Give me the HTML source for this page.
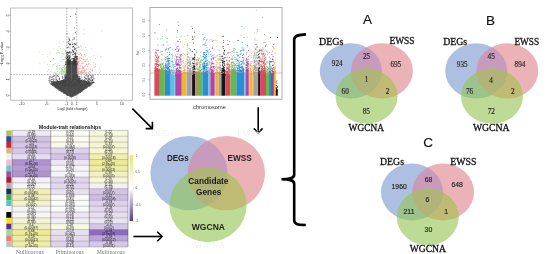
<!DOCTYPE html>
<html><head><meta charset="utf-8"><title>Figure</title>
<style>html,body{margin:0;padding:0;background:#fff;overflow:hidden;} svg{display:block;filter:blur(0.3px);}</style></head>
<body><svg width="550" height="254" viewBox="0 0 550 254">
<rect width="550" height="254" fill="#fff"/>
<rect x="10.5" y="8.0" width="122.0" height="92.2" fill="#fff" stroke="#b0b0b0" stroke-width="0.8"/>
<line x1="8.9" y1="95.3" x2="10.5" y2="95.3" stroke="#777" stroke-width="0.5"/>
<text x="7.4" y="95.3" font-size="4.1" fill="#444" text-anchor="middle" dominant-baseline="central" transform="rotate(-90 7.4 95.3)" font-family="'Liberation Sans', Arial, sans-serif">0</text>
<line x1="8.9" y1="79.3" x2="10.5" y2="79.3" stroke="#777" stroke-width="0.5"/>
<text x="7.4" y="79.3" font-size="4.1" fill="#444" text-anchor="middle" dominant-baseline="central" transform="rotate(-90 7.4 79.3)" font-family="'Liberation Sans', Arial, sans-serif">1</text>
<line x1="8.9" y1="63.3" x2="10.5" y2="63.3" stroke="#777" stroke-width="0.5"/>
<text x="7.4" y="63.3" font-size="4.1" fill="#444" text-anchor="middle" dominant-baseline="central" transform="rotate(-90 7.4 63.3)" font-family="'Liberation Sans', Arial, sans-serif">2</text>
<line x1="8.9" y1="47.3" x2="10.5" y2="47.3" stroke="#777" stroke-width="0.5"/>
<text x="7.4" y="47.3" font-size="4.1" fill="#444" text-anchor="middle" dominant-baseline="central" transform="rotate(-90 7.4 47.3)" font-family="'Liberation Sans', Arial, sans-serif">3</text>
<line x1="8.9" y1="31.3" x2="10.5" y2="31.3" stroke="#777" stroke-width="0.5"/>
<text x="7.4" y="31.3" font-size="4.1" fill="#444" text-anchor="middle" dominant-baseline="central" transform="rotate(-90 7.4 31.3)" font-family="'Liberation Sans', Arial, sans-serif">4</text>
<line x1="8.9" y1="15.3" x2="10.5" y2="15.3" stroke="#777" stroke-width="0.5"/>
<text x="7.4" y="15.3" font-size="4.1" fill="#444" text-anchor="middle" dominant-baseline="central" transform="rotate(-90 7.4 15.3)" font-family="'Liberation Sans', Arial, sans-serif">5</text>
<line x1="21.8" y1="100.2" x2="21.8" y2="101.8" stroke="#777" stroke-width="0.5"/>
<text x="21.8" y="105.2" font-size="3.9" fill="#444" text-anchor="middle" font-family="'Liberation Sans', Arial, sans-serif">-10</text>
<line x1="46.8" y1="100.2" x2="46.8" y2="101.8" stroke="#777" stroke-width="0.5"/>
<text x="46.8" y="105.2" font-size="3.9" fill="#444" text-anchor="middle" font-family="'Liberation Sans', Arial, sans-serif">-5</text>
<line x1="66.8" y1="100.2" x2="66.8" y2="101.8" stroke="#777" stroke-width="0.5"/>
<text x="66.8" y="105.2" font-size="3.9" fill="#444" text-anchor="middle" font-family="'Liberation Sans', Arial, sans-serif">-1</text>
<line x1="71.8" y1="100.2" x2="71.8" y2="101.8" stroke="#777" stroke-width="0.5"/>
<text x="71.8" y="105.2" font-size="3.9" fill="#444" text-anchor="middle" font-family="'Liberation Sans', Arial, sans-serif">0</text>
<line x1="76.8" y1="100.2" x2="76.8" y2="101.8" stroke="#777" stroke-width="0.5"/>
<text x="76.8" y="105.2" font-size="3.9" fill="#444" text-anchor="middle" font-family="'Liberation Sans', Arial, sans-serif">1</text>
<line x1="96.8" y1="100.2" x2="96.8" y2="101.8" stroke="#777" stroke-width="0.5"/>
<text x="96.8" y="105.2" font-size="3.9" fill="#444" text-anchor="middle" font-family="'Liberation Sans', Arial, sans-serif">5</text>
<line x1="121.8" y1="100.2" x2="121.8" y2="101.8" stroke="#777" stroke-width="0.5"/>
<text x="121.8" y="105.2" font-size="3.9" fill="#444" text-anchor="middle" font-family="'Liberation Sans', Arial, sans-serif">10</text>
<text x="72.5" y="109.6" font-size="3.7" fill="#222" text-anchor="middle" font-family="'Liberation Sans', Arial, sans-serif">Log<tspan font-size="2.6" dy="0.8">2</tspan><tspan dy="-0.8"> (fold change)</tspan></text>
<text x="3.4" y="54" font-size="3.7" fill="#222" text-anchor="middle" transform="rotate(-90 3.4 54)" font-family="'Liberation Sans', Arial, sans-serif">−Log<tspan font-size="2.6" dy="0.8">10</tspan><tspan dy="-0.8"> P-value</tspan></text>
<polygon points="50.6,84.0 52.9,85.7 55.2,87.5 57.5,89.1 59.8,90.7 62.2,92.3 64.5,93.7 66.8,95.0 69.1,96.2 71.4,97.0 73.7,96.2 76.0,95.0 78.3,93.7 80.6,92.3 83.0,90.7 85.3,89.1 87.6,87.5 89.9,85.7 92.2,84.0 90.5,82.2 87.0,81.2 83.0,80.4 79.2,79.2 78.2,76.0 77.6,70.0 77.0,64.0 74.6,58.5 72.3,61.0 71.0,61.0 68.8,58.5 66.4,64.0 65.8,70.0 65.2,76.0 64.2,79.2 60.4,80.4 56.4,81.2 52.8,82.2" fill="#4a4a4a"/>
<path fill="#606060" d="M78.6 77.5h0.85v0.85h-0.85zM52.2 76.3h0.85v0.85h-0.85zM63.7 79.3h0.85v0.85h-0.85zM85.1 82.9h0.85v0.85h-0.85zM64.5 82.6h0.85v0.85h-0.85zM70.9 84.2h0.85v0.85h-0.85zM69.2 85.3h0.85v0.85h-0.85zM88.3 84.6h0.85v0.85h-0.85zM90.2 79.4h0.85v0.85h-0.85zM55.7 79.8h0.85v0.85h-0.85zM72.5 84.1h0.85v0.85h-0.85zM79.5 78.9h0.85v0.85h-0.85zM69.9 84.5h0.85v0.85h-0.85zM78.9 85.3h0.85v0.85h-0.85zM64.6 76.1h0.85v0.85h-0.85zM87.0 85.3h0.85v0.85h-0.85zM60.6 83.8h0.85v0.85h-0.85zM74.9 83.6h0.85v0.85h-0.85zM74.3 80.9h0.85v0.85h-0.85zM68.7 79.4h0.85v0.85h-0.85zM53.8 80.7h0.85v0.85h-0.85zM77.3 85.2h0.85v0.85h-0.85zM49.2 80.5h0.85v0.85h-0.85zM63.9 80.8h0.85v0.85h-0.85zM85.0 82.4h0.85v0.85h-0.85zM52.3 82.8h0.85v0.85h-0.85zM87.0 75.7h0.85v0.85h-0.85zM90.3 84.2h0.85v0.85h-0.85zM85.5 75.3h0.85v0.85h-0.85zM53.7 78.8h0.85v0.85h-0.85zM54.6 81.1h0.85v0.85h-0.85zM68.7 82.4h0.85v0.85h-0.85zM73.3 85.3h0.85v0.85h-0.85zM81.7 79.3h0.85v0.85h-0.85zM90.1 82.6h0.85v0.85h-0.85zM61.4 84.1h0.85v0.85h-0.85zM83.4 84.4h0.85v0.85h-0.85zM87.1 77.7h0.85v0.85h-0.85zM65.7 78.9h0.85v0.85h-0.85zM68.7 76.2h0.85v0.85h-0.85zM92.4 81.8h0.85v0.85h-0.85zM83.9 76.8h0.85v0.85h-0.85zM91.1 75.8h0.85v0.85h-0.85zM89.9 84.9h0.85v0.85h-0.85zM77.4 83.4h0.85v0.85h-0.85zM70.6 74.5h0.85v0.85h-0.85zM69.6 79.5h0.85v0.85h-0.85zM72.5 82.2h0.85v0.85h-0.85zM85.8 81.9h0.85v0.85h-0.85zM83.6 80.2h0.85v0.85h-0.85zM87.1 79.7h0.85v0.85h-0.85zM72.4 82.0h0.85v0.85h-0.85zM50.1 79.8h0.85v0.85h-0.85zM70.5 79.7h0.85v0.85h-0.85zM84.5 78.7h0.85v0.85h-0.85zM82.3 82.1h0.85v0.85h-0.85zM65.8 83.8h0.85v0.85h-0.85zM51.3 79.3h0.85v0.85h-0.85zM89.2 83.9h0.85v0.85h-0.85zM58.7 85.2h0.85v0.85h-0.85zM52.9 81.7h0.85v0.85h-0.85zM70.3 77.2h0.85v0.85h-0.85zM86.7 84.8h0.85v0.85h-0.85zM71.1 85.2h0.85v0.85h-0.85zM62.0 78.0h0.85v0.85h-0.85zM74.3 81.0h0.85v0.85h-0.85zM71.4 74.8h0.85v0.85h-0.85zM53.5 81.4h0.85v0.85h-0.85zM48.9 78.6h0.85v0.85h-0.85zM55.4 74.7h0.85v0.85h-0.85zM82.3 83.1h0.85v0.85h-0.85zM68.7 75.6h0.85v0.85h-0.85zM79.1 76.0h0.85v0.85h-0.85zM87.7 80.4h0.85v0.85h-0.85zM72.9 80.8h0.85v0.85h-0.85zM82.4 79.5h0.85v0.85h-0.85zM58.6 84.4h0.85v0.85h-0.85zM89.2 78.6h0.85v0.85h-0.85zM52.2 83.2h0.85v0.85h-0.85zM50.4 76.0h0.85v0.85h-0.85zM54.1 75.5h0.85v0.85h-0.85zM83.0 85.3h0.85v0.85h-0.85zM93.7 78.1h0.85v0.85h-0.85zM91.9 77.1h0.85v0.85h-0.85zM60.9 84.4h0.85v0.85h-0.85zM78.6 85.0h0.85v0.85h-0.85zM85.3 78.1h0.85v0.85h-0.85zM77.3 78.8h0.85v0.85h-0.85zM48.5 78.0h0.85v0.85h-0.85zM70.6 80.1h0.85v0.85h-0.85zM55.1 83.0h0.85v0.85h-0.85zM66.4 82.2h0.85v0.85h-0.85zM85.4 81.7h0.85v0.85h-0.85zM80.1 82.4h0.85v0.85h-0.85zM90.4 83.1h0.85v0.85h-0.85zM90.3 79.5h0.85v0.85h-0.85zM77.5 84.2h0.85v0.85h-0.85zM59.6 84.5h0.85v0.85h-0.85zM72.6 83.6h0.85v0.85h-0.85zM53.8 81.9h0.85v0.85h-0.85zM81.6 82.3h0.85v0.85h-0.85zM75.7 77.5h0.85v0.85h-0.85zM84.8 77.2h0.85v0.85h-0.85zM90.5 83.2h0.85v0.85h-0.85zM62.2 77.3h0.85v0.85h-0.85zM87.2 79.6h0.85v0.85h-0.85zM92.4 83.0h0.85v0.85h-0.85zM59.3 81.8h0.85v0.85h-0.85zM87.2 79.7h0.85v0.85h-0.85zM67.4 83.3h0.85v0.85h-0.85zM50.5 83.3h0.85v0.85h-0.85zM75.2 80.3h0.85v0.85h-0.85zM75.6 82.4h0.85v0.85h-0.85zM70.9 76.6h0.85v0.85h-0.85zM58.6 83.7h0.85v0.85h-0.85zM91.3 76.9h0.85v0.85h-0.85z"/>
<path fill="#404040" d="M73.3 85.4h0.85v0.85h-0.85zM51.9 84.4h0.85v0.85h-0.85zM80.2 78.2h0.85v0.85h-0.85zM56.8 75.4h0.85v0.85h-0.85zM84.0 84.8h0.85v0.85h-0.85zM89.2 82.9h0.85v0.85h-0.85zM55.6 85.6h0.85v0.85h-0.85zM51.7 81.2h0.85v0.85h-0.85zM63.0 81.6h0.85v0.85h-0.85zM63.7 82.8h0.85v0.85h-0.85zM72.4 80.0h0.85v0.85h-0.85zM87.7 76.3h0.85v0.85h-0.85zM82.0 85.2h0.85v0.85h-0.85zM64.7 80.1h0.85v0.85h-0.85zM76.1 74.7h0.85v0.85h-0.85zM79.1 78.6h0.85v0.85h-0.85zM70.6 78.1h0.85v0.85h-0.85zM66.4 75.8h0.85v0.85h-0.85zM78.4 76.2h0.85v0.85h-0.85zM88.9 78.5h0.85v0.85h-0.85zM71.7 82.9h0.85v0.85h-0.85zM53.7 85.3h0.85v0.85h-0.85zM52.9 78.7h0.85v0.85h-0.85zM79.3 84.3h0.85v0.85h-0.85zM85.3 84.2h0.85v0.85h-0.85zM73.5 85.1h0.85v0.85h-0.85zM65.2 84.4h0.85v0.85h-0.85zM58.6 78.4h0.85v0.85h-0.85zM86.3 74.5h0.85v0.85h-0.85zM92.7 75.4h0.85v0.85h-0.85zM92.0 82.1h0.85v0.85h-0.85zM81.8 81.0h0.85v0.85h-0.85zM91.6 75.7h0.85v0.85h-0.85zM58.2 76.2h0.85v0.85h-0.85zM64.8 76.3h0.85v0.85h-0.85zM81.0 76.7h0.85v0.85h-0.85zM60.1 82.2h0.85v0.85h-0.85zM70.2 78.9h0.85v0.85h-0.85zM57.9 84.1h0.85v0.85h-0.85zM49.6 77.3h0.85v0.85h-0.85zM74.9 78.8h0.85v0.85h-0.85zM51.7 79.1h0.85v0.85h-0.85zM61.0 82.7h0.85v0.85h-0.85zM63.6 81.6h0.85v0.85h-0.85zM50.9 81.1h0.85v0.85h-0.85zM58.7 81.2h0.85v0.85h-0.85zM72.3 85.3h0.85v0.85h-0.85zM91.4 79.7h0.85v0.85h-0.85zM92.6 81.9h0.85v0.85h-0.85zM61.9 84.2h0.85v0.85h-0.85zM66.9 81.7h0.85v0.85h-0.85zM63.8 82.0h0.85v0.85h-0.85zM66.9 80.1h0.85v0.85h-0.85zM88.7 83.5h0.85v0.85h-0.85zM67.2 84.9h0.85v0.85h-0.85zM63.0 80.3h0.85v0.85h-0.85zM68.1 83.7h0.85v0.85h-0.85zM67.1 78.9h0.85v0.85h-0.85zM65.7 85.1h0.85v0.85h-0.85zM89.9 77.4h0.85v0.85h-0.85zM49.4 75.9h0.85v0.85h-0.85zM65.8 84.1h0.85v0.85h-0.85zM78.0 81.3h0.85v0.85h-0.85zM59.0 84.1h0.85v0.85h-0.85zM60.3 83.0h0.85v0.85h-0.85zM79.7 83.0h0.85v0.85h-0.85zM79.4 81.7h0.85v0.85h-0.85zM59.0 77.8h0.85v0.85h-0.85zM87.4 82.3h0.85v0.85h-0.85zM88.5 81.4h0.85v0.85h-0.85zM87.9 79.7h0.85v0.85h-0.85zM79.0 79.6h0.85v0.85h-0.85zM71.4 80.9h0.85v0.85h-0.85zM68.1 82.1h0.85v0.85h-0.85zM92.6 74.5h0.85v0.85h-0.85zM63.9 74.9h0.85v0.85h-0.85zM79.6 85.5h0.85v0.85h-0.85zM51.5 82.7h0.85v0.85h-0.85zM84.6 85.5h0.85v0.85h-0.85zM51.6 76.7h0.85v0.85h-0.85zM68.1 79.4h0.85v0.85h-0.85zM89.6 74.5h0.85v0.85h-0.85zM49.5 77.4h0.85v0.85h-0.85zM89.9 75.0h0.85v0.85h-0.85zM85.8 82.3h0.85v0.85h-0.85zM78.5 82.4h0.85v0.85h-0.85zM75.5 81.7h0.85v0.85h-0.85zM86.9 83.3h0.85v0.85h-0.85zM80.0 85.2h0.85v0.85h-0.85zM87.3 84.1h0.85v0.85h-0.85zM61.3 80.7h0.85v0.85h-0.85zM75.2 78.6h0.85v0.85h-0.85zM63.3 79.6h0.85v0.85h-0.85zM68.9 80.1h0.85v0.85h-0.85zM77.8 81.4h0.85v0.85h-0.85zM85.9 78.8h0.85v0.85h-0.85zM63.7 77.0h0.85v0.85h-0.85zM71.5 84.6h0.85v0.85h-0.85zM52.2 84.3h0.85v0.85h-0.85zM77.2 75.2h0.85v0.85h-0.85zM51.1 83.8h0.85v0.85h-0.85zM63.3 80.6h0.85v0.85h-0.85zM81.6 85.5h0.85v0.85h-0.85zM67.5 76.6h0.85v0.85h-0.85zM48.9 82.5h0.85v0.85h-0.85zM56.2 84.5h0.85v0.85h-0.85zM76.1 79.5h0.85v0.85h-0.85zM91.9 79.0h0.85v0.85h-0.85zM75.6 83.7h0.85v0.85h-0.85zM87.6 79.9h0.85v0.85h-0.85zM53.6 82.6h0.85v0.85h-0.85zM91.5 80.6h0.85v0.85h-0.85zM69.6 83.2h0.85v0.85h-0.85zM69.4 80.8h0.85v0.85h-0.85zM73.5 77.7h0.85v0.85h-0.85zM51.8 81.5h0.85v0.85h-0.85zM69.3 77.4h0.85v0.85h-0.85zM52.2 82.8h0.85v0.85h-0.85zM89.3 79.7h0.85v0.85h-0.85zM83.8 79.4h0.85v0.85h-0.85zM72.5 74.9h0.85v0.85h-0.85zM63.0 82.4h0.85v0.85h-0.85zM71.0 82.3h0.85v0.85h-0.85zM58.3 82.0h0.85v0.85h-0.85zM88.7 79.1h0.85v0.85h-0.85zM59.2 78.9h0.85v0.85h-0.85zM66.3 80.3h0.85v0.85h-0.85zM85.7 78.1h0.85v0.85h-0.85zM83.2 80.3h0.85v0.85h-0.85zM54.5 85.5h0.85v0.85h-0.85zM90.2 80.2h0.85v0.85h-0.85zM79.2 84.2h0.85v0.85h-0.85zM88.1 81.1h0.85v0.85h-0.85zM64.0 80.9h0.85v0.85h-0.85zM64.0 85.6h0.85v0.85h-0.85zM73.5 85.2h0.85v0.85h-0.85zM57.3 74.8h0.85v0.85h-0.85zM65.6 83.2h0.85v0.85h-0.85zM85.3 84.2h0.85v0.85h-0.85zM91.4 80.1h0.85v0.85h-0.85zM73.0 82.0h0.85v0.85h-0.85zM78.5 78.1h0.85v0.85h-0.85zM75.1 85.1h0.85v0.85h-0.85zM66.4 79.8h0.85v0.85h-0.85zM91.1 77.6h0.85v0.85h-0.85zM50.7 83.6h0.85v0.85h-0.85zM54.9 82.3h0.85v0.85h-0.85zM56.4 83.1h0.85v0.85h-0.85zM79.9 78.4h0.85v0.85h-0.85zM65.2 84.3h0.85v0.85h-0.85zM51.4 76.9h0.85v0.85h-0.85zM51.6 78.5h0.85v0.85h-0.85zM66.0 82.6h0.85v0.85h-0.85zM88.3 75.4h0.85v0.85h-0.85zM64.8 83.0h0.85v0.85h-0.85zM75.6 77.2h0.85v0.85h-0.85zM87.1 82.4h0.85v0.85h-0.85zM77.0 79.9h0.85v0.85h-0.85zM51.0 82.0h0.85v0.85h-0.85zM89.1 81.2h0.85v0.85h-0.85zM78.7 79.1h0.85v0.85h-0.85zM55.3 82.2h0.85v0.85h-0.85zM62.9 84.2h0.85v0.85h-0.85zM72.5 84.2h0.85v0.85h-0.85zM85.5 81.0h0.85v0.85h-0.85zM75.2 76.3h0.85v0.85h-0.85zM88.0 77.8h0.85v0.85h-0.85zM62.4 84.6h0.85v0.85h-0.85zM74.5 84.3h0.85v0.85h-0.85zM65.5 81.9h0.85v0.85h-0.85zM71.4 83.1h0.85v0.85h-0.85zM69.1 84.2h0.85v0.85h-0.85zM69.0 79.2h0.85v0.85h-0.85zM84.5 85.2h0.85v0.85h-0.85zM74.8 84.2h0.85v0.85h-0.85zM88.1 85.2h0.85v0.85h-0.85zM53.6 75.0h0.85v0.85h-0.85zM88.9 83.4h0.85v0.85h-0.85zM88.8 84.8h0.85v0.85h-0.85zM59.1 82.9h0.85v0.85h-0.85zM55.4 77.8h0.85v0.85h-0.85zM79.4 80.3h0.85v0.85h-0.85zM74.2 83.9h0.85v0.85h-0.85zM55.6 82.7h0.85v0.85h-0.85zM76.7 81.1h0.85v0.85h-0.85zM75.7 84.3h0.85v0.85h-0.85zM77.4 84.7h0.85v0.85h-0.85zM82.6 84.6h0.85v0.85h-0.85zM72.8 78.9h0.85v0.85h-0.85zM64.0 80.9h0.85v0.85h-0.85zM78.6 80.7h0.85v0.85h-0.85zM69.2 82.8h0.85v0.85h-0.85zM62.4 80.9h0.85v0.85h-0.85zM63.0 83.6h0.85v0.85h-0.85zM69.9 85.2h0.85v0.85h-0.85zM87.8 75.4h0.85v0.85h-0.85zM77.4 75.9h0.85v0.85h-0.85zM91.9 82.7h0.85v0.85h-0.85zM68.9 81.9h0.85v0.85h-0.85zM69.3 85.4h0.85v0.85h-0.85zM69.1 80.5h0.85v0.85h-0.85zM68.9 83.7h0.85v0.85h-0.85zM84.5 80.1h0.85v0.85h-0.85zM63.7 81.2h0.85v0.85h-0.85zM73.5 81.7h0.85v0.85h-0.85zM63.8 84.3h0.85v0.85h-0.85zM88.5 82.9h0.85v0.85h-0.85zM61.6 80.0h0.85v0.85h-0.85zM51.6 81.4h0.85v0.85h-0.85zM71.1 81.5h0.85v0.85h-0.85zM66.7 84.8h0.85v0.85h-0.85zM65.9 85.0h0.85v0.85h-0.85zM56.4 79.7h0.85v0.85h-0.85zM79.0 77.6h0.85v0.85h-0.85zM68.9 84.5h0.85v0.85h-0.85zM73.2 75.6h0.85v0.85h-0.85zM77.5 85.3h0.85v0.85h-0.85zM79.7 84.4h0.85v0.85h-0.85zM67.0 84.0h0.85v0.85h-0.85zM76.7 77.0h0.85v0.85h-0.85zM59.6 82.0h0.85v0.85h-0.85zM65.2 80.7h0.85v0.85h-0.85zM90.5 81.5h0.85v0.85h-0.85zM53.2 80.3h0.85v0.85h-0.85zM92.5 79.2h0.85v0.85h-0.85zM78.4 79.0h0.85v0.85h-0.85zM71.3 83.7h0.85v0.85h-0.85zM77.8 80.2h0.85v0.85h-0.85zM53.4 76.1h0.85v0.85h-0.85zM52.8 81.0h0.85v0.85h-0.85zM76.9 80.1h0.85v0.85h-0.85zM53.7 82.4h0.85v0.85h-0.85zM53.6 82.2h0.85v0.85h-0.85zM78.3 79.0h0.85v0.85h-0.85zM65.0 80.6h0.85v0.85h-0.85zM67.4 84.8h0.85v0.85h-0.85zM81.4 84.5h0.85v0.85h-0.85zM62.0 76.1h0.85v0.85h-0.85zM72.3 78.9h0.85v0.85h-0.85zM72.5 78.7h0.85v0.85h-0.85zM61.6 81.7h0.85v0.85h-0.85zM69.4 81.0h0.85v0.85h-0.85zM91.2 82.1h0.85v0.85h-0.85zM72.2 81.3h0.85v0.85h-0.85zM65.4 81.2h0.85v0.85h-0.85zM63.8 80.9h0.85v0.85h-0.85zM52.6 83.9h0.85v0.85h-0.85zM62.8 82.4h0.85v0.85h-0.85zM73.7 78.4h0.85v0.85h-0.85zM49.7 81.4h0.85v0.85h-0.85zM48.5 80.3h0.85v0.85h-0.85zM65.9 82.8h0.85v0.85h-0.85zM61.0 85.3h0.85v0.85h-0.85zM73.6 83.7h0.85v0.85h-0.85zM73.4 85.2h0.85v0.85h-0.85zM88.0 79.4h0.85v0.85h-0.85zM60.0 83.4h0.85v0.85h-0.85zM86.0 81.3h0.85v0.85h-0.85zM55.8 77.5h0.85v0.85h-0.85zM72.2 81.2h0.85v0.85h-0.85zM70.3 80.3h0.85v0.85h-0.85zM55.7 81.3h0.85v0.85h-0.85zM93.3 81.0h0.85v0.85h-0.85zM87.1 82.2h0.85v0.85h-0.85zM77.5 84.8h0.85v0.85h-0.85zM93.2 77.5h0.85v0.85h-0.85zM55.8 79.2h0.85v0.85h-0.85zM57.6 84.3h0.85v0.85h-0.85zM92.2 80.1h0.85v0.85h-0.85zM85.9 84.1h0.85v0.85h-0.85zM61.6 82.6h0.85v0.85h-0.85zM93.1 82.1h0.85v0.85h-0.85zM81.3 83.6h0.85v0.85h-0.85zM88.2 81.2h0.85v0.85h-0.85zM72.3 75.2h0.85v0.85h-0.85zM79.3 77.8h0.85v0.85h-0.85zM78.3 83.5h0.85v0.85h-0.85zM85.2 85.4h0.85v0.85h-0.85zM64.9 81.8h0.85v0.85h-0.85zM58.6 83.6h0.85v0.85h-0.85zM61.4 81.7h0.85v0.85h-0.85zM53.5 85.5h0.85v0.85h-0.85zM78.9 82.3h0.85v0.85h-0.85zM57.1 79.8h0.85v0.85h-0.85zM55.7 75.9h0.85v0.85h-0.85zM66.3 74.8h0.85v0.85h-0.85zM84.7 79.9h0.85v0.85h-0.85zM68.5 85.2h0.85v0.85h-0.85zM64.8 81.4h0.85v0.85h-0.85zM86.4 83.8h0.85v0.85h-0.85zM77.0 84.9h0.85v0.85h-0.85zM67.3 83.8h0.85v0.85h-0.85zM70.7 75.2h0.85v0.85h-0.85zM53.0 81.9h0.85v0.85h-0.85zM71.0 85.1h0.85v0.85h-0.85zM93.7 81.9h0.85v0.85h-0.85zM59.7 83.8h0.85v0.85h-0.85zM85.8 81.8h0.85v0.85h-0.85zM75.6 83.9h0.85v0.85h-0.85zM72.2 79.9h0.85v0.85h-0.85zM81.1 80.3h0.85v0.85h-0.85zM84.3 76.7h0.85v0.85h-0.85zM63.6 81.8h0.85v0.85h-0.85zM52.3 81.5h0.85v0.85h-0.85z"/>
<path fill="#5a5a5a" d="M81.1 91.0h0.85v0.85h-0.85zM58.5 89.9h0.85v0.85h-0.85zM58.9 89.9h0.85v0.85h-0.85zM69.6 96.3h0.85v0.85h-0.85zM76.4 94.0h0.85v0.85h-0.85zM61.0 91.4h0.85v0.85h-0.85zM63.4 93.0h0.85v0.85h-0.85zM79.2 92.4h0.85v0.85h-0.85zM91.4 83.8h0.85v0.85h-0.85zM75.1 94.8h0.85v0.85h-0.85zM57.4 88.8h0.85v0.85h-0.85zM50.6 83.4h0.85v0.85h-0.85zM52.0 84.9h0.85v0.85h-0.85zM63.9 92.8h0.85v0.85h-0.85zM67.0 95.1h0.85v0.85h-0.85zM52.9 85.2h0.85v0.85h-0.85zM86.5 87.2h0.85v0.85h-0.85zM77.9 92.8h0.85v0.85h-0.85zM52.1 85.0h0.85v0.85h-0.85zM81.0 91.0h0.85v0.85h-0.85zM69.6 95.7h0.85v0.85h-0.85zM84.5 88.5h0.85v0.85h-0.85zM73.6 95.7h0.85v0.85h-0.85zM59.2 90.2h0.85v0.85h-0.85zM70.8 96.6h0.85v0.85h-0.85zM86.0 87.7h0.85v0.85h-0.85zM69.9 96.3h0.85v0.85h-0.85zM79.8 91.8h0.85v0.85h-0.85zM89.3 85.3h0.85v0.85h-0.85zM60.7 90.9h0.85v0.85h-0.85zM67.0 94.8h0.85v0.85h-0.85zM64.7 93.5h0.85v0.85h-0.85zM90.5 84.7h0.85v0.85h-0.85zM61.1 91.1h0.85v0.85h-0.85zM66.1 94.1h0.85v0.85h-0.85zM59.7 90.3h0.85v0.85h-0.85zM67.7 94.8h0.85v0.85h-0.85zM71.9 96.1h0.85v0.85h-0.85zM89.6 85.3h0.85v0.85h-0.85zM76.9 93.7h0.85v0.85h-0.85zM55.2 87.3h0.85v0.85h-0.85zM88.8 86.0h0.85v0.85h-0.85zM88.7 85.9h0.85v0.85h-0.85zM64.7 93.3h0.85v0.85h-0.85zM59.7 90.3h0.85v0.85h-0.85zM55.3 87.2h0.85v0.85h-0.85zM90.4 84.6h0.85v0.85h-0.85zM79.4 92.0h0.85v0.85h-0.85zM71.3 96.3h0.85v0.85h-0.85zM88.5 86.0h0.85v0.85h-0.85zM62.9 92.3h0.85v0.85h-0.85zM55.0 87.0h0.85v0.85h-0.85zM76.3 94.0h0.85v0.85h-0.85zM89.1 85.7h0.85v0.85h-0.85zM73.1 95.6h0.85v0.85h-0.85zM77.5 93.5h0.85v0.85h-0.85zM80.7 91.2h0.85v0.85h-0.85zM67.1 94.6h0.85v0.85h-0.85zM56.2 87.8h0.85v0.85h-0.85zM61.2 91.2h0.85v0.85h-0.85zM70.2 96.1h0.85v0.85h-0.85zM80.6 91.3h0.85v0.85h-0.85zM79.9 92.2h0.85v0.85h-0.85zM71.1 96.6h0.85v0.85h-0.85zM53.8 86.0h0.85v0.85h-0.85zM54.1 86.4h0.85v0.85h-0.85zM66.1 94.3h0.85v0.85h-0.85zM60.0 90.3h0.85v0.85h-0.85zM81.7 91.0h0.85v0.85h-0.85zM58.4 89.6h0.85v0.85h-0.85z"/>
<path fill="#3a3a3a" d="M70.8 58.6h0.85v0.85h-0.85zM72.5 62.6h0.85v0.85h-0.85zM72.8 54.2h0.85v0.85h-0.85zM70.6 59.0h0.85v0.85h-0.85zM69.6 64.3h0.85v0.85h-0.85zM66.8 59.5h0.85v0.85h-0.85zM73.6 64.0h0.85v0.85h-0.85zM65.4 62.2h0.85v0.85h-0.85zM75.3 56.9h0.85v0.85h-0.85zM75.3 44.1h0.85v0.85h-0.85zM68.2 59.1h0.85v0.85h-0.85zM74.7 58.9h0.85v0.85h-0.85zM74.7 56.8h0.85v0.85h-0.85zM69.5 60.1h0.85v0.85h-0.85zM75.4 55.7h0.85v0.85h-0.85zM70.4 63.9h0.85v0.85h-0.85zM68.5 62.1h0.85v0.85h-0.85zM69.1 63.4h0.85v0.85h-0.85zM69.4 57.0h0.85v0.85h-0.85zM73.6 37.3h0.85v0.85h-0.85zM69.8 63.4h0.85v0.85h-0.85zM66.5 54.6h0.85v0.85h-0.85zM75.7 62.9h0.85v0.85h-0.85zM67.2 60.2h0.85v0.85h-0.85zM70.2 56.5h0.85v0.85h-0.85zM69.6 44.7h0.85v0.85h-0.85zM70.0 64.1h0.85v0.85h-0.85zM68.7 63.5h0.85v0.85h-0.85zM72.3 46.6h0.85v0.85h-0.85zM67.9 56.4h0.85v0.85h-0.85zM66.2 53.2h0.85v0.85h-0.85zM75.3 62.2h0.85v0.85h-0.85zM76.0 57.5h0.85v0.85h-0.85zM66.5 63.3h0.85v0.85h-0.85zM73.2 62.7h0.85v0.85h-0.85zM66.9 56.1h0.85v0.85h-0.85zM74.9 56.4h0.85v0.85h-0.85zM75.7 62.8h0.85v0.85h-0.85zM68.6 64.4h0.85v0.85h-0.85zM68.4 55.7h0.85v0.85h-0.85zM70.1 62.3h0.85v0.85h-0.85zM65.4 61.0h0.85v0.85h-0.85zM68.4 52.1h0.85v0.85h-0.85zM72.2 58.0h0.85v0.85h-0.85zM76.1 60.9h0.85v0.85h-0.85zM76.0 63.3h0.85v0.85h-0.85zM68.1 60.9h0.85v0.85h-0.85zM69.2 64.0h0.85v0.85h-0.85zM66.4 57.8h0.85v0.85h-0.85zM74.8 55.2h0.85v0.85h-0.85zM75.6 60.7h0.85v0.85h-0.85zM69.0 59.9h0.85v0.85h-0.85zM75.1 32.3h0.85v0.85h-0.85zM72.5 58.5h0.85v0.85h-0.85zM73.8 43.2h0.85v0.85h-0.85zM67.4 62.2h0.85v0.85h-0.85zM77.0 63.0h0.85v0.85h-0.85zM75.3 64.2h0.85v0.85h-0.85zM67.1 59.1h0.85v0.85h-0.85zM75.8 63.8h0.85v0.85h-0.85zM74.8 62.2h0.85v0.85h-0.85zM74.3 61.3h0.85v0.85h-0.85zM76.2 60.7h0.85v0.85h-0.85zM74.5 60.7h0.85v0.85h-0.85zM74.9 64.0h0.85v0.85h-0.85zM74.2 62.7h0.85v0.85h-0.85zM73.7 63.4h0.85v0.85h-0.85zM73.2 64.3h0.85v0.85h-0.85zM70.3 44.1h0.85v0.85h-0.85zM76.8 59.4h0.85v0.85h-0.85zM68.4 58.7h0.85v0.85h-0.85zM75.2 63.4h0.85v0.85h-0.85zM73.8 59.1h0.85v0.85h-0.85zM72.1 64.4h0.85v0.85h-0.85zM75.7 60.3h0.85v0.85h-0.85zM69.3 64.3h0.85v0.85h-0.85zM69.8 64.2h0.85v0.85h-0.85zM66.5 62.9h0.85v0.85h-0.85zM67.9 58.6h0.85v0.85h-0.85zM68.0 64.4h0.85v0.85h-0.85zM68.8 38.4h0.85v0.85h-0.85zM68.5 62.4h0.85v0.85h-0.85zM66.4 62.3h0.85v0.85h-0.85zM74.3 63.4h0.85v0.85h-0.85zM75.8 57.3h0.85v0.85h-0.85zM68.5 58.2h0.85v0.85h-0.85zM74.5 64.2h0.85v0.85h-0.85zM74.1 38.5h0.85v0.85h-0.85zM72.8 58.9h0.85v0.85h-0.85zM74.5 48.6h0.85v0.85h-0.85zM74.5 59.5h0.85v0.85h-0.85zM74.2 60.6h0.85v0.85h-0.85zM69.0 57.7h0.85v0.85h-0.85zM68.7 64.2h0.85v0.85h-0.85zM68.6 63.8h0.85v0.85h-0.85zM73.2 58.6h0.85v0.85h-0.85zM70.0 62.8h0.85v0.85h-0.85zM74.0 60.4h0.85v0.85h-0.85zM68.0 61.8h0.85v0.85h-0.85zM76.7 56.2h0.85v0.85h-0.85zM72.8 63.4h0.85v0.85h-0.85zM69.4 64.1h0.85v0.85h-0.85zM74.5 63.3h0.85v0.85h-0.85zM72.7 58.8h0.85v0.85h-0.85zM74.7 62.3h0.85v0.85h-0.85zM69.9 59.8h0.85v0.85h-0.85zM75.0 59.7h0.85v0.85h-0.85zM69.7 63.5h0.85v0.85h-0.85zM69.6 60.4h0.85v0.85h-0.85zM69.4 60.5h0.85v0.85h-0.85zM74.6 60.8h0.85v0.85h-0.85zM75.1 52.3h0.85v0.85h-0.85zM67.3 52.1h0.85v0.85h-0.85zM67.1 62.0h0.85v0.85h-0.85zM70.1 63.7h0.85v0.85h-0.85zM73.9 27.5h0.85v0.85h-0.85zM76.9 57.6h0.85v0.85h-0.85zM69.6 60.7h0.85v0.85h-0.85zM66.3 61.6h0.85v0.85h-0.85zM76.6 63.0h0.85v0.85h-0.85zM73.1 61.1h0.85v0.85h-0.85zM75.4 62.3h0.85v0.85h-0.85zM67.6 59.6h0.85v0.85h-0.85zM70.4 63.8h0.85v0.85h-0.85zM72.4 58.2h0.85v0.85h-0.85zM68.7 62.2h0.85v0.85h-0.85zM65.7 61.5h0.85v0.85h-0.85zM75.9 58.3h0.85v0.85h-0.85zM67.8 62.2h0.85v0.85h-0.85zM67.5 61.0h0.85v0.85h-0.85zM75.0 54.4h0.85v0.85h-0.85zM72.5 58.7h0.85v0.85h-0.85zM67.5 62.9h0.85v0.85h-0.85zM76.2 58.7h0.85v0.85h-0.85zM73.9 61.6h0.85v0.85h-0.85zM68.2 61.9h0.85v0.85h-0.85zM65.0 64.3h0.85v0.85h-0.85zM70.3 58.4h0.85v0.85h-0.85zM74.3 61.4h0.85v0.85h-0.85zM70.1 61.3h0.85v0.85h-0.85zM65.3 62.4h0.85v0.85h-0.85zM69.2 55.6h0.85v0.85h-0.85zM74.2 59.9h0.85v0.85h-0.85zM77.0 58.0h0.85v0.85h-0.85zM76.4 61.8h0.85v0.85h-0.85zM65.8 58.1h0.85v0.85h-0.85zM74.3 57.0h0.85v0.85h-0.85zM70.1 62.3h0.85v0.85h-0.85zM65.6 61.0h0.85v0.85h-0.85zM65.0 56.7h0.85v0.85h-0.85zM73.0 64.3h0.85v0.85h-0.85zM67.5 57.0h0.85v0.85h-0.85zM69.4 60.8h0.85v0.85h-0.85zM76.3 63.5h0.85v0.85h-0.85zM70.4 59.6h0.85v0.85h-0.85zM72.4 46.3h0.85v0.85h-0.85zM75.8 43.5h0.85v0.85h-0.85zM68.8 63.1h0.85v0.85h-0.85zM69.0 52.4h0.85v0.85h-0.85zM67.7 60.5h0.85v0.85h-0.85zM68.1 52.4h0.85v0.85h-0.85zM66.2 55.4h0.85v0.85h-0.85zM73.7 62.4h0.85v0.85h-0.85zM69.1 60.5h0.85v0.85h-0.85zM75.9 56.1h0.85v0.85h-0.85zM72.1 62.5h0.85v0.85h-0.85zM67.4 54.5h0.85v0.85h-0.85zM74.5 55.9h0.85v0.85h-0.85zM74.4 43.3h0.85v0.85h-0.85zM74.0 53.3h0.85v0.85h-0.85zM68.7 63.8h0.85v0.85h-0.85zM73.5 58.3h0.85v0.85h-0.85zM66.7 57.3h0.85v0.85h-0.85zM68.2 63.1h0.85v0.85h-0.85zM73.2 58.1h0.85v0.85h-0.85zM69.0 60.2h0.85v0.85h-0.85zM66.2 56.7h0.85v0.85h-0.85zM68.4 58.2h0.85v0.85h-0.85zM74.4 63.7h0.85v0.85h-0.85zM72.6 49.5h0.85v0.85h-0.85zM65.8 59.7h0.85v0.85h-0.85zM74.9 48.0h0.85v0.85h-0.85zM73.2 61.6h0.85v0.85h-0.85zM69.2 61.6h0.85v0.85h-0.85zM75.1 53.7h0.85v0.85h-0.85zM65.7 61.1h0.85v0.85h-0.85zM77.1 63.4h0.85v0.85h-0.85zM68.8 63.2h0.85v0.85h-0.85zM67.2 59.9h0.85v0.85h-0.85zM74.1 53.5h0.85v0.85h-0.85zM67.8 59.2h0.85v0.85h-0.85zM67.9 61.9h0.85v0.85h-0.85zM74.9 63.0h0.85v0.85h-0.85zM76.5 58.5h0.85v0.85h-0.85zM64.9 63.7h0.85v0.85h-0.85zM75.0 64.3h0.85v0.85h-0.85zM68.7 57.5h0.85v0.85h-0.85zM67.2 64.1h0.85v0.85h-0.85zM72.6 54.1h0.85v0.85h-0.85zM68.5 62.7h0.85v0.85h-0.85zM76.4 61.3h0.85v0.85h-0.85zM68.6 62.3h0.85v0.85h-0.85zM76.1 64.1h0.85v0.85h-0.85zM75.6 64.0h0.85v0.85h-0.85zM72.9 51.1h0.85v0.85h-0.85zM66.9 57.8h0.85v0.85h-0.85zM75.3 57.6h0.85v0.85h-0.85zM67.7 63.8h0.85v0.85h-0.85zM68.6 62.0h0.85v0.85h-0.85zM69.5 62.2h0.85v0.85h-0.85zM69.1 62.2h0.85v0.85h-0.85zM73.1 60.1h0.85v0.85h-0.85zM74.1 64.2h0.85v0.85h-0.85zM67.0 59.9h0.85v0.85h-0.85zM72.7 63.9h0.85v0.85h-0.85zM68.5 54.9h0.85v0.85h-0.85zM70.1 64.3h0.85v0.85h-0.85zM77.0 55.9h0.85v0.85h-0.85zM75.1 61.2h0.85v0.85h-0.85zM66.9 63.0h0.85v0.85h-0.85zM69.8 59.9h0.85v0.85h-0.85zM70.0 62.8h0.85v0.85h-0.85zM75.6 63.8h0.85v0.85h-0.85zM66.6 55.0h0.85v0.85h-0.85zM74.9 64.2h0.85v0.85h-0.85zM66.9 62.4h0.85v0.85h-0.85zM67.8 64.0h0.85v0.85h-0.85zM68.8 56.9h0.85v0.85h-0.85zM73.5 58.3h0.85v0.85h-0.85zM67.0 63.7h0.85v0.85h-0.85zM67.8 62.8h0.85v0.85h-0.85zM75.0 56.9h0.85v0.85h-0.85zM69.5 64.1h0.85v0.85h-0.85zM69.7 61.0h0.85v0.85h-0.85zM73.4 62.4h0.85v0.85h-0.85zM68.7 63.1h0.85v0.85h-0.85zM76.0 63.8h0.85v0.85h-0.85zM69.4 52.0h0.85v0.85h-0.85zM74.5 64.4h0.85v0.85h-0.85zM77.4 62.3h0.85v0.85h-0.85zM77.7 61.1h0.85v0.85h-0.85zM73.0 63.5h0.85v0.85h-0.85zM68.3 63.0h0.85v0.85h-0.85zM76.0 63.4h0.85v0.85h-0.85zM69.3 56.7h0.85v0.85h-0.85zM67.0 51.8h0.85v0.85h-0.85zM69.2 58.0h0.85v0.85h-0.85zM74.2 62.8h0.85v0.85h-0.85zM68.5 59.8h0.85v0.85h-0.85zM68.2 64.2h0.85v0.85h-0.85zM73.5 61.7h0.85v0.85h-0.85zM69.4 43.7h0.85v0.85h-0.85zM70.3 62.8h0.85v0.85h-0.85zM75.9 64.1h0.85v0.85h-0.85zM66.0 52.2h0.85v0.85h-0.85zM75.7 59.6h0.85v0.85h-0.85zM73.5 62.3h0.85v0.85h-0.85zM69.1 62.8h0.85v0.85h-0.85zM69.4 63.6h0.85v0.85h-0.85zM75.0 64.4h0.85v0.85h-0.85zM67.7 58.7h0.85v0.85h-0.85zM74.9 64.4h0.85v0.85h-0.85zM68.6 61.3h0.85v0.85h-0.85zM75.4 64.1h0.85v0.85h-0.85zM68.6 52.2h0.85v0.85h-0.85zM76.6 64.3h0.85v0.85h-0.85zM72.8 50.4h0.85v0.85h-0.85zM68.2 64.4h0.85v0.85h-0.85zM73.0 62.6h0.85v0.85h-0.85zM68.0 58.5h0.85v0.85h-0.85zM75.9 61.2h0.85v0.85h-0.85zM74.7 59.4h0.85v0.85h-0.85zM67.0 61.7h0.85v0.85h-0.85zM68.0 63.6h0.85v0.85h-0.85zM74.8 55.2h0.85v0.85h-0.85zM66.9 60.5h0.85v0.85h-0.85zM67.4 61.6h0.85v0.85h-0.85zM74.3 58.0h0.85v0.85h-0.85zM73.8 64.0h0.85v0.85h-0.85zM66.9 59.1h0.85v0.85h-0.85zM69.4 56.8h0.85v0.85h-0.85zM70.1 61.5h0.85v0.85h-0.85zM74.1 60.2h0.85v0.85h-0.85zM66.4 60.3h0.85v0.85h-0.85zM73.0 62.4h0.85v0.85h-0.85zM67.0 61.7h0.85v0.85h-0.85zM69.7 51.6h0.85v0.85h-0.85zM73.2 58.1h0.85v0.85h-0.85zM71.9 54.5h0.85v0.85h-0.85zM66.6 63.5h0.85v0.85h-0.85zM66.8 53.6h0.85v0.85h-0.85zM64.8 49.7h0.85v0.85h-0.85zM68.0 52.0h0.85v0.85h-0.85zM76.6 56.3h0.85v0.85h-0.85zM69.7 54.6h0.85v0.85h-0.85zM68.1 62.8h0.85v0.85h-0.85zM77.9 47.2h0.85v0.85h-0.85zM72.7 61.5h0.85v0.85h-0.85zM67.0 61.8h0.85v0.85h-0.85zM76.2 61.3h0.85v0.85h-0.85zM73.2 52.0h0.85v0.85h-0.85zM73.5 56.5h0.85v0.85h-0.85zM72.8 62.3h0.85v0.85h-0.85zM68.0 61.8h0.85v0.85h-0.85zM75.3 53.0h0.85v0.85h-0.85zM66.7 57.1h0.85v0.85h-0.85zM68.2 63.9h0.85v0.85h-0.85zM69.1 60.1h0.85v0.85h-0.85z"/>
<path fill="#4a4a4a" d="M68.4 43.1h0.85v0.85h-0.85zM69.8 43.4h0.85v0.85h-0.85zM74.2 47.3h0.85v0.85h-0.85zM72.5 43.4h0.85v0.85h-0.85zM68.7 39.1h0.85v0.85h-0.85zM73.1 46.5h0.85v0.85h-0.85zM69.9 43.7h0.85v0.85h-0.85zM73.4 51.1h0.85v0.85h-0.85zM67.9 52.8h0.85v0.85h-0.85zM69.7 47.6h0.85v0.85h-0.85zM70.2 52.7h0.85v0.85h-0.85zM75.0 13.6h0.85v0.85h-0.85zM71.6 41.7h0.85v0.85h-0.85zM72.1 39.5h0.85v0.85h-0.85zM73.1 46.1h0.85v0.85h-0.85zM69.0 43.9h0.85v0.85h-0.85zM71.9 51.3h0.85v0.85h-0.85zM73.4 51.4h0.85v0.85h-0.85zM68.9 51.3h0.85v0.85h-0.85zM75.7 50.4h0.85v0.85h-0.85zM70.9 52.3h0.85v0.85h-0.85zM70.1 43.9h0.85v0.85h-0.85zM66.9 47.1h0.85v0.85h-0.85zM73.3 38.7h0.85v0.85h-0.85zM74.2 48.9h0.85v0.85h-0.85zM66.6 33.5h0.85v0.85h-0.85zM73.8 44.5h0.85v0.85h-0.85zM74.6 48.8h0.85v0.85h-0.85zM69.5 40.0h0.85v0.85h-0.85zM68.5 37.5h0.85v0.85h-0.85zM67.4 41.6h0.85v0.85h-0.85zM72.0 49.8h0.85v0.85h-0.85zM68.9 39.8h0.85v0.85h-0.85zM68.2 46.7h0.85v0.85h-0.85zM70.2 16.0h0.85v0.85h-0.85zM68.3 41.4h0.85v0.85h-0.85zM74.8 52.4h0.85v0.85h-0.85zM72.0 44.3h0.85v0.85h-0.85z"/>
<path fill="#a9d08f" d="M60.8 61.2h0.85v0.85h-0.85zM63.4 53.6h0.85v0.85h-0.85zM65.9 73.3h0.85v0.85h-0.85zM65.6 61.0h0.85v0.85h-0.85zM51.9 65.5h0.85v0.85h-0.85zM66.0 70.4h0.85v0.85h-0.85zM60.7 68.1h0.85v0.85h-0.85zM62.8 59.1h0.85v0.85h-0.85zM64.1 71.0h0.85v0.85h-0.85zM53.2 64.2h0.85v0.85h-0.85zM65.7 66.6h0.85v0.85h-0.85zM60.9 72.5h0.85v0.85h-0.85zM62.4 64.9h0.85v0.85h-0.85zM39.5 52.2h0.85v0.85h-0.85zM62.1 70.1h0.85v0.85h-0.85zM59.4 64.8h0.85v0.85h-0.85zM60.9 72.8h0.85v0.85h-0.85zM64.7 66.6h0.85v0.85h-0.85zM52.2 65.4h0.85v0.85h-0.85zM63.8 65.1h0.85v0.85h-0.85zM65.4 71.8h0.85v0.85h-0.85zM64.5 67.4h0.85v0.85h-0.85zM59.5 60.4h0.85v0.85h-0.85zM56.2 65.9h0.85v0.85h-0.85zM55.1 72.7h0.85v0.85h-0.85zM54.6 72.7h0.85v0.85h-0.85zM58.6 46.3h0.85v0.85h-0.85zM62.5 67.0h0.85v0.85h-0.85zM57.8 51.8h0.85v0.85h-0.85zM62.1 73.2h0.85v0.85h-0.85zM63.7 70.4h0.85v0.85h-0.85zM61.0 68.6h0.85v0.85h-0.85zM61.5 55.8h0.85v0.85h-0.85zM63.8 53.8h0.85v0.85h-0.85zM57.6 63.3h0.85v0.85h-0.85zM61.2 71.3h0.85v0.85h-0.85zM65.1 67.7h0.85v0.85h-0.85zM62.5 73.1h0.85v0.85h-0.85zM64.3 68.8h0.85v0.85h-0.85zM64.6 69.7h0.85v0.85h-0.85zM55.5 72.5h0.85v0.85h-0.85zM63.1 73.1h0.85v0.85h-0.85zM63.1 72.9h0.85v0.85h-0.85zM65.5 58.6h0.85v0.85h-0.85zM59.2 41.7h0.85v0.85h-0.85zM66.1 59.7h0.85v0.85h-0.85zM61.9 67.5h0.85v0.85h-0.85zM59.6 72.7h0.85v0.85h-0.85zM57.1 71.2h0.85v0.85h-0.85zM60.6 69.7h0.85v0.85h-0.85zM63.2 70.6h0.85v0.85h-0.85zM52.6 64.2h0.85v0.85h-0.85zM41.8 54.0h0.85v0.85h-0.85zM64.4 69.0h0.85v0.85h-0.85zM57.4 67.2h0.85v0.85h-0.85zM54.2 72.4h0.85v0.85h-0.85zM63.0 58.9h0.85v0.85h-0.85zM64.0 65.9h0.85v0.85h-0.85zM63.9 65.9h0.85v0.85h-0.85zM63.2 71.0h0.85v0.85h-0.85zM53.0 58.1h0.85v0.85h-0.85zM57.2 65.5h0.85v0.85h-0.85zM59.7 67.2h0.85v0.85h-0.85zM63.1 71.6h0.85v0.85h-0.85zM49.9 61.1h0.85v0.85h-0.85zM48.6 69.0h0.85v0.85h-0.85zM39.4 63.5h0.85v0.85h-0.85zM59.1 68.4h0.85v0.85h-0.85zM63.6 71.3h0.85v0.85h-0.85zM59.8 70.9h0.85v0.85h-0.85zM56.6 73.1h0.85v0.85h-0.85zM60.7 71.5h0.85v0.85h-0.85zM53.0 48.7h0.85v0.85h-0.85zM57.3 50.2h0.85v0.85h-0.85zM56.0 52.8h0.85v0.85h-0.85zM58.9 53.2h0.85v0.85h-0.85zM61.4 70.4h0.85v0.85h-0.85zM61.7 71.9h0.85v0.85h-0.85zM46.8 70.7h0.85v0.85h-0.85zM66.0 56.6h0.85v0.85h-0.85zM63.0 70.6h0.85v0.85h-0.85zM59.6 65.0h0.85v0.85h-0.85zM47.7 69.3h0.85v0.85h-0.85zM65.4 68.3h0.85v0.85h-0.85zM59.6 65.3h0.85v0.85h-0.85zM59.0 68.6h0.85v0.85h-0.85zM57.4 68.5h0.85v0.85h-0.85zM59.5 72.5h0.85v0.85h-0.85zM63.8 59.2h0.85v0.85h-0.85zM49.3 64.5h0.85v0.85h-0.85zM60.4 69.6h0.85v0.85h-0.85zM46.9 63.8h0.85v0.85h-0.85zM54.1 72.4h0.85v0.85h-0.85zM62.1 52.9h0.85v0.85h-0.85zM52.3 65.4h0.85v0.85h-0.85zM47.2 56.4h0.85v0.85h-0.85zM62.2 70.9h0.85v0.85h-0.85zM44.3 62.5h0.85v0.85h-0.85zM58.6 52.2h0.85v0.85h-0.85zM63.2 66.6h0.85v0.85h-0.85zM62.2 69.1h0.85v0.85h-0.85zM65.8 68.5h0.85v0.85h-0.85zM50.5 70.8h0.85v0.85h-0.85zM65.7 53.2h0.85v0.85h-0.85zM59.0 72.3h0.85v0.85h-0.85zM53.1 72.3h0.85v0.85h-0.85zM58.7 65.4h0.85v0.85h-0.85zM65.5 69.1h0.85v0.85h-0.85zM64.0 67.8h0.85v0.85h-0.85zM54.7 62.9h0.85v0.85h-0.85zM65.3 51.2h0.85v0.85h-0.85zM49.6 52.6h0.85v0.85h-0.85zM63.2 40.9h0.85v0.85h-0.85zM60.1 48.3h0.85v0.85h-0.85zM61.8 69.6h0.85v0.85h-0.85zM56.3 68.6h0.85v0.85h-0.85zM64.1 72.3h0.85v0.85h-0.85zM62.9 73.1h0.85v0.85h-0.85zM55.0 73.4h0.85v0.85h-0.85z"/>
<path fill="#eda5a5" d="M81.5 73.2h0.85v0.85h-0.85zM81.5 58.3h0.85v0.85h-0.85zM82.3 72.8h0.85v0.85h-0.85zM81.4 71.9h0.85v0.85h-0.85zM80.5 70.7h0.85v0.85h-0.85zM95.1 66.5h0.85v0.85h-0.85zM76.7 62.6h0.85v0.85h-0.85zM98.6 69.2h0.85v0.85h-0.85zM88.4 64.2h0.85v0.85h-0.85zM80.8 54.9h0.85v0.85h-0.85zM77.1 69.6h0.85v0.85h-0.85zM85.7 61.3h0.85v0.85h-0.85zM77.8 64.0h0.85v0.85h-0.85zM99.1 72.6h0.85v0.85h-0.85zM85.0 72.2h0.85v0.85h-0.85zM81.3 70.9h0.85v0.85h-0.85zM82.6 62.4h0.85v0.85h-0.85zM81.0 72.5h0.85v0.85h-0.85zM90.1 68.9h0.85v0.85h-0.85zM91.6 70.1h0.85v0.85h-0.85zM76.8 73.5h0.85v0.85h-0.85zM77.8 73.2h0.85v0.85h-0.85zM82.6 72.1h0.85v0.85h-0.85zM77.5 72.7h0.85v0.85h-0.85zM81.3 46.7h0.85v0.85h-0.85zM81.0 70.6h0.85v0.85h-0.85zM77.9 45.4h0.85v0.85h-0.85zM77.4 71.5h0.85v0.85h-0.85zM86.0 72.3h0.85v0.85h-0.85zM80.2 45.0h0.85v0.85h-0.85zM81.2 63.3h0.85v0.85h-0.85zM78.7 73.3h0.85v0.85h-0.85zM81.8 62.8h0.85v0.85h-0.85zM78.4 68.0h0.85v0.85h-0.85zM77.3 73.7h0.85v0.85h-0.85zM82.1 72.4h0.85v0.85h-0.85zM82.1 73.4h0.85v0.85h-0.85zM78.0 65.5h0.85v0.85h-0.85zM81.8 49.5h0.85v0.85h-0.85zM93.2 62.2h0.85v0.85h-0.85zM81.5 73.0h0.85v0.85h-0.85zM90.0 72.0h0.85v0.85h-0.85zM81.4 63.7h0.85v0.85h-0.85zM88.9 62.9h0.85v0.85h-0.85zM78.0 54.2h0.85v0.85h-0.85zM79.4 70.7h0.85v0.85h-0.85zM79.6 57.9h0.85v0.85h-0.85zM81.1 70.2h0.85v0.85h-0.85zM82.9 67.2h0.85v0.85h-0.85zM78.1 67.4h0.85v0.85h-0.85zM78.2 70.6h0.85v0.85h-0.85zM77.9 58.2h0.85v0.85h-0.85zM79.6 49.2h0.85v0.85h-0.85zM79.1 62.8h0.85v0.85h-0.85zM79.7 57.5h0.85v0.85h-0.85zM80.2 53.1h0.85v0.85h-0.85zM82.2 71.9h0.85v0.85h-0.85zM84.4 69.5h0.85v0.85h-0.85zM76.7 69.9h0.85v0.85h-0.85zM92.0 68.8h0.85v0.85h-0.85zM76.9 62.5h0.85v0.85h-0.85zM78.1 71.3h0.85v0.85h-0.85zM80.8 70.8h0.85v0.85h-0.85zM76.8 69.8h0.85v0.85h-0.85zM90.3 68.0h0.85v0.85h-0.85zM84.4 54.6h0.85v0.85h-0.85zM91.5 70.1h0.85v0.85h-0.85zM79.9 72.5h0.85v0.85h-0.85zM82.8 63.0h0.85v0.85h-0.85zM78.2 67.4h0.85v0.85h-0.85zM76.7 73.2h0.85v0.85h-0.85zM76.9 65.5h0.85v0.85h-0.85zM77.8 46.8h0.85v0.85h-0.85zM84.2 65.8h0.85v0.85h-0.85zM97.2 55.7h0.85v0.85h-0.85zM95.1 63.8h0.85v0.85h-0.85zM88.0 67.7h0.85v0.85h-0.85zM86.4 63.8h0.85v0.85h-0.85zM77.8 50.7h0.85v0.85h-0.85zM78.0 60.6h0.85v0.85h-0.85zM80.6 71.9h0.85v0.85h-0.85zM77.5 67.2h0.85v0.85h-0.85zM78.0 69.5h0.85v0.85h-0.85zM86.2 72.7h0.85v0.85h-0.85zM78.6 60.9h0.85v0.85h-0.85zM81.2 54.0h0.85v0.85h-0.85zM86.5 59.1h0.85v0.85h-0.85zM87.8 61.2h0.85v0.85h-0.85zM84.7 72.8h0.85v0.85h-0.85zM78.2 71.8h0.85v0.85h-0.85zM84.0 71.1h0.85v0.85h-0.85zM83.7 29.2h0.85v0.85h-0.85zM81.7 65.6h0.85v0.85h-0.85zM88.3 73.3h0.85v0.85h-0.85zM83.7 72.6h0.85v0.85h-0.85zM92.1 70.6h0.85v0.85h-0.85zM82.2 67.3h0.85v0.85h-0.85zM85.1 65.4h0.85v0.85h-0.85zM79.9 46.2h0.85v0.85h-0.85zM81.2 55.2h0.85v0.85h-0.85zM77.7 71.6h0.85v0.85h-0.85zM78.8 66.5h0.85v0.85h-0.85zM85.3 46.8h0.85v0.85h-0.85zM81.0 70.6h0.85v0.85h-0.85zM81.7 68.2h0.85v0.85h-0.85zM80.7 72.2h0.85v0.85h-0.85zM81.4 61.0h0.85v0.85h-0.85zM87.1 64.7h0.85v0.85h-0.85zM83.0 67.9h0.85v0.85h-0.85zM82.8 56.0h0.85v0.85h-0.85zM81.0 70.2h0.85v0.85h-0.85zM88.0 63.5h0.85v0.85h-0.85zM82.3 66.3h0.85v0.85h-0.85zM81.0 58.1h0.85v0.85h-0.85zM86.7 72.3h0.85v0.85h-0.85zM100.2 70.8h0.85v0.85h-0.85zM84.6 59.1h0.85v0.85h-0.85zM78.8 57.3h0.85v0.85h-0.85zM86.4 68.8h0.85v0.85h-0.85zM82.2 72.4h0.85v0.85h-0.85zM77.0 72.7h0.85v0.85h-0.85zM78.9 68.6h0.85v0.85h-0.85zM85.9 63.7h0.85v0.85h-0.85zM84.3 69.2h0.85v0.85h-0.85zM77.9 62.2h0.85v0.85h-0.85zM87.5 61.3h0.85v0.85h-0.85zM100.4 56.5h0.85v0.85h-0.85zM83.0 59.1h0.85v0.85h-0.85zM77.6 73.7h0.85v0.85h-0.85zM79.0 60.5h0.85v0.85h-0.85zM78.2 69.2h0.85v0.85h-0.85zM81.7 73.0h0.85v0.85h-0.85zM83.1 71.6h0.85v0.85h-0.85zM89.9 59.6h0.85v0.85h-0.85zM77.8 73.3h0.85v0.85h-0.85zM88.0 73.0h0.85v0.85h-0.85zM84.7 70.3h0.85v0.85h-0.85zM77.2 71.4h0.85v0.85h-0.85zM84.4 70.2h0.85v0.85h-0.85zM78.0 65.1h0.85v0.85h-0.85zM94.9 58.0h0.85v0.85h-0.85zM78.8 46.9h0.85v0.85h-0.85zM76.8 73.0h0.85v0.85h-0.85zM79.9 72.8h0.85v0.85h-0.85zM80.7 70.8h0.85v0.85h-0.85zM88.4 72.1h0.85v0.85h-0.85zM83.4 33.5h0.85v0.85h-0.85zM89.3 71.1h0.85v0.85h-0.85zM77.1 70.8h0.85v0.85h-0.85zM86.5 64.2h0.85v0.85h-0.85zM76.7 69.6h0.85v0.85h-0.85zM94.0 67.2h0.85v0.85h-0.85zM87.0 66.2h0.85v0.85h-0.85zM78.5 59.2h0.85v0.85h-0.85zM80.2 65.7h0.85v0.85h-0.85zM84.0 53.9h0.85v0.85h-0.85zM80.6 71.1h0.85v0.85h-0.85zM82.2 70.2h0.85v0.85h-0.85zM85.3 55.8h0.85v0.85h-0.85zM79.9 72.2h0.85v0.85h-0.85zM78.2 72.5h0.85v0.85h-0.85zM79.3 71.7h0.85v0.85h-0.85zM77.0 72.8h0.85v0.85h-0.85zM78.1 69.0h0.85v0.85h-0.85zM84.7 60.8h0.85v0.85h-0.85zM77.7 59.4h0.85v0.85h-0.85zM82.2 71.4h0.85v0.85h-0.85zM83.2 70.0h0.85v0.85h-0.85zM78.8 54.3h0.85v0.85h-0.85zM84.0 73.0h0.85v0.85h-0.85zM80.0 70.9h0.85v0.85h-0.85zM80.6 54.3h0.85v0.85h-0.85zM78.4 52.0h0.85v0.85h-0.85zM79.8 64.7h0.85v0.85h-0.85zM85.6 69.0h0.85v0.85h-0.85zM90.9 48.7h0.85v0.85h-0.85zM80.0 59.9h0.85v0.85h-0.85zM84.3 72.6h0.85v0.85h-0.85zM78.3 71.1h0.85v0.85h-0.85zM76.9 66.3h0.85v0.85h-0.85zM93.5 55.0h0.85v0.85h-0.85zM79.9 73.4h0.85v0.85h-0.85zM85.2 70.6h0.85v0.85h-0.85zM79.8 67.8h0.85v0.85h-0.85zM86.9 58.8h0.85v0.85h-0.85zM80.3 56.7h0.85v0.85h-0.85zM82.1 73.3h0.85v0.85h-0.85zM85.3 60.2h0.85v0.85h-0.85zM77.3 70.0h0.85v0.85h-0.85zM92.8 64.4h0.85v0.85h-0.85zM83.8 60.9h0.85v0.85h-0.85zM89.0 73.6h0.85v0.85h-0.85zM81.9 67.9h0.85v0.85h-0.85zM91.2 73.4h0.85v0.85h-0.85zM76.9 66.2h0.85v0.85h-0.85zM77.8 72.5h0.85v0.85h-0.85zM89.7 63.9h0.85v0.85h-0.85zM77.0 71.3h0.85v0.85h-0.85zM78.2 62.5h0.85v0.85h-0.85zM77.0 71.1h0.85v0.85h-0.85zM79.4 73.1h0.85v0.85h-0.85zM77.5 61.2h0.85v0.85h-0.85zM82.5 68.8h0.85v0.85h-0.85zM83.7 67.5h0.85v0.85h-0.85zM94.4 66.5h0.85v0.85h-0.85zM78.5 71.2h0.85v0.85h-0.85zM77.7 64.3h0.85v0.85h-0.85zM77.3 65.5h0.85v0.85h-0.85zM101.5 30.7h0.85v0.85h-0.85z"/>
<line x1="71.7" y1="54" x2="71.7" y2="80" stroke="#fff" stroke-width="0.4" opacity="0.35"/>
<line x1="66.8" y1="8.0" x2="66.8" y2="100.2" stroke="#555" stroke-width="0.45" stroke-dasharray="1.6,1.2"/>
<line x1="76.8" y1="8.0" x2="76.8" y2="100.2" stroke="#555" stroke-width="0.45" stroke-dasharray="1.6,1.2"/>
<line x1="10.5" y1="74.6" x2="132.5" y2="74.6" stroke="#555" stroke-width="0.45" stroke-dasharray="1.6,1.2"/>
<rect x="150.0" y="7.5" width="132.0" height="91.7" fill="#fff" stroke="#999" stroke-width="0.8"/>
<line x1="148.4" y1="94.8" x2="150.0" y2="94.8" stroke="#777" stroke-width="0.5"/>
<text x="144.6" y="94.8" font-size="2.8" fill="#777" text-anchor="middle" dominant-baseline="central" transform="rotate(-90 144.4 94.8)" font-family="'Liberation Sans', Arial, sans-serif">0.0</text>
<line x1="148.4" y1="80.0" x2="150.0" y2="80.0" stroke="#777" stroke-width="0.5"/>
<text x="144.6" y="80.0" font-size="2.8" fill="#777" text-anchor="middle" dominant-baseline="central" transform="rotate(-90 144.4 80.0)" font-family="'Liberation Sans', Arial, sans-serif">0.1</text>
<line x1="148.4" y1="65.2" x2="150.0" y2="65.2" stroke="#777" stroke-width="0.5"/>
<text x="144.6" y="65.2" font-size="2.8" fill="#777" text-anchor="middle" dominant-baseline="central" transform="rotate(-90 144.4 65.2)" font-family="'Liberation Sans', Arial, sans-serif">0.2</text>
<line x1="148.4" y1="50.4" x2="150.0" y2="50.4" stroke="#777" stroke-width="0.5"/>
<text x="144.6" y="50.4" font-size="2.8" fill="#777" text-anchor="middle" dominant-baseline="central" transform="rotate(-90 144.4 50.4)" font-family="'Liberation Sans', Arial, sans-serif">0.3</text>
<line x1="148.4" y1="35.6" x2="150.0" y2="35.6" stroke="#777" stroke-width="0.5"/>
<text x="144.6" y="35.6" font-size="2.8" fill="#777" text-anchor="middle" dominant-baseline="central" transform="rotate(-90 144.4 35.6)" font-family="'Liberation Sans', Arial, sans-serif">0.4</text>
<line x1="148.4" y1="20.8" x2="150.0" y2="20.8" stroke="#777" stroke-width="0.5"/>
<text x="144.6" y="20.8" font-size="2.8" fill="#777" text-anchor="middle" dominant-baseline="central" transform="rotate(-90 144.4 20.8)" font-family="'Liberation Sans', Arial, sans-serif">0.5</text>
<text x="138.2" y="52.6" font-size="3.0" fill="#555" text-anchor="middle" dominant-baseline="central" transform="rotate(-90 138.4 53)" font-family="'Liberation Sans', Arial, sans-serif">Fst</text>
<text x="209.5" y="108.8" font-size="5.7" fill="#333" text-anchor="middle" font-family="'Liberation Sans', Arial, sans-serif">chromosome</text>
<rect x="154.4" y="69.8" width="5.4" height="25.9" fill="#d8485e"/>
<rect x="159.8" y="70.3" width="5.0" height="25.4" fill="#6ab848"/>
<rect x="164.8" y="71.2" width="5.9" height="24.5" fill="#2a8ed0"/>
<rect x="170.7" y="74.7" width="4.1" height="21.0" fill="#5cc0e6"/>
<rect x="175.2" y="73.5" width="6.5" height="22.2" fill="#b044a8"/>
<rect x="182.0" y="73.5" width="4.4" height="22.2" fill="#f4b42a"/>
<rect x="186.6" y="73.0" width="5.2" height="22.7" fill="#a2a2a2"/>
<rect x="192.1" y="74.8" width="3.2" height="20.9" fill="#151515"/>
<rect x="195.3" y="71.9" width="2.7" height="23.8" fill="#d27a6c"/>
<rect x="198.0" y="72.8" width="4.4" height="22.9" fill="#6ab848"/>
<rect x="202.4" y="72.9" width="5.8" height="22.8" fill="#2a8ed0"/>
<rect x="208.2" y="70.8" width="1.7" height="24.9" fill="#5cc0e6"/>
<rect x="210.3" y="72.7" width="4.4" height="23.0" fill="#b044a8"/>
<rect x="215.2" y="72.7" width="3.4" height="23.0" fill="#f4b42a"/>
<rect x="218.6" y="72.1" width="2.6" height="23.6" fill="#a2a2a2"/>
<rect x="221.4" y="73.8" width="4.1" height="21.9" fill="#151515"/>
<rect x="226.0" y="73.9" width="4.4" height="21.8" fill="#d8485e"/>
<rect x="230.4" y="71.2" width="5.9" height="24.5" fill="#6ab848"/>
<rect x="236.3" y="72.7" width="8.1" height="23.0" fill="#2a8ed0"/>
<rect x="244.4" y="74.0" width="1.4" height="21.7" fill="#5cc0e6"/>
<rect x="245.8" y="69.6" width="3.0" height="26.1" fill="#b044a8"/>
<rect x="249.3" y="73.3" width="3.4" height="22.4" fill="#f4b42a"/>
<rect x="253.2" y="73.2" width="4.9" height="22.5" fill="#a2a2a2"/>
<rect x="258.1" y="72.0" width="2.0" height="23.7" fill="#151515"/>
<rect x="260.1" y="71.3" width="5.9" height="24.4" fill="#d8485e"/>
<rect x="266.0" y="75.2" width="3.0" height="20.5" fill="#6ab848"/>
<rect x="269.0" y="70.9" width="2.0" height="24.8" fill="#2a8ed0"/>
<rect x="271.0" y="73.7" width="2.9" height="22.0" fill="#8a48b0"/>
<rect x="273.9" y="70.6" width="1.9" height="25.1" fill="#f4b42a"/>
<rect x="275.8" y="90.0" width="2.0" height="5.7" fill="#151515"/>
<path fill="#d8485e" d="M159.0 69.9h0.8v0.8h-0.8zM155.4 67.4h0.8v0.8h-0.8zM156.1 69.4h0.8v0.8h-0.8zM155.1 55.4h0.8v0.8h-0.8zM155.3 70.7h0.8v0.8h-0.8zM155.8 67.6h0.8v0.8h-0.8zM154.6 67.2h0.8v0.8h-0.8zM156.6 62.0h0.8v0.8h-0.8zM155.5 70.4h0.8v0.8h-0.8zM157.0 64.4h0.8v0.8h-0.8zM157.9 61.7h0.8v0.8h-0.8zM157.7 61.8h0.8v0.8h-0.8zM158.3 65.0h0.8v0.8h-0.8zM155.8 67.8h0.8v0.8h-0.8zM157.4 66.2h0.8v0.8h-0.8zM155.8 50.2h0.8v0.8h-0.8zM155.4 66.5h0.8v0.8h-0.8zM155.1 68.7h0.8v0.8h-0.8zM157.6 68.4h0.8v0.8h-0.8zM156.5 69.0h0.8v0.8h-0.8zM158.7 60.7h0.8v0.8h-0.8zM155.5 65.7h0.8v0.8h-0.8zM155.6 67.9h0.8v0.8h-0.8zM157.3 70.2h0.8v0.8h-0.8zM156.9 68.5h0.8v0.8h-0.8zM155.5 55.2h0.8v0.8h-0.8zM156.2 65.8h0.8v0.8h-0.8zM154.5 66.9h0.8v0.8h-0.8zM155.3 69.1h0.8v0.8h-0.8zM156.0 68.9h0.8v0.8h-0.8zM157.5 70.3h0.8v0.8h-0.8zM158.3 56.1h0.8v0.8h-0.8zM158.9 69.8h0.8v0.8h-0.8zM154.6 63.6h0.8v0.8h-0.8zM154.7 68.7h0.8v0.8h-0.8zM155.3 63.6h0.8v0.8h-0.8zM158.1 70.2h0.8v0.8h-0.8zM156.0 69.1h0.8v0.8h-0.8zM158.8 64.9h0.8v0.8h-0.8zM156.5 70.3h0.8v0.8h-0.8zM156.0 68.8h0.8v0.8h-0.8zM157.7 66.4h0.8v0.8h-0.8zM156.9 57.8h0.8v0.8h-0.8zM156.7 63.6h0.8v0.8h-0.8zM157.3 69.8h0.8v0.8h-0.8zM154.7 70.1h0.8v0.8h-0.8zM155.7 64.3h0.8v0.8h-0.8zM155.8 66.9h0.8v0.8h-0.8zM157.6 44.6h0.8v0.8h-0.8zM157.8 66.1h0.8v0.8h-0.8zM154.5 67.9h0.8v0.8h-0.8zM156.2 65.2h0.8v0.8h-0.8zM156.4 62.6h0.8v0.8h-0.8zM158.1 56.9h0.8v0.8h-0.8zM155.4 51.9h0.8v0.8h-0.8zM158.4 64.9h0.8v0.8h-0.8zM157.9 69.5h0.8v0.8h-0.8zM157.2 54.5h0.8v0.8h-0.8zM158.8 63.8h0.8v0.8h-0.8zM154.4 67.5h0.8v0.8h-0.8zM158.9 65.2h0.8v0.8h-0.8zM157.5 64.2h0.8v0.8h-0.8zM156.3 63.3h0.8v0.8h-0.8zM158.3 64.1h0.8v0.8h-0.8zM157.5 59.4h0.8v0.8h-0.8zM157.0 69.2h0.8v0.8h-0.8zM158.1 70.2h0.8v0.8h-0.8zM154.6 70.7h0.8v0.8h-0.8zM158.3 65.4h0.8v0.8h-0.8zM157.5 38.5h0.8v0.8h-0.8zM157.7 70.5h0.8v0.8h-0.8zM154.6 70.5h0.8v0.8h-0.8zM154.8 66.9h0.8v0.8h-0.8zM155.5 68.8h0.8v0.8h-0.8zM157.0 66.2h0.8v0.8h-0.8zM157.8 68.7h0.8v0.8h-0.8zM159.1 68.5h0.8v0.8h-0.8zM154.3 64.7h0.8v0.8h-0.8zM155.7 69.7h0.8v0.8h-0.8zM154.6 59.7h0.8v0.8h-0.8zM157.3 59.2h0.8v0.8h-0.8zM155.9 55.9h0.8v0.8h-0.8zM154.6 33.5h0.8v0.8h-0.8zM154.8 66.5h0.8v0.8h-0.8zM155.8 63.6h0.8v0.8h-0.8zM155.8 53.1h0.8v0.8h-0.8zM156.5 63.9h0.8v0.8h-0.8zM154.7 63.0h0.8v0.8h-0.8zM156.6 57.5h0.8v0.8h-0.8zM158.0 65.4h0.8v0.8h-0.8zM158.2 49.8h0.8v0.8h-0.8zM158.5 70.1h0.8v0.8h-0.8zM158.0 57.6h0.8v0.8h-0.8zM155.1 58.5h0.8v0.8h-0.8zM156.5 57.0h0.8v0.8h-0.8zM155.4 69.3h0.8v0.8h-0.8zM156.1 68.5h0.8v0.8h-0.8zM155.4 60.9h0.8v0.8h-0.8zM155.4 70.3h0.8v0.8h-0.8zM156.1 68.9h0.8v0.8h-0.8zM155.7 52.1h0.8v0.8h-0.8zM156.2 69.7h0.8v0.8h-0.8zM156.7 61.8h0.8v0.8h-0.8zM157.7 60.8h0.8v0.8h-0.8zM156.0 61.1h0.8v0.8h-0.8zM154.5 69.0h0.8v0.8h-0.8zM156.9 55.4h0.8v0.8h-0.8zM156.2 68.3h0.8v0.8h-0.8zM157.8 68.8h0.8v0.8h-0.8zM155.9 59.7h0.8v0.8h-0.8zM156.8 60.3h0.8v0.8h-0.8zM159.1 70.5h0.8v0.8h-0.8zM157.9 64.1h0.8v0.8h-0.8zM154.5 31.9h0.8v0.8h-0.8zM156.2 57.1h0.8v0.8h-0.8zM154.8 70.0h0.8v0.8h-0.8zM157.6 61.6h0.8v0.8h-0.8zM155.0 51.7h0.8v0.8h-0.8zM157.5 50.4h0.8v0.8h-0.8zM157.7 67.9h0.8v0.8h-0.8zM158.9 69.1h0.8v0.8h-0.8zM154.7 55.3h0.8v0.8h-0.8zM158.2 56.7h0.8v0.8h-0.8zM156.4 64.2h0.8v0.8h-0.8zM157.6 69.4h0.8v0.8h-0.8zM157.5 70.3h0.8v0.8h-0.8zM154.4 68.3h0.8v0.8h-0.8zM157.0 68.1h0.8v0.8h-0.8zM155.5 48.9h0.8v0.8h-0.8zM157.3 49.7h0.8v0.8h-0.8zM155.0 53.7h0.8v0.8h-0.8zM158.9 24.1h0.8v0.8h-0.8zM155.3 59.6h0.8v0.8h-0.8zM157.2 58.2h0.8v0.8h-0.8zM158.1 59.7h0.8v0.8h-0.8zM155.8 59.2h0.8v0.8h-0.8zM226.8 71.8h0.8v0.8h-0.8zM227.3 52.6h0.8v0.8h-0.8zM228.0 69.6h0.8v0.8h-0.8zM229.7 70.5h0.8v0.8h-0.8zM228.9 74.3h0.8v0.8h-0.8zM228.1 63.5h0.8v0.8h-0.8zM229.2 64.5h0.8v0.8h-0.8zM226.7 73.1h0.8v0.8h-0.8zM228.6 74.8h0.8v0.8h-0.8zM226.8 71.6h0.8v0.8h-0.8zM227.0 72.1h0.8v0.8h-0.8zM228.7 68.5h0.8v0.8h-0.8zM228.3 63.4h0.8v0.8h-0.8zM226.4 74.8h0.8v0.8h-0.8zM226.0 72.0h0.8v0.8h-0.8zM228.0 69.2h0.8v0.8h-0.8zM228.7 68.1h0.8v0.8h-0.8zM228.3 52.2h0.8v0.8h-0.8zM228.2 73.1h0.8v0.8h-0.8zM229.0 72.4h0.8v0.8h-0.8zM229.5 69.0h0.8v0.8h-0.8zM229.6 69.9h0.8v0.8h-0.8zM227.6 70.6h0.8v0.8h-0.8zM228.8 61.3h0.8v0.8h-0.8zM227.1 74.7h0.8v0.8h-0.8zM227.8 66.2h0.8v0.8h-0.8zM229.0 69.1h0.8v0.8h-0.8zM228.6 64.3h0.8v0.8h-0.8zM225.9 67.0h0.8v0.8h-0.8zM227.3 74.3h0.8v0.8h-0.8zM227.1 52.6h0.8v0.8h-0.8zM226.8 64.2h0.8v0.8h-0.8zM228.0 66.7h0.8v0.8h-0.8zM226.8 72.9h0.8v0.8h-0.8zM225.9 73.7h0.8v0.8h-0.8zM229.2 57.3h0.8v0.8h-0.8zM226.4 72.6h0.8v0.8h-0.8zM227.7 68.7h0.8v0.8h-0.8zM228.8 74.7h0.8v0.8h-0.8zM226.0 71.5h0.8v0.8h-0.8zM226.4 67.2h0.8v0.8h-0.8zM227.1 67.0h0.8v0.8h-0.8zM228.0 70.0h0.8v0.8h-0.8zM229.0 61.5h0.8v0.8h-0.8zM226.9 68.2h0.8v0.8h-0.8zM229.6 52.3h0.8v0.8h-0.8zM226.1 73.4h0.8v0.8h-0.8zM227.3 64.3h0.8v0.8h-0.8zM228.6 74.7h0.8v0.8h-0.8zM228.3 71.4h0.8v0.8h-0.8zM227.0 68.1h0.8v0.8h-0.8zM226.0 63.8h0.8v0.8h-0.8zM228.4 72.2h0.8v0.8h-0.8zM229.0 67.0h0.8v0.8h-0.8zM229.3 65.8h0.8v0.8h-0.8zM227.0 74.4h0.8v0.8h-0.8zM226.3 73.9h0.8v0.8h-0.8zM226.9 67.9h0.8v0.8h-0.8zM227.2 40.0h0.8v0.8h-0.8zM228.9 74.1h0.8v0.8h-0.8zM226.1 68.4h0.8v0.8h-0.8zM228.9 69.4h0.8v0.8h-0.8zM228.8 65.6h0.8v0.8h-0.8zM228.7 74.3h0.8v0.8h-0.8zM226.8 56.8h0.8v0.8h-0.8zM226.3 59.6h0.8v0.8h-0.8zM226.2 72.7h0.8v0.8h-0.8zM227.5 68.6h0.8v0.8h-0.8zM227.2 74.1h0.8v0.8h-0.8zM226.3 54.4h0.8v0.8h-0.8zM226.2 70.8h0.8v0.8h-0.8zM227.1 72.7h0.8v0.8h-0.8zM228.8 49.2h0.8v0.8h-0.8zM227.4 61.9h0.8v0.8h-0.8zM229.0 65.6h0.8v0.8h-0.8zM227.4 71.6h0.8v0.8h-0.8zM226.5 57.4h0.8v0.8h-0.8zM228.4 72.5h0.8v0.8h-0.8zM226.2 71.6h0.8v0.8h-0.8zM229.5 69.1h0.8v0.8h-0.8zM229.3 71.7h0.8v0.8h-0.8zM226.9 74.0h0.8v0.8h-0.8zM227.2 74.8h0.8v0.8h-0.8zM228.1 67.7h0.8v0.8h-0.8zM229.0 70.7h0.8v0.8h-0.8zM227.8 69.0h0.8v0.8h-0.8zM228.7 73.9h0.8v0.8h-0.8zM227.6 64.6h0.8v0.8h-0.8zM228.8 71.2h0.8v0.8h-0.8zM228.1 73.5h0.8v0.8h-0.8zM226.2 69.5h0.8v0.8h-0.8zM229.6 65.9h0.8v0.8h-0.8zM226.9 71.3h0.8v0.8h-0.8zM226.8 62.7h0.8v0.8h-0.8zM227.3 68.9h0.8v0.8h-0.8zM227.2 73.0h0.8v0.8h-0.8zM228.6 73.5h0.8v0.8h-0.8zM227.1 70.7h0.8v0.8h-0.8zM229.0 41.3h0.8v0.8h-0.8zM226.8 64.5h0.8v0.8h-0.8zM227.9 74.1h0.8v0.8h-0.8zM228.8 57.3h0.8v0.8h-0.8zM229.2 64.5h0.8v0.8h-0.8zM226.6 65.4h0.8v0.8h-0.8zM228.6 53.3h0.8v0.8h-0.8zM227.6 59.9h0.8v0.8h-0.8zM226.4 60.2h0.8v0.8h-0.8zM227.6 44.1h0.8v0.8h-0.8zM229.0 60.3h0.8v0.8h-0.8zM264.3 65.7h0.8v0.8h-0.8zM264.1 67.4h0.8v0.8h-0.8zM264.1 70.8h0.8v0.8h-0.8zM264.6 69.7h0.8v0.8h-0.8zM263.1 56.4h0.8v0.8h-0.8zM260.7 71.4h0.8v0.8h-0.8zM261.1 71.9h0.8v0.8h-0.8zM263.6 60.6h0.8v0.8h-0.8zM261.4 59.4h0.8v0.8h-0.8zM262.7 70.0h0.8v0.8h-0.8zM261.1 68.7h0.8v0.8h-0.8zM264.5 67.6h0.8v0.8h-0.8zM264.0 72.1h0.8v0.8h-0.8zM263.6 52.7h0.8v0.8h-0.8zM264.9 67.9h0.8v0.8h-0.8zM260.5 71.0h0.8v0.8h-0.8zM262.3 69.1h0.8v0.8h-0.8zM261.0 65.8h0.8v0.8h-0.8zM264.0 69.7h0.8v0.8h-0.8zM263.5 62.3h0.8v0.8h-0.8zM264.1 67.5h0.8v0.8h-0.8zM261.2 68.1h0.8v0.8h-0.8zM261.7 57.9h0.8v0.8h-0.8zM265.1 58.4h0.8v0.8h-0.8zM262.8 71.3h0.8v0.8h-0.8zM260.8 71.4h0.8v0.8h-0.8zM260.7 64.3h0.8v0.8h-0.8zM263.6 71.6h0.8v0.8h-0.8zM261.2 53.0h0.8v0.8h-0.8zM262.6 63.4h0.8v0.8h-0.8zM263.1 63.2h0.8v0.8h-0.8zM261.2 68.9h0.8v0.8h-0.8zM260.5 58.9h0.8v0.8h-0.8zM264.2 65.5h0.8v0.8h-0.8zM264.0 70.5h0.8v0.8h-0.8zM264.6 49.8h0.8v0.8h-0.8zM262.5 71.9h0.8v0.8h-0.8zM264.2 69.6h0.8v0.8h-0.8zM261.5 69.5h0.8v0.8h-0.8zM263.1 72.0h0.8v0.8h-0.8zM262.0 71.7h0.8v0.8h-0.8zM264.6 64.2h0.8v0.8h-0.8zM260.4 64.1h0.8v0.8h-0.8zM261.2 49.9h0.8v0.8h-0.8zM264.3 68.6h0.8v0.8h-0.8zM264.4 65.4h0.8v0.8h-0.8zM264.2 65.6h0.8v0.8h-0.8zM263.7 66.3h0.8v0.8h-0.8zM263.9 63.6h0.8v0.8h-0.8zM261.6 65.8h0.8v0.8h-0.8zM262.3 70.4h0.8v0.8h-0.8zM261.8 68.8h0.8v0.8h-0.8zM264.5 55.7h0.8v0.8h-0.8zM260.7 67.0h0.8v0.8h-0.8zM261.5 60.7h0.8v0.8h-0.8zM261.2 70.5h0.8v0.8h-0.8zM263.5 68.0h0.8v0.8h-0.8zM262.5 47.6h0.8v0.8h-0.8zM265.0 45.3h0.8v0.8h-0.8zM263.8 70.9h0.8v0.8h-0.8zM262.9 70.9h0.8v0.8h-0.8zM262.9 67.9h0.8v0.8h-0.8zM261.0 64.4h0.8v0.8h-0.8zM262.7 54.1h0.8v0.8h-0.8zM260.7 70.2h0.8v0.8h-0.8zM261.0 53.5h0.8v0.8h-0.8zM261.3 66.2h0.8v0.8h-0.8zM262.1 66.3h0.8v0.8h-0.8zM260.5 65.2h0.8v0.8h-0.8zM263.8 55.1h0.8v0.8h-0.8zM265.2 70.3h0.8v0.8h-0.8zM260.9 67.9h0.8v0.8h-0.8zM260.6 71.8h0.8v0.8h-0.8zM260.1 50.3h0.8v0.8h-0.8zM265.2 56.9h0.8v0.8h-0.8zM261.0 68.4h0.8v0.8h-0.8zM263.2 69.5h0.8v0.8h-0.8zM262.9 70.7h0.8v0.8h-0.8zM262.6 59.6h0.8v0.8h-0.8zM262.8 61.7h0.8v0.8h-0.8zM263.0 65.1h0.8v0.8h-0.8zM263.3 71.6h0.8v0.8h-0.8zM263.1 42.5h0.8v0.8h-0.8zM264.2 59.9h0.8v0.8h-0.8zM264.0 61.6h0.8v0.8h-0.8zM260.6 60.6h0.8v0.8h-0.8zM265.1 63.0h0.8v0.8h-0.8zM263.4 72.0h0.8v0.8h-0.8zM264.5 67.1h0.8v0.8h-0.8zM261.7 57.9h0.8v0.8h-0.8zM263.7 72.4h0.8v0.8h-0.8zM261.9 57.6h0.8v0.8h-0.8zM261.1 50.2h0.8v0.8h-0.8zM260.6 49.1h0.8v0.8h-0.8zM264.3 70.2h0.8v0.8h-0.8zM260.7 70.2h0.8v0.8h-0.8zM263.5 68.3h0.8v0.8h-0.8zM264.1 66.9h0.8v0.8h-0.8zM264.2 64.3h0.8v0.8h-0.8zM265.0 71.8h0.8v0.8h-0.8zM263.6 53.6h0.8v0.8h-0.8zM261.2 51.5h0.8v0.8h-0.8zM261.5 71.7h0.8v0.8h-0.8zM264.1 58.2h0.8v0.8h-0.8zM260.4 65.9h0.8v0.8h-0.8zM261.6 67.4h0.8v0.8h-0.8zM260.2 72.2h0.8v0.8h-0.8zM265.2 53.8h0.8v0.8h-0.8zM264.3 34.2h0.8v0.8h-0.8zM262.3 71.0h0.8v0.8h-0.8zM263.5 70.0h0.8v0.8h-0.8zM262.5 50.9h0.8v0.8h-0.8zM262.3 71.5h0.8v0.8h-0.8zM260.9 69.5h0.8v0.8h-0.8zM265.2 70.5h0.8v0.8h-0.8zM263.4 72.2h0.8v0.8h-0.8zM260.5 61.4h0.8v0.8h-0.8zM262.8 62.0h0.8v0.8h-0.8zM260.2 71.3h0.8v0.8h-0.8zM262.9 52.9h0.8v0.8h-0.8zM262.5 49.3h0.8v0.8h-0.8zM262.2 66.7h0.8v0.8h-0.8zM265.0 69.2h0.8v0.8h-0.8zM262.3 69.5h0.8v0.8h-0.8zM263.8 62.5h0.8v0.8h-0.8zM264.4 70.5h0.8v0.8h-0.8zM261.8 53.4h0.8v0.8h-0.8zM262.4 67.2h0.8v0.8h-0.8zM263.5 58.5h0.8v0.8h-0.8zM261.1 70.0h0.8v0.8h-0.8zM260.6 71.5h0.8v0.8h-0.8zM260.8 62.0h0.8v0.8h-0.8zM260.8 70.0h0.8v0.8h-0.8zM265.0 64.5h0.8v0.8h-0.8zM261.7 71.6h0.8v0.8h-0.8zM262.5 61.0h0.8v0.8h-0.8zM263.9 66.0h0.8v0.8h-0.8zM264.2 72.3h0.8v0.8h-0.8zM260.7 69.8h0.8v0.8h-0.8zM263.5 65.6h0.8v0.8h-0.8zM265.0 67.9h0.8v0.8h-0.8zM264.2 58.3h0.8v0.8h-0.8zM260.6 61.6h0.8v0.8h-0.8zM260.3 61.2h0.8v0.8h-0.8zM264.0 65.9h0.8v0.8h-0.8zM262.9 62.6h0.8v0.8h-0.8zM263.9 58.8h0.8v0.8h-0.8zM265.1 67.4h0.8v0.8h-0.8zM264.4 65.8h0.8v0.8h-0.8zM261.1 71.9h0.8v0.8h-0.8zM264.5 42.0h0.8v0.8h-0.8zM262.6 63.8h0.8v0.8h-0.8zM261.7 50.3h0.8v0.8h-0.8zM262.4 68.6h0.8v0.8h-0.8zM260.5 60.5h0.8v0.8h-0.8zM264.4 56.7h0.8v0.8h-0.8zM260.3 57.7h0.8v0.8h-0.8zM265.0 45.9h0.8v0.8h-0.8zM261.5 61.6h0.8v0.8h-0.8zM262.0 55.6h0.8v0.8h-0.8zM265.0 59.4h0.8v0.8h-0.8zM260.6 61.0h0.8v0.8h-0.8zM261.9 17.0h0.8v0.8h-0.8z"/>
<path fill="#6ab848" d="M160.7 71.1h0.8v0.8h-0.8zM162.9 66.2h0.8v0.8h-0.8zM163.6 67.6h0.8v0.8h-0.8zM161.9 54.4h0.8v0.8h-0.8zM161.9 59.7h0.8v0.8h-0.8zM163.0 63.8h0.8v0.8h-0.8zM163.5 70.0h0.8v0.8h-0.8zM161.7 69.4h0.8v0.8h-0.8zM163.3 71.0h0.8v0.8h-0.8zM160.8 67.0h0.8v0.8h-0.8zM163.4 69.0h0.8v0.8h-0.8zM159.9 63.9h0.8v0.8h-0.8zM161.3 50.9h0.8v0.8h-0.8zM161.6 70.7h0.8v0.8h-0.8zM159.8 52.5h0.8v0.8h-0.8zM163.6 68.5h0.8v0.8h-0.8zM162.6 68.0h0.8v0.8h-0.8zM161.3 68.5h0.8v0.8h-0.8zM161.9 64.0h0.8v0.8h-0.8zM162.2 69.1h0.8v0.8h-0.8zM161.6 70.0h0.8v0.8h-0.8zM163.1 67.8h0.8v0.8h-0.8zM163.3 61.8h0.8v0.8h-0.8zM161.7 68.4h0.8v0.8h-0.8zM162.9 63.4h0.8v0.8h-0.8zM161.7 38.2h0.8v0.8h-0.8zM164.0 70.1h0.8v0.8h-0.8zM160.8 68.1h0.8v0.8h-0.8zM162.9 65.4h0.8v0.8h-0.8zM163.1 70.3h0.8v0.8h-0.8zM162.0 36.3h0.8v0.8h-0.8zM160.9 68.5h0.8v0.8h-0.8zM163.1 71.0h0.8v0.8h-0.8zM160.0 69.6h0.8v0.8h-0.8zM161.4 71.0h0.8v0.8h-0.8zM160.5 69.2h0.8v0.8h-0.8zM160.3 64.2h0.8v0.8h-0.8zM162.3 64.3h0.8v0.8h-0.8zM161.2 71.1h0.8v0.8h-0.8zM163.2 67.3h0.8v0.8h-0.8zM163.1 70.4h0.8v0.8h-0.8zM159.8 65.5h0.8v0.8h-0.8zM162.6 70.4h0.8v0.8h-0.8zM160.8 63.2h0.8v0.8h-0.8zM160.2 64.5h0.8v0.8h-0.8zM160.2 69.6h0.8v0.8h-0.8zM160.5 64.1h0.8v0.8h-0.8zM160.5 68.8h0.8v0.8h-0.8zM161.3 67.9h0.8v0.8h-0.8zM162.0 67.3h0.8v0.8h-0.8zM162.0 69.2h0.8v0.8h-0.8zM160.3 69.5h0.8v0.8h-0.8zM160.1 70.6h0.8v0.8h-0.8zM160.7 70.8h0.8v0.8h-0.8zM160.4 70.8h0.8v0.8h-0.8zM159.8 66.5h0.8v0.8h-0.8zM163.6 65.7h0.8v0.8h-0.8zM160.8 69.0h0.8v0.8h-0.8zM160.5 50.8h0.8v0.8h-0.8zM161.5 69.1h0.8v0.8h-0.8zM161.4 69.1h0.8v0.8h-0.8zM162.5 68.9h0.8v0.8h-0.8zM160.1 69.5h0.8v0.8h-0.8zM161.0 66.6h0.8v0.8h-0.8zM162.4 68.8h0.8v0.8h-0.8zM163.0 44.0h0.8v0.8h-0.8zM160.0 66.1h0.8v0.8h-0.8zM163.8 66.9h0.8v0.8h-0.8zM160.7 70.5h0.8v0.8h-0.8zM163.5 44.9h0.8v0.8h-0.8zM160.9 68.5h0.8v0.8h-0.8zM161.2 65.5h0.8v0.8h-0.8zM160.0 71.3h0.8v0.8h-0.8zM164.1 70.4h0.8v0.8h-0.8zM160.7 60.6h0.8v0.8h-0.8zM163.6 59.3h0.8v0.8h-0.8zM160.5 67.1h0.8v0.8h-0.8zM160.5 71.4h0.8v0.8h-0.8zM159.8 65.1h0.8v0.8h-0.8zM162.2 69.2h0.8v0.8h-0.8zM159.8 63.6h0.8v0.8h-0.8zM160.2 70.4h0.8v0.8h-0.8zM160.8 68.0h0.8v0.8h-0.8zM160.2 70.2h0.8v0.8h-0.8zM159.8 65.2h0.8v0.8h-0.8zM160.0 69.5h0.8v0.8h-0.8zM163.7 68.9h0.8v0.8h-0.8zM160.7 63.9h0.8v0.8h-0.8zM162.1 70.0h0.8v0.8h-0.8zM163.8 71.0h0.8v0.8h-0.8zM162.1 70.2h0.8v0.8h-0.8zM163.0 66.7h0.8v0.8h-0.8zM162.0 63.3h0.8v0.8h-0.8zM161.5 65.2h0.8v0.8h-0.8zM161.7 69.5h0.8v0.8h-0.8zM161.7 71.1h0.8v0.8h-0.8zM160.3 38.6h0.8v0.8h-0.8zM161.7 45.0h0.8v0.8h-0.8zM162.0 51.2h0.8v0.8h-0.8zM160.9 54.0h0.8v0.8h-0.8zM160.8 58.9h0.8v0.8h-0.8zM199.0 65.5h0.8v0.8h-0.8zM198.1 73.5h0.8v0.8h-0.8zM199.7 71.5h0.8v0.8h-0.8zM199.0 72.2h0.8v0.8h-0.8zM201.0 69.8h0.8v0.8h-0.8zM198.0 71.0h0.8v0.8h-0.8zM199.6 70.3h0.8v0.8h-0.8zM199.5 72.7h0.8v0.8h-0.8zM198.3 72.3h0.8v0.8h-0.8zM199.8 70.2h0.8v0.8h-0.8zM200.3 71.0h0.8v0.8h-0.8zM199.2 71.4h0.8v0.8h-0.8zM201.0 68.4h0.8v0.8h-0.8zM200.0 64.8h0.8v0.8h-0.8zM199.7 65.0h0.8v0.8h-0.8zM199.6 66.3h0.8v0.8h-0.8zM200.6 50.9h0.8v0.8h-0.8zM199.1 58.3h0.8v0.8h-0.8zM200.2 73.5h0.8v0.8h-0.8zM199.6 66.8h0.8v0.8h-0.8zM198.8 64.3h0.8v0.8h-0.8zM201.0 59.6h0.8v0.8h-0.8zM200.0 55.4h0.8v0.8h-0.8zM198.2 59.6h0.8v0.8h-0.8zM201.7 63.5h0.8v0.8h-0.8zM198.0 69.4h0.8v0.8h-0.8zM199.8 72.4h0.8v0.8h-0.8zM198.3 73.3h0.8v0.8h-0.8zM198.2 72.8h0.8v0.8h-0.8zM198.9 71.6h0.8v0.8h-0.8zM198.5 62.9h0.8v0.8h-0.8zM200.9 69.2h0.8v0.8h-0.8zM198.7 66.8h0.8v0.8h-0.8zM198.2 71.7h0.8v0.8h-0.8zM200.9 57.5h0.8v0.8h-0.8zM201.6 72.2h0.8v0.8h-0.8zM199.9 62.1h0.8v0.8h-0.8zM200.6 66.9h0.8v0.8h-0.8zM198.7 72.5h0.8v0.8h-0.8zM199.4 66.9h0.8v0.8h-0.8zM200.2 64.2h0.8v0.8h-0.8zM198.9 62.6h0.8v0.8h-0.8zM199.9 68.8h0.8v0.8h-0.8zM199.3 70.4h0.8v0.8h-0.8zM199.7 73.8h0.8v0.8h-0.8zM198.5 72.6h0.8v0.8h-0.8zM199.6 70.3h0.8v0.8h-0.8zM201.4 71.4h0.8v0.8h-0.8zM201.6 69.5h0.8v0.8h-0.8zM199.4 68.4h0.8v0.8h-0.8zM199.8 65.9h0.8v0.8h-0.8zM200.2 70.1h0.8v0.8h-0.8zM200.1 70.1h0.8v0.8h-0.8zM198.9 70.4h0.8v0.8h-0.8zM200.0 59.5h0.8v0.8h-0.8zM200.8 72.2h0.8v0.8h-0.8zM199.1 71.6h0.8v0.8h-0.8zM200.6 60.6h0.8v0.8h-0.8zM200.4 52.3h0.8v0.8h-0.8zM198.6 70.5h0.8v0.8h-0.8zM199.4 69.0h0.8v0.8h-0.8zM198.0 60.3h0.8v0.8h-0.8zM199.8 61.3h0.8v0.8h-0.8zM200.6 70.4h0.8v0.8h-0.8zM199.5 73.0h0.8v0.8h-0.8zM199.4 73.9h0.8v0.8h-0.8zM201.5 72.9h0.8v0.8h-0.8zM200.0 73.4h0.8v0.8h-0.8zM201.0 72.0h0.8v0.8h-0.8zM198.0 71.8h0.8v0.8h-0.8zM198.7 68.8h0.8v0.8h-0.8zM201.5 72.9h0.8v0.8h-0.8zM198.4 59.6h0.8v0.8h-0.8zM198.7 66.4h0.8v0.8h-0.8zM198.2 68.7h0.8v0.8h-0.8zM198.1 71.6h0.8v0.8h-0.8zM198.0 71.2h0.8v0.8h-0.8zM199.3 70.0h0.8v0.8h-0.8zM198.4 73.2h0.8v0.8h-0.8zM199.3 73.2h0.8v0.8h-0.8zM201.4 72.0h0.8v0.8h-0.8zM198.0 68.4h0.8v0.8h-0.8zM198.9 67.2h0.8v0.8h-0.8zM200.8 72.9h0.8v0.8h-0.8zM200.4 64.3h0.8v0.8h-0.8zM198.3 57.9h0.8v0.8h-0.8zM198.4 62.1h0.8v0.8h-0.8zM201.1 61.7h0.8v0.8h-0.8zM232.9 55.0h0.8v0.8h-0.8zM232.9 70.3h0.8v0.8h-0.8zM231.7 61.4h0.8v0.8h-0.8zM232.3 59.4h0.8v0.8h-0.8zM233.5 68.7h0.8v0.8h-0.8zM235.3 71.4h0.8v0.8h-0.8zM232.2 56.6h0.8v0.8h-0.8zM235.4 63.9h0.8v0.8h-0.8zM234.7 65.3h0.8v0.8h-0.8zM232.1 70.7h0.8v0.8h-0.8zM231.6 69.1h0.8v0.8h-0.8zM234.9 70.8h0.8v0.8h-0.8zM231.8 64.7h0.8v0.8h-0.8zM231.7 70.0h0.8v0.8h-0.8zM231.0 71.4h0.8v0.8h-0.8zM232.1 59.0h0.8v0.8h-0.8zM231.4 72.2h0.8v0.8h-0.8zM235.3 69.8h0.8v0.8h-0.8zM232.3 64.7h0.8v0.8h-0.8zM233.6 42.5h0.8v0.8h-0.8zM233.1 68.1h0.8v0.8h-0.8zM231.8 68.8h0.8v0.8h-0.8zM233.3 70.0h0.8v0.8h-0.8zM235.4 71.7h0.8v0.8h-0.8zM232.7 66.9h0.8v0.8h-0.8zM235.5 61.2h0.8v0.8h-0.8zM232.1 70.6h0.8v0.8h-0.8zM233.1 68.8h0.8v0.8h-0.8zM235.1 72.0h0.8v0.8h-0.8zM235.1 68.2h0.8v0.8h-0.8zM231.9 72.2h0.8v0.8h-0.8zM231.4 69.4h0.8v0.8h-0.8zM235.0 59.5h0.8v0.8h-0.8zM233.2 62.8h0.8v0.8h-0.8zM231.2 69.8h0.8v0.8h-0.8zM230.8 66.6h0.8v0.8h-0.8zM233.0 70.2h0.8v0.8h-0.8zM230.9 70.5h0.8v0.8h-0.8zM233.2 52.3h0.8v0.8h-0.8zM233.2 62.5h0.8v0.8h-0.8zM232.3 51.0h0.8v0.8h-0.8zM233.1 70.1h0.8v0.8h-0.8zM231.3 61.9h0.8v0.8h-0.8zM231.8 69.0h0.8v0.8h-0.8zM235.5 70.4h0.8v0.8h-0.8zM234.8 70.1h0.8v0.8h-0.8zM230.7 54.9h0.8v0.8h-0.8zM235.1 64.5h0.8v0.8h-0.8zM233.6 69.9h0.8v0.8h-0.8zM233.6 68.3h0.8v0.8h-0.8zM233.4 50.1h0.8v0.8h-0.8zM231.1 68.5h0.8v0.8h-0.8zM234.2 63.2h0.8v0.8h-0.8zM231.9 66.6h0.8v0.8h-0.8zM233.9 64.9h0.8v0.8h-0.8zM231.6 66.8h0.8v0.8h-0.8zM230.3 71.1h0.8v0.8h-0.8zM233.4 50.8h0.8v0.8h-0.8zM230.9 62.4h0.8v0.8h-0.8zM230.9 69.0h0.8v0.8h-0.8zM231.7 68.8h0.8v0.8h-0.8zM234.1 63.8h0.8v0.8h-0.8zM233.9 67.0h0.8v0.8h-0.8zM233.8 70.4h0.8v0.8h-0.8zM231.1 58.4h0.8v0.8h-0.8zM231.1 64.6h0.8v0.8h-0.8zM232.0 72.2h0.8v0.8h-0.8zM232.2 71.1h0.8v0.8h-0.8zM234.1 48.0h0.8v0.8h-0.8zM233.0 69.8h0.8v0.8h-0.8zM234.5 65.3h0.8v0.8h-0.8zM232.5 58.1h0.8v0.8h-0.8zM235.0 68.3h0.8v0.8h-0.8zM235.5 64.8h0.8v0.8h-0.8zM234.0 68.6h0.8v0.8h-0.8zM231.7 68.9h0.8v0.8h-0.8zM232.3 65.6h0.8v0.8h-0.8zM235.4 57.3h0.8v0.8h-0.8zM230.4 71.1h0.8v0.8h-0.8zM230.5 66.8h0.8v0.8h-0.8zM235.1 64.8h0.8v0.8h-0.8zM233.4 71.3h0.8v0.8h-0.8zM233.4 70.6h0.8v0.8h-0.8zM235.2 69.9h0.8v0.8h-0.8zM234.3 70.9h0.8v0.8h-0.8zM233.4 61.4h0.8v0.8h-0.8zM232.9 63.5h0.8v0.8h-0.8zM234.2 70.3h0.8v0.8h-0.8zM234.6 67.0h0.8v0.8h-0.8zM234.7 71.6h0.8v0.8h-0.8zM235.3 69.3h0.8v0.8h-0.8zM232.3 70.2h0.8v0.8h-0.8zM234.8 69.4h0.8v0.8h-0.8zM230.5 63.8h0.8v0.8h-0.8zM235.4 69.6h0.8v0.8h-0.8zM230.9 58.7h0.8v0.8h-0.8zM230.7 71.1h0.8v0.8h-0.8zM231.8 62.3h0.8v0.8h-0.8zM233.5 64.7h0.8v0.8h-0.8zM233.3 71.2h0.8v0.8h-0.8zM233.6 68.9h0.8v0.8h-0.8zM231.0 63.0h0.8v0.8h-0.8zM234.8 69.1h0.8v0.8h-0.8zM233.3 71.7h0.8v0.8h-0.8zM232.8 69.0h0.8v0.8h-0.8zM235.0 48.7h0.8v0.8h-0.8zM231.7 67.1h0.8v0.8h-0.8zM230.6 63.8h0.8v0.8h-0.8zM234.2 66.3h0.8v0.8h-0.8zM234.6 66.6h0.8v0.8h-0.8zM234.9 66.9h0.8v0.8h-0.8zM232.4 70.3h0.8v0.8h-0.8zM231.2 69.4h0.8v0.8h-0.8zM233.2 61.4h0.8v0.8h-0.8zM234.4 69.0h0.8v0.8h-0.8zM235.5 72.2h0.8v0.8h-0.8zM232.7 65.3h0.8v0.8h-0.8zM233.2 69.8h0.8v0.8h-0.8zM231.3 70.5h0.8v0.8h-0.8zM230.7 58.2h0.8v0.8h-0.8zM232.1 69.8h0.8v0.8h-0.8zM230.5 59.3h0.8v0.8h-0.8zM234.7 72.2h0.8v0.8h-0.8zM230.4 66.2h0.8v0.8h-0.8zM232.5 68.8h0.8v0.8h-0.8zM233.3 68.5h0.8v0.8h-0.8zM230.8 68.7h0.8v0.8h-0.8zM233.1 48.6h0.8v0.8h-0.8zM234.5 58.7h0.8v0.8h-0.8zM233.8 51.8h0.8v0.8h-0.8zM234.0 56.7h0.8v0.8h-0.8zM231.1 51.4h0.8v0.8h-0.8zM232.6 61.7h0.8v0.8h-0.8zM266.5 72.9h0.8v0.8h-0.8zM267.5 67.2h0.8v0.8h-0.8zM266.4 74.5h0.8v0.8h-0.8zM267.5 67.4h0.8v0.8h-0.8zM267.4 71.3h0.8v0.8h-0.8zM267.9 71.5h0.8v0.8h-0.8zM266.4 69.4h0.8v0.8h-0.8zM266.1 50.7h0.8v0.8h-0.8zM267.1 74.5h0.8v0.8h-0.8zM268.2 68.3h0.8v0.8h-0.8zM267.8 73.5h0.8v0.8h-0.8zM266.1 69.6h0.8v0.8h-0.8zM266.0 73.8h0.8v0.8h-0.8zM268.3 69.6h0.8v0.8h-0.8zM266.3 75.6h0.8v0.8h-0.8zM266.4 74.0h0.8v0.8h-0.8zM267.4 73.7h0.8v0.8h-0.8zM265.9 71.0h0.8v0.8h-0.8zM267.9 73.7h0.8v0.8h-0.8zM267.1 75.2h0.8v0.8h-0.8zM265.9 75.8h0.8v0.8h-0.8zM267.2 69.1h0.8v0.8h-0.8zM266.1 44.4h0.8v0.8h-0.8zM267.6 71.6h0.8v0.8h-0.8zM267.6 70.9h0.8v0.8h-0.8zM267.3 62.4h0.8v0.8h-0.8zM266.2 71.7h0.8v0.8h-0.8zM266.0 75.0h0.8v0.8h-0.8zM267.2 69.4h0.8v0.8h-0.8zM266.8 75.2h0.8v0.8h-0.8zM266.8 74.5h0.8v0.8h-0.8zM266.5 76.0h0.8v0.8h-0.8zM267.3 72.3h0.8v0.8h-0.8zM267.3 73.0h0.8v0.8h-0.8zM267.7 68.2h0.8v0.8h-0.8zM268.3 72.5h0.8v0.8h-0.8zM266.2 72.9h0.8v0.8h-0.8zM267.7 66.8h0.8v0.8h-0.8zM266.2 68.2h0.8v0.8h-0.8zM266.7 69.7h0.8v0.8h-0.8zM267.7 52.5h0.8v0.8h-0.8zM268.1 71.7h0.8v0.8h-0.8zM268.2 73.6h0.8v0.8h-0.8zM266.4 61.2h0.8v0.8h-0.8zM266.5 65.8h0.8v0.8h-0.8zM267.1 69.0h0.8v0.8h-0.8zM266.9 76.2h0.8v0.8h-0.8zM268.1 74.5h0.8v0.8h-0.8zM266.5 66.5h0.8v0.8h-0.8zM267.5 74.5h0.8v0.8h-0.8zM267.4 69.4h0.8v0.8h-0.8zM267.1 74.5h0.8v0.8h-0.8zM267.8 74.9h0.8v0.8h-0.8zM267.7 69.7h0.8v0.8h-0.8zM266.2 63.8h0.8v0.8h-0.8zM266.8 73.5h0.8v0.8h-0.8zM266.9 66.8h0.8v0.8h-0.8zM267.5 63.0h0.8v0.8h-0.8zM267.0 73.4h0.8v0.8h-0.8zM267.6 69.5h0.8v0.8h-0.8zM267.0 70.5h0.8v0.8h-0.8zM266.2 66.3h0.8v0.8h-0.8zM267.6 75.2h0.8v0.8h-0.8zM265.9 74.0h0.8v0.8h-0.8zM266.8 54.5h0.8v0.8h-0.8zM267.4 51.5h0.8v0.8h-0.8zM266.3 62.3h0.8v0.8h-0.8z"/>
<path fill="#2a8ed0" d="M164.9 67.3h0.8v0.8h-0.8zM167.1 60.0h0.8v0.8h-0.8zM168.9 70.1h0.8v0.8h-0.8zM167.6 70.7h0.8v0.8h-0.8zM169.0 69.6h0.8v0.8h-0.8zM169.1 58.1h0.8v0.8h-0.8zM167.7 67.6h0.8v0.8h-0.8zM168.9 68.6h0.8v0.8h-0.8zM165.4 69.7h0.8v0.8h-0.8zM168.3 61.1h0.8v0.8h-0.8zM165.1 65.3h0.8v0.8h-0.8zM165.8 63.4h0.8v0.8h-0.8zM167.6 67.2h0.8v0.8h-0.8zM165.2 66.1h0.8v0.8h-0.8zM167.2 70.8h0.8v0.8h-0.8zM168.7 58.4h0.8v0.8h-0.8zM169.3 68.9h0.8v0.8h-0.8zM165.9 70.8h0.8v0.8h-0.8zM166.1 68.5h0.8v0.8h-0.8zM169.1 63.2h0.8v0.8h-0.8zM164.7 69.1h0.8v0.8h-0.8zM164.9 68.9h0.8v0.8h-0.8zM166.6 69.9h0.8v0.8h-0.8zM167.6 44.7h0.8v0.8h-0.8zM168.6 69.5h0.8v0.8h-0.8zM167.6 48.3h0.8v0.8h-0.8zM169.0 71.9h0.8v0.8h-0.8zM167.3 64.1h0.8v0.8h-0.8zM167.6 70.5h0.8v0.8h-0.8zM166.8 58.1h0.8v0.8h-0.8zM168.0 68.8h0.8v0.8h-0.8zM169.7 69.0h0.8v0.8h-0.8zM168.8 66.0h0.8v0.8h-0.8zM165.4 59.1h0.8v0.8h-0.8zM166.0 67.0h0.8v0.8h-0.8zM167.0 69.0h0.8v0.8h-0.8zM168.0 71.2h0.8v0.8h-0.8zM165.9 64.9h0.8v0.8h-0.8zM169.1 57.9h0.8v0.8h-0.8zM169.6 65.0h0.8v0.8h-0.8zM168.3 58.6h0.8v0.8h-0.8zM166.2 70.4h0.8v0.8h-0.8zM167.8 66.9h0.8v0.8h-0.8zM169.3 69.0h0.8v0.8h-0.8zM166.0 66.7h0.8v0.8h-0.8zM167.3 52.3h0.8v0.8h-0.8zM168.1 72.1h0.8v0.8h-0.8zM165.7 47.8h0.8v0.8h-0.8zM165.4 66.0h0.8v0.8h-0.8zM169.6 71.1h0.8v0.8h-0.8zM167.4 68.7h0.8v0.8h-0.8zM168.2 63.1h0.8v0.8h-0.8zM166.3 71.7h0.8v0.8h-0.8zM169.7 66.1h0.8v0.8h-0.8zM166.6 57.7h0.8v0.8h-0.8zM167.5 70.7h0.8v0.8h-0.8zM166.7 38.1h0.8v0.8h-0.8zM166.4 61.3h0.8v0.8h-0.8zM165.6 61.9h0.8v0.8h-0.8zM165.8 64.2h0.8v0.8h-0.8zM168.8 71.8h0.8v0.8h-0.8zM167.1 62.9h0.8v0.8h-0.8zM168.1 71.0h0.8v0.8h-0.8zM165.2 63.2h0.8v0.8h-0.8zM165.0 71.3h0.8v0.8h-0.8zM165.0 68.4h0.8v0.8h-0.8zM168.0 68.6h0.8v0.8h-0.8zM164.8 69.7h0.8v0.8h-0.8zM167.8 68.0h0.8v0.8h-0.8zM167.9 65.3h0.8v0.8h-0.8zM165.7 71.9h0.8v0.8h-0.8zM166.8 72.1h0.8v0.8h-0.8zM166.9 68.1h0.8v0.8h-0.8zM165.3 63.9h0.8v0.8h-0.8zM167.9 57.6h0.8v0.8h-0.8zM167.5 58.2h0.8v0.8h-0.8zM168.7 62.0h0.8v0.8h-0.8zM165.8 49.1h0.8v0.8h-0.8zM167.2 68.1h0.8v0.8h-0.8zM169.2 70.4h0.8v0.8h-0.8zM166.7 61.1h0.8v0.8h-0.8zM167.2 72.1h0.8v0.8h-0.8zM168.7 63.7h0.8v0.8h-0.8zM169.1 69.9h0.8v0.8h-0.8zM166.6 71.9h0.8v0.8h-0.8zM168.1 70.6h0.8v0.8h-0.8zM169.3 51.7h0.8v0.8h-0.8zM168.7 69.9h0.8v0.8h-0.8zM170.0 47.3h0.8v0.8h-0.8zM168.2 61.9h0.8v0.8h-0.8zM164.8 50.4h0.8v0.8h-0.8zM164.7 65.2h0.8v0.8h-0.8zM167.2 65.3h0.8v0.8h-0.8zM166.5 66.5h0.8v0.8h-0.8zM168.6 66.1h0.8v0.8h-0.8zM164.9 72.0h0.8v0.8h-0.8zM166.9 66.2h0.8v0.8h-0.8zM168.1 48.3h0.8v0.8h-0.8zM168.0 67.0h0.8v0.8h-0.8zM165.0 64.8h0.8v0.8h-0.8zM169.0 47.4h0.8v0.8h-0.8zM165.6 69.7h0.8v0.8h-0.8zM169.2 54.1h0.8v0.8h-0.8zM167.2 67.3h0.8v0.8h-0.8zM165.1 68.6h0.8v0.8h-0.8zM165.2 64.7h0.8v0.8h-0.8zM165.9 29.4h0.8v0.8h-0.8zM165.6 71.8h0.8v0.8h-0.8zM169.5 63.3h0.8v0.8h-0.8zM167.9 64.6h0.8v0.8h-0.8zM165.0 70.5h0.8v0.8h-0.8zM166.4 67.5h0.8v0.8h-0.8zM167.4 68.9h0.8v0.8h-0.8zM167.8 64.3h0.8v0.8h-0.8zM168.9 60.1h0.8v0.8h-0.8zM165.0 57.3h0.8v0.8h-0.8zM166.6 71.3h0.8v0.8h-0.8zM165.8 68.4h0.8v0.8h-0.8zM165.9 70.4h0.8v0.8h-0.8zM168.2 67.7h0.8v0.8h-0.8zM169.5 66.0h0.8v0.8h-0.8zM164.7 58.6h0.8v0.8h-0.8zM169.9 70.1h0.8v0.8h-0.8zM166.6 56.4h0.8v0.8h-0.8zM168.2 67.0h0.8v0.8h-0.8zM168.6 69.2h0.8v0.8h-0.8zM167.1 71.1h0.8v0.8h-0.8zM167.9 65.3h0.8v0.8h-0.8zM167.5 60.9h0.8v0.8h-0.8zM165.5 60.7h0.8v0.8h-0.8zM164.7 68.4h0.8v0.8h-0.8zM165.2 66.8h0.8v0.8h-0.8zM169.5 60.8h0.8v0.8h-0.8zM166.2 66.6h0.8v0.8h-0.8zM166.2 70.5h0.8v0.8h-0.8zM167.2 65.8h0.8v0.8h-0.8zM169.5 63.7h0.8v0.8h-0.8zM169.6 70.3h0.8v0.8h-0.8zM165.5 72.2h0.8v0.8h-0.8zM166.4 70.8h0.8v0.8h-0.8zM165.9 70.0h0.8v0.8h-0.8zM167.4 58.8h0.8v0.8h-0.8zM168.3 55.4h0.8v0.8h-0.8zM167.2 56.0h0.8v0.8h-0.8zM168.2 49.0h0.8v0.8h-0.8zM165.0 49.5h0.8v0.8h-0.8zM168.1 60.1h0.8v0.8h-0.8zM166.7 58.5h0.8v0.8h-0.8zM202.8 71.8h0.8v0.8h-0.8zM202.4 64.8h0.8v0.8h-0.8zM205.3 71.3h0.8v0.8h-0.8zM203.9 65.1h0.8v0.8h-0.8zM202.7 56.5h0.8v0.8h-0.8zM207.1 70.5h0.8v0.8h-0.8zM202.3 65.7h0.8v0.8h-0.8zM207.1 51.6h0.8v0.8h-0.8zM202.4 71.6h0.8v0.8h-0.8zM204.5 45.2h0.8v0.8h-0.8zM203.3 65.6h0.8v0.8h-0.8zM203.6 72.3h0.8v0.8h-0.8zM206.0 65.5h0.8v0.8h-0.8zM207.3 73.3h0.8v0.8h-0.8zM203.9 63.0h0.8v0.8h-0.8zM203.2 67.9h0.8v0.8h-0.8zM204.7 58.8h0.8v0.8h-0.8zM206.0 73.0h0.8v0.8h-0.8zM204.0 63.6h0.8v0.8h-0.8zM204.9 57.4h0.8v0.8h-0.8zM203.7 70.9h0.8v0.8h-0.8zM203.0 63.5h0.8v0.8h-0.8zM206.0 68.4h0.8v0.8h-0.8zM203.1 58.9h0.8v0.8h-0.8zM204.8 65.1h0.8v0.8h-0.8zM207.1 72.8h0.8v0.8h-0.8zM203.5 65.8h0.8v0.8h-0.8zM204.1 57.8h0.8v0.8h-0.8zM202.4 59.7h0.8v0.8h-0.8zM202.8 65.5h0.8v0.8h-0.8zM204.2 67.2h0.8v0.8h-0.8zM206.3 39.8h0.8v0.8h-0.8zM204.0 52.8h0.8v0.8h-0.8zM203.2 67.9h0.8v0.8h-0.8zM204.8 61.0h0.8v0.8h-0.8zM203.1 70.6h0.8v0.8h-0.8zM205.4 66.9h0.8v0.8h-0.8zM206.9 39.4h0.8v0.8h-0.8zM205.1 70.5h0.8v0.8h-0.8zM205.8 69.1h0.8v0.8h-0.8zM204.6 43.0h0.8v0.8h-0.8zM203.7 54.0h0.8v0.8h-0.8zM206.9 72.4h0.8v0.8h-0.8zM202.4 67.5h0.8v0.8h-0.8zM203.6 73.3h0.8v0.8h-0.8zM204.0 67.6h0.8v0.8h-0.8zM203.8 58.0h0.8v0.8h-0.8zM207.0 72.7h0.8v0.8h-0.8zM203.6 68.4h0.8v0.8h-0.8zM202.5 66.6h0.8v0.8h-0.8zM206.1 69.9h0.8v0.8h-0.8zM204.1 72.1h0.8v0.8h-0.8zM205.6 62.9h0.8v0.8h-0.8zM204.4 39.2h0.8v0.8h-0.8zM206.1 72.3h0.8v0.8h-0.8zM203.4 69.9h0.8v0.8h-0.8zM206.0 52.3h0.8v0.8h-0.8zM207.1 72.2h0.8v0.8h-0.8zM203.5 66.9h0.8v0.8h-0.8zM204.2 64.8h0.8v0.8h-0.8zM207.0 63.4h0.8v0.8h-0.8zM202.3 60.1h0.8v0.8h-0.8zM207.3 49.9h0.8v0.8h-0.8zM203.8 69.2h0.8v0.8h-0.8zM204.1 68.3h0.8v0.8h-0.8zM205.0 66.4h0.8v0.8h-0.8zM205.3 67.0h0.8v0.8h-0.8zM204.8 72.1h0.8v0.8h-0.8zM203.0 73.7h0.8v0.8h-0.8zM206.2 72.9h0.8v0.8h-0.8zM204.0 54.1h0.8v0.8h-0.8zM205.2 68.5h0.8v0.8h-0.8zM202.7 44.8h0.8v0.8h-0.8zM202.9 63.3h0.8v0.8h-0.8zM204.0 56.9h0.8v0.8h-0.8zM206.1 71.1h0.8v0.8h-0.8zM202.8 53.8h0.8v0.8h-0.8zM205.1 55.7h0.8v0.8h-0.8zM203.7 57.9h0.8v0.8h-0.8zM207.0 72.6h0.8v0.8h-0.8zM202.6 44.9h0.8v0.8h-0.8zM206.1 65.3h0.8v0.8h-0.8zM204.4 67.4h0.8v0.8h-0.8zM205.6 72.1h0.8v0.8h-0.8zM204.7 52.4h0.8v0.8h-0.8zM205.9 69.7h0.8v0.8h-0.8zM204.5 73.5h0.8v0.8h-0.8zM203.5 71.6h0.8v0.8h-0.8zM203.2 56.2h0.8v0.8h-0.8zM207.3 62.0h0.8v0.8h-0.8zM205.3 55.0h0.8v0.8h-0.8zM204.6 69.4h0.8v0.8h-0.8zM205.9 71.3h0.8v0.8h-0.8zM202.9 69.1h0.8v0.8h-0.8zM204.4 61.9h0.8v0.8h-0.8zM202.5 68.6h0.8v0.8h-0.8zM206.7 68.3h0.8v0.8h-0.8zM206.4 68.6h0.8v0.8h-0.8zM206.2 73.6h0.8v0.8h-0.8zM204.2 65.0h0.8v0.8h-0.8zM203.4 67.4h0.8v0.8h-0.8zM205.6 61.2h0.8v0.8h-0.8zM205.0 73.5h0.8v0.8h-0.8zM202.8 67.3h0.8v0.8h-0.8zM203.9 56.8h0.8v0.8h-0.8zM205.7 49.9h0.8v0.8h-0.8zM203.6 64.0h0.8v0.8h-0.8zM207.3 71.3h0.8v0.8h-0.8zM206.5 71.0h0.8v0.8h-0.8zM202.3 63.9h0.8v0.8h-0.8zM207.3 51.2h0.8v0.8h-0.8zM204.5 72.6h0.8v0.8h-0.8zM204.3 62.8h0.8v0.8h-0.8zM202.8 71.4h0.8v0.8h-0.8zM203.1 72.4h0.8v0.8h-0.8zM205.3 60.0h0.8v0.8h-0.8zM203.6 43.9h0.8v0.8h-0.8zM202.4 55.9h0.8v0.8h-0.8zM204.4 73.6h0.8v0.8h-0.8zM204.0 52.0h0.8v0.8h-0.8zM203.2 52.8h0.8v0.8h-0.8zM203.3 39.4h0.8v0.8h-0.8zM202.9 73.7h0.8v0.8h-0.8zM202.9 71.6h0.8v0.8h-0.8zM206.6 72.0h0.8v0.8h-0.8zM203.7 66.4h0.8v0.8h-0.8zM204.6 72.8h0.8v0.8h-0.8zM206.2 56.0h0.8v0.8h-0.8zM206.1 50.1h0.8v0.8h-0.8zM206.8 72.2h0.8v0.8h-0.8zM206.1 71.3h0.8v0.8h-0.8zM204.8 66.2h0.8v0.8h-0.8zM205.7 45.0h0.8v0.8h-0.8zM205.8 58.2h0.8v0.8h-0.8zM206.8 67.8h0.8v0.8h-0.8zM207.2 73.5h0.8v0.8h-0.8zM206.2 66.9h0.8v0.8h-0.8zM207.2 70.4h0.8v0.8h-0.8zM205.9 63.1h0.8v0.8h-0.8zM204.2 66.1h0.8v0.8h-0.8zM206.6 60.1h0.8v0.8h-0.8zM205.8 72.2h0.8v0.8h-0.8zM204.7 65.5h0.8v0.8h-0.8zM206.2 56.4h0.8v0.8h-0.8zM202.3 73.6h0.8v0.8h-0.8zM206.8 68.6h0.8v0.8h-0.8zM203.0 72.9h0.8v0.8h-0.8zM205.7 71.2h0.8v0.8h-0.8zM204.6 69.4h0.8v0.8h-0.8zM204.3 61.6h0.8v0.8h-0.8zM205.4 66.3h0.8v0.8h-0.8zM206.8 64.1h0.8v0.8h-0.8zM207.2 73.1h0.8v0.8h-0.8zM202.8 73.7h0.8v0.8h-0.8zM203.6 67.3h0.8v0.8h-0.8zM207.3 65.3h0.8v0.8h-0.8zM202.9 71.3h0.8v0.8h-0.8zM202.8 67.7h0.8v0.8h-0.8zM203.5 62.0h0.8v0.8h-0.8zM204.7 73.2h0.8v0.8h-0.8zM203.4 73.9h0.8v0.8h-0.8zM205.9 59.4h0.8v0.8h-0.8zM207.5 67.3h0.8v0.8h-0.8zM206.6 71.5h0.8v0.8h-0.8zM206.8 65.4h0.8v0.8h-0.8zM205.8 65.0h0.8v0.8h-0.8zM205.1 41.8h0.8v0.8h-0.8zM203.1 38.0h0.8v0.8h-0.8zM205.4 72.2h0.8v0.8h-0.8zM204.8 64.7h0.8v0.8h-0.8zM202.9 73.4h0.8v0.8h-0.8zM202.6 63.0h0.8v0.8h-0.8zM203.7 68.3h0.8v0.8h-0.8zM205.0 65.9h0.8v0.8h-0.8zM203.3 66.6h0.8v0.8h-0.8zM205.6 72.5h0.8v0.8h-0.8zM206.6 70.8h0.8v0.8h-0.8zM202.9 66.4h0.8v0.8h-0.8zM204.2 68.3h0.8v0.8h-0.8zM206.4 73.6h0.8v0.8h-0.8zM204.5 66.4h0.8v0.8h-0.8zM203.4 72.0h0.8v0.8h-0.8zM203.9 70.3h0.8v0.8h-0.8zM202.6 68.7h0.8v0.8h-0.8zM203.8 72.7h0.8v0.8h-0.8zM205.6 60.7h0.8v0.8h-0.8zM205.6 72.4h0.8v0.8h-0.8zM204.7 72.0h0.8v0.8h-0.8zM202.7 71.3h0.8v0.8h-0.8zM206.7 59.8h0.8v0.8h-0.8zM203.3 66.6h0.8v0.8h-0.8zM206.0 54.1h0.8v0.8h-0.8zM203.3 55.5h0.8v0.8h-0.8zM205.8 64.2h0.8v0.8h-0.8zM204.5 37.0h0.8v0.8h-0.8zM206.7 63.0h0.8v0.8h-0.8zM203.8 55.5h0.8v0.8h-0.8zM205.4 57.1h0.8v0.8h-0.8zM206.6 47.0h0.8v0.8h-0.8zM203.2 52.1h0.8v0.8h-0.8zM243.3 71.6h0.8v0.8h-0.8zM240.5 56.8h0.8v0.8h-0.8zM239.8 70.2h0.8v0.8h-0.8zM241.2 64.3h0.8v0.8h-0.8zM238.3 54.8h0.8v0.8h-0.8zM238.7 67.6h0.8v0.8h-0.8zM236.3 65.3h0.8v0.8h-0.8zM242.5 61.2h0.8v0.8h-0.8zM238.9 63.8h0.8v0.8h-0.8zM241.7 67.9h0.8v0.8h-0.8zM243.2 56.9h0.8v0.8h-0.8zM240.6 35.0h0.8v0.8h-0.8zM241.8 72.3h0.8v0.8h-0.8zM243.6 37.1h0.8v0.8h-0.8zM237.3 59.5h0.8v0.8h-0.8zM239.5 66.3h0.8v0.8h-0.8zM243.5 47.8h0.8v0.8h-0.8zM241.0 66.4h0.8v0.8h-0.8zM242.9 73.1h0.8v0.8h-0.8zM239.8 66.6h0.8v0.8h-0.8zM236.8 71.8h0.8v0.8h-0.8zM242.0 72.5h0.8v0.8h-0.8zM241.1 70.6h0.8v0.8h-0.8zM241.3 61.2h0.8v0.8h-0.8zM243.1 72.3h0.8v0.8h-0.8zM237.4 72.2h0.8v0.8h-0.8zM242.8 72.0h0.8v0.8h-0.8zM240.1 70.1h0.8v0.8h-0.8zM243.4 73.2h0.8v0.8h-0.8zM242.5 72.8h0.8v0.8h-0.8zM242.0 65.8h0.8v0.8h-0.8zM238.2 61.2h0.8v0.8h-0.8zM238.0 73.2h0.8v0.8h-0.8zM238.3 67.7h0.8v0.8h-0.8zM236.7 67.4h0.8v0.8h-0.8zM236.3 51.9h0.8v0.8h-0.8zM238.5 60.1h0.8v0.8h-0.8zM242.2 55.1h0.8v0.8h-0.8zM236.6 72.1h0.8v0.8h-0.8zM242.9 69.3h0.8v0.8h-0.8zM243.1 73.4h0.8v0.8h-0.8zM237.0 60.1h0.8v0.8h-0.8zM242.3 70.7h0.8v0.8h-0.8zM236.3 70.4h0.8v0.8h-0.8zM240.7 71.9h0.8v0.8h-0.8zM238.2 55.6h0.8v0.8h-0.8zM236.7 67.3h0.8v0.8h-0.8zM242.7 62.3h0.8v0.8h-0.8zM242.2 66.9h0.8v0.8h-0.8zM243.3 68.5h0.8v0.8h-0.8zM239.4 67.9h0.8v0.8h-0.8zM241.0 67.0h0.8v0.8h-0.8zM242.8 54.2h0.8v0.8h-0.8zM238.5 66.0h0.8v0.8h-0.8zM240.2 50.0h0.8v0.8h-0.8zM240.3 51.0h0.8v0.8h-0.8zM242.9 73.2h0.8v0.8h-0.8zM243.3 70.5h0.8v0.8h-0.8zM236.9 54.2h0.8v0.8h-0.8zM237.0 69.5h0.8v0.8h-0.8zM241.5 61.3h0.8v0.8h-0.8zM238.5 65.0h0.8v0.8h-0.8zM242.1 69.2h0.8v0.8h-0.8zM240.2 71.1h0.8v0.8h-0.8zM237.6 70.0h0.8v0.8h-0.8zM242.7 58.6h0.8v0.8h-0.8zM242.4 70.1h0.8v0.8h-0.8zM242.6 50.2h0.8v0.8h-0.8zM243.3 48.9h0.8v0.8h-0.8zM239.3 57.0h0.8v0.8h-0.8zM243.1 67.6h0.8v0.8h-0.8zM241.7 68.6h0.8v0.8h-0.8zM242.9 72.3h0.8v0.8h-0.8zM237.2 55.4h0.8v0.8h-0.8zM240.7 53.5h0.8v0.8h-0.8zM240.7 61.2h0.8v0.8h-0.8zM242.7 73.7h0.8v0.8h-0.8zM236.7 70.7h0.8v0.8h-0.8zM238.7 70.7h0.8v0.8h-0.8zM238.6 64.7h0.8v0.8h-0.8zM241.0 67.1h0.8v0.8h-0.8zM241.4 70.1h0.8v0.8h-0.8zM238.2 71.5h0.8v0.8h-0.8zM238.7 61.5h0.8v0.8h-0.8zM238.6 68.7h0.8v0.8h-0.8zM239.7 69.7h0.8v0.8h-0.8zM238.3 72.5h0.8v0.8h-0.8zM236.2 66.6h0.8v0.8h-0.8zM237.2 68.9h0.8v0.8h-0.8zM237.0 61.4h0.8v0.8h-0.8zM242.0 62.4h0.8v0.8h-0.8zM242.2 73.6h0.8v0.8h-0.8zM241.9 70.4h0.8v0.8h-0.8zM238.2 70.1h0.8v0.8h-0.8zM238.8 71.2h0.8v0.8h-0.8zM236.8 71.9h0.8v0.8h-0.8zM241.2 50.0h0.8v0.8h-0.8zM239.1 62.5h0.8v0.8h-0.8zM242.5 67.6h0.8v0.8h-0.8zM237.1 68.1h0.8v0.8h-0.8zM242.5 67.4h0.8v0.8h-0.8zM241.8 42.1h0.8v0.8h-0.8zM243.3 69.6h0.8v0.8h-0.8zM242.6 63.2h0.8v0.8h-0.8zM238.8 71.1h0.8v0.8h-0.8zM239.6 71.3h0.8v0.8h-0.8zM238.4 71.6h0.8v0.8h-0.8zM236.2 59.3h0.8v0.8h-0.8zM242.0 66.0h0.8v0.8h-0.8zM241.6 69.5h0.8v0.8h-0.8zM241.7 72.9h0.8v0.8h-0.8zM239.9 64.5h0.8v0.8h-0.8zM241.4 67.4h0.8v0.8h-0.8zM243.6 72.7h0.8v0.8h-0.8zM239.8 68.9h0.8v0.8h-0.8zM237.7 69.9h0.8v0.8h-0.8zM237.4 72.9h0.8v0.8h-0.8zM236.5 63.1h0.8v0.8h-0.8zM243.2 70.7h0.8v0.8h-0.8zM237.8 67.8h0.8v0.8h-0.8zM238.7 70.1h0.8v0.8h-0.8zM242.9 59.6h0.8v0.8h-0.8zM243.3 68.4h0.8v0.8h-0.8zM242.3 72.4h0.8v0.8h-0.8zM237.9 67.8h0.8v0.8h-0.8zM236.5 70.0h0.8v0.8h-0.8zM241.0 70.9h0.8v0.8h-0.8zM240.1 66.9h0.8v0.8h-0.8zM240.7 69.9h0.8v0.8h-0.8zM238.2 67.9h0.8v0.8h-0.8zM239.5 66.6h0.8v0.8h-0.8zM237.7 72.9h0.8v0.8h-0.8zM242.0 57.1h0.8v0.8h-0.8zM238.6 69.4h0.8v0.8h-0.8zM237.1 70.8h0.8v0.8h-0.8zM242.1 66.7h0.8v0.8h-0.8zM239.0 72.7h0.8v0.8h-0.8zM238.7 67.8h0.8v0.8h-0.8zM242.9 70.7h0.8v0.8h-0.8zM240.3 72.0h0.8v0.8h-0.8zM239.7 73.0h0.8v0.8h-0.8zM238.9 67.2h0.8v0.8h-0.8zM237.7 65.4h0.8v0.8h-0.8zM238.6 73.1h0.8v0.8h-0.8zM243.6 50.3h0.8v0.8h-0.8zM240.5 61.3h0.8v0.8h-0.8zM243.0 60.4h0.8v0.8h-0.8zM239.1 72.7h0.8v0.8h-0.8zM237.7 69.9h0.8v0.8h-0.8zM243.0 71.6h0.8v0.8h-0.8zM236.8 70.8h0.8v0.8h-0.8zM241.2 64.7h0.8v0.8h-0.8zM239.1 69.6h0.8v0.8h-0.8zM241.5 71.1h0.8v0.8h-0.8zM237.8 69.9h0.8v0.8h-0.8zM237.9 66.8h0.8v0.8h-0.8zM239.2 65.4h0.8v0.8h-0.8zM240.1 64.5h0.8v0.8h-0.8zM238.6 67.7h0.8v0.8h-0.8zM241.3 68.5h0.8v0.8h-0.8zM240.0 73.4h0.8v0.8h-0.8zM237.8 40.1h0.8v0.8h-0.8zM241.8 66.0h0.8v0.8h-0.8zM240.7 72.3h0.8v0.8h-0.8zM236.3 59.5h0.8v0.8h-0.8zM243.5 73.2h0.8v0.8h-0.8zM240.7 71.4h0.8v0.8h-0.8zM239.5 69.8h0.8v0.8h-0.8zM240.3 67.2h0.8v0.8h-0.8zM237.0 65.3h0.8v0.8h-0.8zM243.5 70.4h0.8v0.8h-0.8zM239.9 67.5h0.8v0.8h-0.8zM241.9 65.9h0.8v0.8h-0.8zM240.8 73.0h0.8v0.8h-0.8zM239.8 54.1h0.8v0.8h-0.8zM241.5 71.6h0.8v0.8h-0.8zM237.9 65.7h0.8v0.8h-0.8zM241.7 69.1h0.8v0.8h-0.8zM243.7 63.6h0.8v0.8h-0.8zM243.6 69.2h0.8v0.8h-0.8zM241.4 71.0h0.8v0.8h-0.8zM237.7 64.0h0.8v0.8h-0.8zM242.8 73.3h0.8v0.8h-0.8zM237.8 70.4h0.8v0.8h-0.8zM236.9 52.0h0.8v0.8h-0.8zM240.8 71.4h0.8v0.8h-0.8zM240.7 53.1h0.8v0.8h-0.8zM241.9 48.7h0.8v0.8h-0.8zM236.6 54.4h0.8v0.8h-0.8zM238.9 72.2h0.8v0.8h-0.8zM241.6 73.0h0.8v0.8h-0.8zM238.4 62.9h0.8v0.8h-0.8zM237.2 40.0h0.8v0.8h-0.8zM236.4 57.7h0.8v0.8h-0.8zM241.5 25.9h0.8v0.8h-0.8zM241.2 63.3h0.8v0.8h-0.8zM240.0 61.3h0.8v0.8h-0.8zM239.7 53.9h0.8v0.8h-0.8zM237.1 55.8h0.8v0.8h-0.8zM243.2 53.8h0.8v0.8h-0.8zM241.3 63.5h0.8v0.8h-0.8zM241.6 47.3h0.8v0.8h-0.8zM269.8 67.5h0.8v0.8h-0.8zM269.0 61.2h0.8v0.8h-0.8zM270.0 67.4h0.8v0.8h-0.8zM269.5 70.2h0.8v0.8h-0.8zM269.0 71.3h0.8v0.8h-0.8zM269.3 56.5h0.8v0.8h-0.8zM269.4 61.8h0.8v0.8h-0.8zM269.9 71.4h0.8v0.8h-0.8zM269.7 61.2h0.8v0.8h-0.8zM269.9 68.6h0.8v0.8h-0.8zM269.4 69.6h0.8v0.8h-0.8zM269.8 71.9h0.8v0.8h-0.8zM269.6 71.8h0.8v0.8h-0.8zM269.1 52.2h0.8v0.8h-0.8zM269.4 65.0h0.8v0.8h-0.8zM270.3 71.3h0.8v0.8h-0.8zM269.3 66.2h0.8v0.8h-0.8zM269.8 71.8h0.8v0.8h-0.8zM270.3 71.4h0.8v0.8h-0.8zM269.0 67.9h0.8v0.8h-0.8zM269.1 60.7h0.8v0.8h-0.8zM269.2 62.9h0.8v0.8h-0.8zM270.1 70.8h0.8v0.8h-0.8zM270.2 68.7h0.8v0.8h-0.8zM269.3 67.4h0.8v0.8h-0.8zM269.7 66.4h0.8v0.8h-0.8zM269.1 64.2h0.8v0.8h-0.8zM270.0 71.6h0.8v0.8h-0.8zM269.6 64.9h0.8v0.8h-0.8zM269.7 69.2h0.8v0.8h-0.8zM269.5 63.7h0.8v0.8h-0.8zM270.2 61.1h0.8v0.8h-0.8zM269.3 71.9h0.8v0.8h-0.8zM269.5 69.8h0.8v0.8h-0.8zM270.0 70.4h0.8v0.8h-0.8zM269.6 62.2h0.8v0.8h-0.8zM269.3 62.0h0.8v0.8h-0.8zM270.2 37.1h0.8v0.8h-0.8zM269.7 65.9h0.8v0.8h-0.8zM269.4 64.5h0.8v0.8h-0.8zM270.2 71.1h0.8v0.8h-0.8zM269.3 71.2h0.8v0.8h-0.8zM269.8 69.1h0.8v0.8h-0.8zM270.3 58.3h0.8v0.8h-0.8zM269.9 61.3h0.8v0.8h-0.8zM202.6 34.3h0.8v0.8h-0.8zM166.6 41.6h0.8v0.8h-0.8z"/>
<path fill="#5cc0e6" d="M171.4 65.7h0.8v0.8h-0.8zM171.3 70.0h0.8v0.8h-0.8zM172.6 74.9h0.8v0.8h-0.8zM172.7 74.8h0.8v0.8h-0.8zM172.6 72.7h0.8v0.8h-0.8zM171.5 75.1h0.8v0.8h-0.8zM171.5 75.5h0.8v0.8h-0.8zM172.6 70.6h0.8v0.8h-0.8zM173.8 74.9h0.8v0.8h-0.8zM171.7 72.5h0.8v0.8h-0.8zM172.3 73.8h0.8v0.8h-0.8zM172.5 71.3h0.8v0.8h-0.8zM170.8 72.7h0.8v0.8h-0.8zM170.9 74.1h0.8v0.8h-0.8zM171.9 75.1h0.8v0.8h-0.8zM171.3 74.8h0.8v0.8h-0.8zM173.6 70.1h0.8v0.8h-0.8zM172.3 74.3h0.8v0.8h-0.8zM172.5 73.1h0.8v0.8h-0.8zM173.5 72.5h0.8v0.8h-0.8zM170.7 75.0h0.8v0.8h-0.8zM173.1 64.6h0.8v0.8h-0.8zM171.5 69.9h0.8v0.8h-0.8zM170.7 61.4h0.8v0.8h-0.8zM172.3 54.9h0.8v0.8h-0.8zM173.9 73.1h0.8v0.8h-0.8zM171.3 73.9h0.8v0.8h-0.8zM171.1 70.9h0.8v0.8h-0.8zM173.3 71.7h0.8v0.8h-0.8zM172.1 58.2h0.8v0.8h-0.8zM173.6 51.7h0.8v0.8h-0.8zM172.9 73.4h0.8v0.8h-0.8zM171.3 67.0h0.8v0.8h-0.8zM173.2 67.1h0.8v0.8h-0.8zM172.5 74.4h0.8v0.8h-0.8zM173.7 73.0h0.8v0.8h-0.8zM171.6 71.5h0.8v0.8h-0.8zM172.0 56.2h0.8v0.8h-0.8zM171.5 72.0h0.8v0.8h-0.8zM171.9 72.4h0.8v0.8h-0.8zM172.9 70.5h0.8v0.8h-0.8zM172.7 66.3h0.8v0.8h-0.8zM173.2 74.6h0.8v0.8h-0.8zM170.7 70.0h0.8v0.8h-0.8zM173.2 66.7h0.8v0.8h-0.8zM171.7 56.8h0.8v0.8h-0.8zM171.8 71.5h0.8v0.8h-0.8zM173.3 70.8h0.8v0.8h-0.8zM174.1 71.6h0.8v0.8h-0.8zM172.7 74.2h0.8v0.8h-0.8zM171.2 69.4h0.8v0.8h-0.8zM173.2 67.8h0.8v0.8h-0.8zM172.1 69.8h0.8v0.8h-0.8zM171.7 70.2h0.8v0.8h-0.8zM173.4 63.8h0.8v0.8h-0.8zM171.4 54.1h0.8v0.8h-0.8zM171.2 61.2h0.8v0.8h-0.8zM172.0 48.8h0.8v0.8h-0.8zM172.4 54.3h0.8v0.8h-0.8zM172.9 61.9h0.8v0.8h-0.8zM173.9 69.6h0.8v0.8h-0.8zM172.5 64.1h0.8v0.8h-0.8zM172.2 73.9h0.8v0.8h-0.8zM172.9 73.8h0.8v0.8h-0.8zM171.2 72.5h0.8v0.8h-0.8zM171.8 62.9h0.8v0.8h-0.8zM173.5 70.0h0.8v0.8h-0.8zM174.1 75.2h0.8v0.8h-0.8zM173.8 59.5h0.8v0.8h-0.8zM172.1 73.8h0.8v0.8h-0.8zM172.2 73.4h0.8v0.8h-0.8zM173.0 73.5h0.8v0.8h-0.8zM171.3 70.3h0.8v0.8h-0.8zM173.5 75.0h0.8v0.8h-0.8zM172.5 71.7h0.8v0.8h-0.8zM173.6 75.0h0.8v0.8h-0.8zM171.6 75.7h0.8v0.8h-0.8zM173.3 75.0h0.8v0.8h-0.8zM172.7 70.5h0.8v0.8h-0.8zM173.0 69.3h0.8v0.8h-0.8zM172.7 75.4h0.8v0.8h-0.8zM171.2 68.8h0.8v0.8h-0.8zM171.1 74.3h0.8v0.8h-0.8zM172.1 61.0h0.8v0.8h-0.8zM174.1 66.1h0.8v0.8h-0.8zM171.1 74.4h0.8v0.8h-0.8zM172.3 71.5h0.8v0.8h-0.8zM172.0 73.9h0.8v0.8h-0.8zM172.3 61.6h0.8v0.8h-0.8zM172.0 64.5h0.8v0.8h-0.8zM172.3 60.0h0.8v0.8h-0.8zM174.0 64.4h0.8v0.8h-0.8zM208.7 71.8h0.8v0.8h-0.8zM208.4 68.8h0.8v0.8h-0.8zM209.2 49.1h0.8v0.8h-0.8zM209.0 63.7h0.8v0.8h-0.8zM208.2 62.8h0.8v0.8h-0.8zM208.5 61.3h0.8v0.8h-0.8zM208.2 67.3h0.8v0.8h-0.8zM208.4 69.9h0.8v0.8h-0.8zM208.1 53.8h0.8v0.8h-0.8zM209.1 71.6h0.8v0.8h-0.8zM208.4 65.0h0.8v0.8h-0.8zM208.9 62.7h0.8v0.8h-0.8zM208.9 67.9h0.8v0.8h-0.8zM208.6 68.8h0.8v0.8h-0.8zM208.9 71.2h0.8v0.8h-0.8zM208.7 69.6h0.8v0.8h-0.8zM208.4 61.0h0.8v0.8h-0.8zM209.1 69.1h0.8v0.8h-0.8zM209.0 62.5h0.8v0.8h-0.8zM208.5 71.0h0.8v0.8h-0.8zM208.5 49.8h0.8v0.8h-0.8zM208.6 68.7h0.8v0.8h-0.8zM208.8 71.3h0.8v0.8h-0.8zM208.1 52.5h0.8v0.8h-0.8zM208.5 61.3h0.8v0.8h-0.8zM209.0 71.4h0.8v0.8h-0.8zM208.4 63.9h0.8v0.8h-0.8zM209.1 67.7h0.8v0.8h-0.8zM208.6 67.3h0.8v0.8h-0.8zM209.1 71.1h0.8v0.8h-0.8zM209.2 48.7h0.8v0.8h-0.8zM209.0 63.9h0.8v0.8h-0.8zM208.9 70.6h0.8v0.8h-0.8zM208.8 60.8h0.8v0.8h-0.8zM208.3 56.3h0.8v0.8h-0.8zM208.1 68.8h0.8v0.8h-0.8zM208.7 52.1h0.8v0.8h-0.8zM208.8 71.4h0.8v0.8h-0.8zM208.7 61.4h0.8v0.8h-0.8zM208.9 70.2h0.8v0.8h-0.8zM208.4 53.7h0.8v0.8h-0.8zM209.1 61.4h0.8v0.8h-0.8zM244.7 44.2h0.8v0.8h-0.8zM244.5 74.1h0.8v0.8h-0.8zM244.4 74.7h0.8v0.8h-0.8zM245.0 64.7h0.8v0.8h-0.8zM244.7 73.4h0.8v0.8h-0.8zM244.5 73.7h0.8v0.8h-0.8zM244.8 73.0h0.8v0.8h-0.8zM244.4 72.8h0.8v0.8h-0.8zM244.9 72.4h0.8v0.8h-0.8zM244.9 73.1h0.8v0.8h-0.8zM244.7 58.8h0.8v0.8h-0.8zM244.6 72.2h0.8v0.8h-0.8zM245.0 73.4h0.8v0.8h-0.8zM244.4 71.7h0.8v0.8h-0.8zM244.3 62.9h0.8v0.8h-0.8zM244.6 67.3h0.8v0.8h-0.8zM244.6 74.7h0.8v0.8h-0.8zM244.9 70.4h0.8v0.8h-0.8zM244.7 67.5h0.8v0.8h-0.8zM245.0 60.1h0.8v0.8h-0.8zM244.5 62.1h0.8v0.8h-0.8zM245.0 74.0h0.8v0.8h-0.8zM244.7 66.7h0.8v0.8h-0.8zM244.4 69.5h0.8v0.8h-0.8zM244.4 74.8h0.8v0.8h-0.8zM245.0 64.3h0.8v0.8h-0.8zM244.3 62.6h0.8v0.8h-0.8zM243.6 27.6h0.8v0.8h-0.8z"/>
<path fill="#b044a8" d="M179.5 71.9h0.8v0.8h-0.8zM175.3 73.9h0.8v0.8h-0.8zM175.7 65.2h0.8v0.8h-0.8zM175.3 66.3h0.8v0.8h-0.8zM178.5 67.7h0.8v0.8h-0.8zM176.8 56.5h0.8v0.8h-0.8zM180.6 61.2h0.8v0.8h-0.8zM177.4 68.5h0.8v0.8h-0.8zM179.9 60.2h0.8v0.8h-0.8zM178.8 71.7h0.8v0.8h-0.8zM175.2 49.1h0.8v0.8h-0.8zM179.8 73.0h0.8v0.8h-0.8zM176.8 71.9h0.8v0.8h-0.8zM177.3 70.3h0.8v0.8h-0.8zM178.9 48.4h0.8v0.8h-0.8zM178.7 73.9h0.8v0.8h-0.8zM176.3 70.9h0.8v0.8h-0.8zM180.9 68.5h0.8v0.8h-0.8zM176.9 74.0h0.8v0.8h-0.8zM176.9 46.1h0.8v0.8h-0.8zM176.9 30.1h0.8v0.8h-0.8zM181.0 73.2h0.8v0.8h-0.8zM176.6 64.2h0.8v0.8h-0.8zM175.2 73.6h0.8v0.8h-0.8zM180.5 54.8h0.8v0.8h-0.8zM177.7 70.1h0.8v0.8h-0.8zM176.4 69.2h0.8v0.8h-0.8zM179.1 61.8h0.8v0.8h-0.8zM179.0 66.6h0.8v0.8h-0.8zM180.8 58.8h0.8v0.8h-0.8zM177.1 63.8h0.8v0.8h-0.8zM178.0 69.1h0.8v0.8h-0.8zM178.3 70.3h0.8v0.8h-0.8zM175.3 72.4h0.8v0.8h-0.8zM176.5 47.9h0.8v0.8h-0.8zM180.6 56.1h0.8v0.8h-0.8zM178.8 72.5h0.8v0.8h-0.8zM176.2 74.3h0.8v0.8h-0.8zM180.6 71.2h0.8v0.8h-0.8zM180.9 74.0h0.8v0.8h-0.8zM178.2 45.8h0.8v0.8h-0.8zM175.4 70.3h0.8v0.8h-0.8zM180.9 54.1h0.8v0.8h-0.8zM176.7 68.3h0.8v0.8h-0.8zM176.5 58.8h0.8v0.8h-0.8zM180.1 71.2h0.8v0.8h-0.8zM178.2 51.2h0.8v0.8h-0.8zM176.1 71.2h0.8v0.8h-0.8zM176.0 72.1h0.8v0.8h-0.8zM178.6 71.6h0.8v0.8h-0.8zM177.4 71.1h0.8v0.8h-0.8zM179.4 70.1h0.8v0.8h-0.8zM175.7 60.0h0.8v0.8h-0.8zM176.0 74.3h0.8v0.8h-0.8zM179.6 72.9h0.8v0.8h-0.8zM178.9 64.2h0.8v0.8h-0.8zM180.6 64.1h0.8v0.8h-0.8zM180.2 72.5h0.8v0.8h-0.8zM175.3 74.0h0.8v0.8h-0.8zM176.7 72.5h0.8v0.8h-0.8zM180.8 71.0h0.8v0.8h-0.8zM177.7 62.4h0.8v0.8h-0.8zM178.5 70.9h0.8v0.8h-0.8zM179.7 72.2h0.8v0.8h-0.8zM179.8 72.5h0.8v0.8h-0.8zM176.7 47.8h0.8v0.8h-0.8zM179.7 67.9h0.8v0.8h-0.8zM178.5 59.1h0.8v0.8h-0.8zM179.0 71.1h0.8v0.8h-0.8zM176.3 60.3h0.8v0.8h-0.8zM180.6 70.8h0.8v0.8h-0.8zM180.2 59.1h0.8v0.8h-0.8zM176.1 74.5h0.8v0.8h-0.8zM175.5 68.6h0.8v0.8h-0.8zM176.6 70.4h0.8v0.8h-0.8zM178.4 64.7h0.8v0.8h-0.8zM179.3 74.2h0.8v0.8h-0.8zM176.6 73.0h0.8v0.8h-0.8zM178.7 56.5h0.8v0.8h-0.8zM177.9 74.2h0.8v0.8h-0.8zM177.4 69.7h0.8v0.8h-0.8zM177.8 63.4h0.8v0.8h-0.8zM180.8 54.8h0.8v0.8h-0.8zM179.4 74.2h0.8v0.8h-0.8zM178.5 73.9h0.8v0.8h-0.8zM177.6 65.1h0.8v0.8h-0.8zM180.1 72.9h0.8v0.8h-0.8zM180.7 35.8h0.8v0.8h-0.8zM180.2 71.3h0.8v0.8h-0.8zM177.4 56.5h0.8v0.8h-0.8zM179.4 65.2h0.8v0.8h-0.8zM175.9 72.8h0.8v0.8h-0.8zM178.4 73.1h0.8v0.8h-0.8zM177.1 70.8h0.8v0.8h-0.8zM176.4 71.0h0.8v0.8h-0.8zM177.5 74.3h0.8v0.8h-0.8zM176.9 62.9h0.8v0.8h-0.8zM176.6 72.6h0.8v0.8h-0.8zM177.6 63.0h0.8v0.8h-0.8zM175.4 62.4h0.8v0.8h-0.8zM176.8 58.9h0.8v0.8h-0.8zM175.7 68.7h0.8v0.8h-0.8zM180.7 67.3h0.8v0.8h-0.8zM178.6 72.0h0.8v0.8h-0.8zM175.2 71.5h0.8v0.8h-0.8zM175.4 62.6h0.8v0.8h-0.8zM176.5 58.6h0.8v0.8h-0.8zM175.3 74.6h0.8v0.8h-0.8zM175.6 74.5h0.8v0.8h-0.8zM178.0 72.5h0.8v0.8h-0.8zM176.9 66.7h0.8v0.8h-0.8zM179.5 72.3h0.8v0.8h-0.8zM175.7 56.1h0.8v0.8h-0.8zM180.1 73.9h0.8v0.8h-0.8zM180.1 71.7h0.8v0.8h-0.8zM179.7 57.2h0.8v0.8h-0.8zM177.0 67.9h0.8v0.8h-0.8zM175.4 61.3h0.8v0.8h-0.8zM175.4 62.4h0.8v0.8h-0.8zM177.9 63.7h0.8v0.8h-0.8zM180.6 53.7h0.8v0.8h-0.8zM178.0 49.2h0.8v0.8h-0.8zM177.3 70.7h0.8v0.8h-0.8zM175.9 69.6h0.8v0.8h-0.8zM180.4 67.3h0.8v0.8h-0.8zM179.2 73.7h0.8v0.8h-0.8zM180.0 55.3h0.8v0.8h-0.8zM176.6 74.0h0.8v0.8h-0.8zM179.7 74.1h0.8v0.8h-0.8zM179.6 71.0h0.8v0.8h-0.8zM179.9 68.5h0.8v0.8h-0.8zM176.2 71.2h0.8v0.8h-0.8zM179.0 70.0h0.8v0.8h-0.8zM176.3 63.7h0.8v0.8h-0.8zM175.5 43.7h0.8v0.8h-0.8zM176.4 46.8h0.8v0.8h-0.8zM176.2 68.9h0.8v0.8h-0.8zM180.3 72.7h0.8v0.8h-0.8zM175.5 62.1h0.8v0.8h-0.8zM178.1 61.4h0.8v0.8h-0.8zM180.6 72.1h0.8v0.8h-0.8zM179.7 67.5h0.8v0.8h-0.8zM177.6 41.3h0.8v0.8h-0.8zM177.4 73.2h0.8v0.8h-0.8zM176.7 51.1h0.8v0.8h-0.8zM177.0 70.2h0.8v0.8h-0.8zM178.7 59.3h0.8v0.8h-0.8zM177.3 66.7h0.8v0.8h-0.8zM177.3 72.5h0.8v0.8h-0.8zM175.5 63.6h0.8v0.8h-0.8zM175.6 59.2h0.8v0.8h-0.8zM178.9 70.6h0.8v0.8h-0.8zM178.1 50.1h0.8v0.8h-0.8zM179.5 53.9h0.8v0.8h-0.8zM180.4 57.8h0.8v0.8h-0.8zM179.9 72.8h0.8v0.8h-0.8zM177.5 73.5h0.8v0.8h-0.8zM177.7 71.2h0.8v0.8h-0.8zM178.4 60.6h0.8v0.8h-0.8zM180.7 62.7h0.8v0.8h-0.8zM178.0 74.1h0.8v0.8h-0.8zM176.5 68.3h0.8v0.8h-0.8zM177.6 73.2h0.8v0.8h-0.8zM176.9 40.7h0.8v0.8h-0.8zM178.0 63.9h0.8v0.8h-0.8zM177.5 64.6h0.8v0.8h-0.8zM180.2 70.5h0.8v0.8h-0.8zM177.9 71.2h0.8v0.8h-0.8zM178.2 72.7h0.8v0.8h-0.8zM179.4 68.5h0.8v0.8h-0.8zM175.5 73.3h0.8v0.8h-0.8zM176.0 64.3h0.8v0.8h-0.8zM179.7 60.3h0.8v0.8h-0.8zM176.1 70.2h0.8v0.8h-0.8zM179.6 71.5h0.8v0.8h-0.8zM175.2 54.8h0.8v0.8h-0.8zM180.2 74.0h0.8v0.8h-0.8zM179.1 56.9h0.8v0.8h-0.8zM177.3 72.2h0.8v0.8h-0.8zM176.0 63.7h0.8v0.8h-0.8zM177.0 31.6h0.8v0.8h-0.8zM178.5 64.1h0.8v0.8h-0.8zM179.3 64.7h0.8v0.8h-0.8zM176.0 61.3h0.8v0.8h-0.8zM176.6 65.3h0.8v0.8h-0.8zM178.4 73.4h0.8v0.8h-0.8zM179.4 39.2h0.8v0.8h-0.8zM177.9 63.6h0.8v0.8h-0.8zM179.6 73.5h0.8v0.8h-0.8zM179.7 67.0h0.8v0.8h-0.8zM177.9 40.9h0.8v0.8h-0.8zM180.3 41.4h0.8v0.8h-0.8zM175.4 49.1h0.8v0.8h-0.8zM176.1 57.2h0.8v0.8h-0.8zM180.5 72.9h0.8v0.8h-0.8zM179.1 70.7h0.8v0.8h-0.8zM176.1 56.9h0.8v0.8h-0.8zM179.8 58.7h0.8v0.8h-0.8zM175.5 71.7h0.8v0.8h-0.8zM175.6 64.0h0.8v0.8h-0.8zM178.0 25.2h0.8v0.8h-0.8zM179.9 64.9h0.8v0.8h-0.8zM177.0 53.7h0.8v0.8h-0.8zM180.8 62.7h0.8v0.8h-0.8zM179.6 61.9h0.8v0.8h-0.8zM176.3 36.8h0.8v0.8h-0.8zM178.5 56.4h0.8v0.8h-0.8zM176.1 61.9h0.8v0.8h-0.8zM180.1 61.5h0.8v0.8h-0.8zM211.2 70.6h0.8v0.8h-0.8zM211.0 71.0h0.8v0.8h-0.8zM213.5 63.6h0.8v0.8h-0.8zM210.8 64.5h0.8v0.8h-0.8zM211.1 69.6h0.8v0.8h-0.8zM211.4 70.7h0.8v0.8h-0.8zM213.5 67.1h0.8v0.8h-0.8zM210.7 69.5h0.8v0.8h-0.8zM212.6 69.2h0.8v0.8h-0.8zM212.7 65.7h0.8v0.8h-0.8zM212.0 40.9h0.8v0.8h-0.8zM210.3 51.2h0.8v0.8h-0.8zM212.0 73.2h0.8v0.8h-0.8zM213.6 54.4h0.8v0.8h-0.8zM211.3 66.8h0.8v0.8h-0.8zM211.4 68.8h0.8v0.8h-0.8zM212.8 57.5h0.8v0.8h-0.8zM210.9 72.9h0.8v0.8h-0.8zM210.9 59.8h0.8v0.8h-0.8zM210.7 66.2h0.8v0.8h-0.8zM210.8 71.0h0.8v0.8h-0.8zM210.6 68.9h0.8v0.8h-0.8zM213.3 58.6h0.8v0.8h-0.8zM212.6 62.8h0.8v0.8h-0.8zM211.4 73.5h0.8v0.8h-0.8zM211.7 40.6h0.8v0.8h-0.8zM211.2 71.9h0.8v0.8h-0.8zM210.2 68.2h0.8v0.8h-0.8zM210.7 62.8h0.8v0.8h-0.8zM210.5 38.9h0.8v0.8h-0.8zM210.8 72.0h0.8v0.8h-0.8zM212.5 69.7h0.8v0.8h-0.8zM211.5 71.6h0.8v0.8h-0.8zM213.7 57.5h0.8v0.8h-0.8zM212.9 72.8h0.8v0.8h-0.8zM213.7 69.8h0.8v0.8h-0.8zM212.7 70.6h0.8v0.8h-0.8zM211.5 58.0h0.8v0.8h-0.8zM212.0 46.8h0.8v0.8h-0.8zM212.0 72.9h0.8v0.8h-0.8zM212.3 66.2h0.8v0.8h-0.8zM211.8 73.1h0.8v0.8h-0.8zM213.1 66.6h0.8v0.8h-0.8zM213.8 73.6h0.8v0.8h-0.8zM212.8 73.5h0.8v0.8h-0.8zM212.8 68.0h0.8v0.8h-0.8zM212.1 72.8h0.8v0.8h-0.8zM212.5 55.2h0.8v0.8h-0.8zM212.5 66.8h0.8v0.8h-0.8zM212.1 71.6h0.8v0.8h-0.8zM211.9 61.6h0.8v0.8h-0.8zM210.2 73.3h0.8v0.8h-0.8zM213.4 71.4h0.8v0.8h-0.8zM211.6 72.0h0.8v0.8h-0.8zM210.7 67.0h0.8v0.8h-0.8zM212.2 72.3h0.8v0.8h-0.8zM212.5 73.3h0.8v0.8h-0.8zM212.3 72.6h0.8v0.8h-0.8zM211.1 71.1h0.8v0.8h-0.8zM211.2 59.4h0.8v0.8h-0.8zM212.0 70.2h0.8v0.8h-0.8zM210.7 55.4h0.8v0.8h-0.8zM211.5 70.0h0.8v0.8h-0.8zM210.7 69.3h0.8v0.8h-0.8zM210.3 72.6h0.8v0.8h-0.8zM211.5 63.9h0.8v0.8h-0.8zM211.9 72.3h0.8v0.8h-0.8zM213.5 71.4h0.8v0.8h-0.8zM212.6 71.3h0.8v0.8h-0.8zM210.6 71.3h0.8v0.8h-0.8zM210.5 69.1h0.8v0.8h-0.8zM210.5 65.8h0.8v0.8h-0.8zM211.2 73.7h0.8v0.8h-0.8zM212.8 73.0h0.8v0.8h-0.8zM212.3 69.5h0.8v0.8h-0.8zM213.4 65.9h0.8v0.8h-0.8zM210.7 58.8h0.8v0.8h-0.8zM212.0 72.0h0.8v0.8h-0.8zM211.1 72.1h0.8v0.8h-0.8zM211.0 55.9h0.8v0.8h-0.8zM211.4 62.7h0.8v0.8h-0.8zM210.3 69.9h0.8v0.8h-0.8zM210.5 61.7h0.8v0.8h-0.8zM212.8 70.5h0.8v0.8h-0.8zM210.2 68.7h0.8v0.8h-0.8zM212.5 72.5h0.8v0.8h-0.8zM212.1 69.4h0.8v0.8h-0.8zM212.7 63.3h0.8v0.8h-0.8zM213.1 58.3h0.8v0.8h-0.8zM211.8 63.1h0.8v0.8h-0.8zM213.9 66.3h0.8v0.8h-0.8zM214.0 68.3h0.8v0.8h-0.8zM211.6 72.0h0.8v0.8h-0.8zM211.3 72.6h0.8v0.8h-0.8zM210.6 65.1h0.8v0.8h-0.8zM213.8 70.0h0.8v0.8h-0.8zM212.7 69.9h0.8v0.8h-0.8zM211.3 71.1h0.8v0.8h-0.8zM213.7 48.7h0.8v0.8h-0.8zM211.3 66.9h0.8v0.8h-0.8zM210.7 67.6h0.8v0.8h-0.8zM213.9 73.4h0.8v0.8h-0.8zM211.1 70.9h0.8v0.8h-0.8zM212.5 73.6h0.8v0.8h-0.8zM210.3 67.2h0.8v0.8h-0.8zM213.6 56.5h0.8v0.8h-0.8zM213.4 39.9h0.8v0.8h-0.8zM211.9 48.1h0.8v0.8h-0.8zM212.6 57.2h0.8v0.8h-0.8zM210.4 53.9h0.8v0.8h-0.8zM246.8 69.2h0.8v0.8h-0.8zM246.5 63.3h0.8v0.8h-0.8zM247.7 64.3h0.8v0.8h-0.8zM247.8 63.2h0.8v0.8h-0.8zM246.4 60.2h0.8v0.8h-0.8zM245.7 68.4h0.8v0.8h-0.8zM245.9 67.5h0.8v0.8h-0.8zM247.2 69.9h0.8v0.8h-0.8zM246.6 70.5h0.8v0.8h-0.8zM246.7 45.2h0.8v0.8h-0.8zM246.3 65.2h0.8v0.8h-0.8zM248.0 60.9h0.8v0.8h-0.8zM246.5 63.6h0.8v0.8h-0.8zM246.0 61.8h0.8v0.8h-0.8zM246.8 61.5h0.8v0.8h-0.8zM247.9 62.6h0.8v0.8h-0.8zM247.6 64.9h0.8v0.8h-0.8zM246.5 62.2h0.8v0.8h-0.8zM245.7 70.5h0.8v0.8h-0.8zM247.3 65.7h0.8v0.8h-0.8zM246.6 66.9h0.8v0.8h-0.8zM247.7 66.3h0.8v0.8h-0.8zM247.0 68.7h0.8v0.8h-0.8zM246.5 51.9h0.8v0.8h-0.8zM247.8 65.8h0.8v0.8h-0.8zM246.1 61.5h0.8v0.8h-0.8zM247.7 68.4h0.8v0.8h-0.8zM247.4 70.2h0.8v0.8h-0.8zM246.0 64.7h0.8v0.8h-0.8zM245.9 69.5h0.8v0.8h-0.8zM246.5 64.3h0.8v0.8h-0.8zM247.0 62.6h0.8v0.8h-0.8zM247.1 63.5h0.8v0.8h-0.8zM246.7 67.4h0.8v0.8h-0.8zM246.0 70.1h0.8v0.8h-0.8zM248.0 50.0h0.8v0.8h-0.8zM246.1 53.8h0.8v0.8h-0.8zM245.7 67.2h0.8v0.8h-0.8zM246.4 62.2h0.8v0.8h-0.8zM247.3 44.8h0.8v0.8h-0.8zM247.8 62.3h0.8v0.8h-0.8zM246.0 58.1h0.8v0.8h-0.8zM246.0 70.1h0.8v0.8h-0.8zM247.4 46.4h0.8v0.8h-0.8zM248.1 68.0h0.8v0.8h-0.8zM247.3 59.6h0.8v0.8h-0.8zM247.7 66.5h0.8v0.8h-0.8zM247.4 66.2h0.8v0.8h-0.8zM246.7 70.4h0.8v0.8h-0.8zM247.2 65.1h0.8v0.8h-0.8zM248.1 63.7h0.8v0.8h-0.8zM248.0 67.7h0.8v0.8h-0.8zM247.6 69.6h0.8v0.8h-0.8zM245.9 69.4h0.8v0.8h-0.8zM247.4 61.0h0.8v0.8h-0.8zM246.8 67.0h0.8v0.8h-0.8zM246.0 70.1h0.8v0.8h-0.8zM246.6 67.6h0.8v0.8h-0.8zM246.2 64.9h0.8v0.8h-0.8zM247.5 69.6h0.8v0.8h-0.8zM246.0 69.5h0.8v0.8h-0.8zM246.9 67.7h0.8v0.8h-0.8zM247.7 69.1h0.8v0.8h-0.8zM247.5 68.8h0.8v0.8h-0.8zM246.0 70.3h0.8v0.8h-0.8zM246.0 58.9h0.8v0.8h-0.8zM248.1 67.8h0.8v0.8h-0.8zM246.5 68.7h0.8v0.8h-0.8zM246.0 64.3h0.8v0.8h-0.8zM247.8 50.3h0.8v0.8h-0.8zM246.8 67.5h0.8v0.8h-0.8zM248.0 58.8h0.8v0.8h-0.8zM246.6 58.2h0.8v0.8h-0.8zM246.7 36.8h0.8v0.8h-0.8zM248.0 56.2h0.8v0.8h-0.8zM177.6 21.6h0.8v0.8h-0.8z"/>
<path fill="#f4b42a" d="M183.2 70.8h0.8v0.8h-0.8zM185.5 71.7h0.8v0.8h-0.8zM182.3 71.0h0.8v0.8h-0.8zM182.9 53.3h0.8v0.8h-0.8zM183.0 70.1h0.8v0.8h-0.8zM183.2 73.9h0.8v0.8h-0.8zM185.3 60.6h0.8v0.8h-0.8zM185.4 65.1h0.8v0.8h-0.8zM184.2 57.8h0.8v0.8h-0.8zM184.6 66.1h0.8v0.8h-0.8zM184.7 72.6h0.8v0.8h-0.8zM184.1 69.3h0.8v0.8h-0.8zM182.4 73.8h0.8v0.8h-0.8zM183.5 65.3h0.8v0.8h-0.8zM183.1 72.0h0.8v0.8h-0.8zM184.6 66.5h0.8v0.8h-0.8zM183.0 74.0h0.8v0.8h-0.8zM183.6 73.6h0.8v0.8h-0.8zM181.9 42.5h0.8v0.8h-0.8zM183.9 74.5h0.8v0.8h-0.8zM183.0 70.8h0.8v0.8h-0.8zM183.5 65.2h0.8v0.8h-0.8zM185.0 73.8h0.8v0.8h-0.8zM184.6 72.1h0.8v0.8h-0.8zM182.9 73.9h0.8v0.8h-0.8zM184.3 65.4h0.8v0.8h-0.8zM185.1 73.9h0.8v0.8h-0.8zM184.6 67.1h0.8v0.8h-0.8zM184.5 72.6h0.8v0.8h-0.8zM185.0 38.7h0.8v0.8h-0.8zM182.8 66.2h0.8v0.8h-0.8zM185.4 74.0h0.8v0.8h-0.8zM184.0 53.9h0.8v0.8h-0.8zM185.3 63.0h0.8v0.8h-0.8zM183.9 72.0h0.8v0.8h-0.8zM182.9 66.2h0.8v0.8h-0.8zM184.5 36.0h0.8v0.8h-0.8zM182.9 73.5h0.8v0.8h-0.8zM182.2 61.1h0.8v0.8h-0.8zM184.0 69.3h0.8v0.8h-0.8zM184.4 68.7h0.8v0.8h-0.8zM184.7 73.9h0.8v0.8h-0.8zM184.0 74.5h0.8v0.8h-0.8zM183.0 72.6h0.8v0.8h-0.8zM184.3 69.9h0.8v0.8h-0.8zM184.5 69.7h0.8v0.8h-0.8zM182.1 55.2h0.8v0.8h-0.8zM184.0 70.5h0.8v0.8h-0.8zM182.5 52.7h0.8v0.8h-0.8zM182.2 74.0h0.8v0.8h-0.8zM185.1 66.5h0.8v0.8h-0.8zM183.6 68.0h0.8v0.8h-0.8zM183.7 72.9h0.8v0.8h-0.8zM183.3 72.0h0.8v0.8h-0.8zM185.4 69.5h0.8v0.8h-0.8zM185.6 73.8h0.8v0.8h-0.8zM183.5 72.6h0.8v0.8h-0.8zM185.4 73.4h0.8v0.8h-0.8zM182.4 73.4h0.8v0.8h-0.8zM182.1 72.4h0.8v0.8h-0.8zM183.0 66.7h0.8v0.8h-0.8zM184.5 65.7h0.8v0.8h-0.8zM185.3 71.5h0.8v0.8h-0.8zM183.1 57.2h0.8v0.8h-0.8zM183.2 73.4h0.8v0.8h-0.8zM185.3 69.5h0.8v0.8h-0.8zM183.5 68.6h0.8v0.8h-0.8zM183.1 46.8h0.8v0.8h-0.8zM182.3 70.7h0.8v0.8h-0.8zM182.0 60.8h0.8v0.8h-0.8zM185.0 65.5h0.8v0.8h-0.8zM181.9 74.3h0.8v0.8h-0.8zM183.8 69.9h0.8v0.8h-0.8zM182.4 73.9h0.8v0.8h-0.8zM185.5 74.6h0.8v0.8h-0.8zM185.6 71.5h0.8v0.8h-0.8zM182.6 65.3h0.8v0.8h-0.8zM185.6 61.8h0.8v0.8h-0.8zM181.9 73.4h0.8v0.8h-0.8zM185.6 66.4h0.8v0.8h-0.8zM184.9 55.0h0.8v0.8h-0.8zM184.1 71.6h0.8v0.8h-0.8zM183.1 62.2h0.8v0.8h-0.8zM185.6 72.6h0.8v0.8h-0.8zM184.5 44.0h0.8v0.8h-0.8zM182.6 63.0h0.8v0.8h-0.8zM184.4 63.5h0.8v0.8h-0.8zM183.3 60.1h0.8v0.8h-0.8zM217.6 58.9h0.8v0.8h-0.8zM216.5 72.6h0.8v0.8h-0.8zM216.0 68.9h0.8v0.8h-0.8zM215.8 64.1h0.8v0.8h-0.8zM217.0 49.4h0.8v0.8h-0.8zM217.1 70.2h0.8v0.8h-0.8zM217.8 67.6h0.8v0.8h-0.8zM215.2 39.8h0.8v0.8h-0.8zM215.9 40.0h0.8v0.8h-0.8zM217.6 66.6h0.8v0.8h-0.8zM215.3 73.4h0.8v0.8h-0.8zM215.4 71.7h0.8v0.8h-0.8zM217.1 71.5h0.8v0.8h-0.8zM215.3 67.6h0.8v0.8h-0.8zM216.1 71.6h0.8v0.8h-0.8zM216.2 70.3h0.8v0.8h-0.8zM216.6 69.0h0.8v0.8h-0.8zM217.5 73.1h0.8v0.8h-0.8zM215.4 69.5h0.8v0.8h-0.8zM215.6 69.7h0.8v0.8h-0.8zM215.7 72.5h0.8v0.8h-0.8zM216.6 68.7h0.8v0.8h-0.8zM216.6 55.3h0.8v0.8h-0.8zM217.4 71.3h0.8v0.8h-0.8zM216.5 72.9h0.8v0.8h-0.8zM217.8 59.9h0.8v0.8h-0.8zM216.0 65.6h0.8v0.8h-0.8zM217.6 62.7h0.8v0.8h-0.8zM215.4 72.9h0.8v0.8h-0.8zM216.9 72.9h0.8v0.8h-0.8zM215.8 73.8h0.8v0.8h-0.8zM215.4 67.1h0.8v0.8h-0.8zM215.9 67.1h0.8v0.8h-0.8zM216.4 69.1h0.8v0.8h-0.8zM217.1 67.1h0.8v0.8h-0.8zM216.2 45.9h0.8v0.8h-0.8zM215.6 51.4h0.8v0.8h-0.8zM217.1 66.8h0.8v0.8h-0.8zM216.0 69.2h0.8v0.8h-0.8zM216.6 72.2h0.8v0.8h-0.8zM217.5 73.6h0.8v0.8h-0.8zM215.4 57.5h0.8v0.8h-0.8zM217.7 73.6h0.8v0.8h-0.8zM215.9 62.3h0.8v0.8h-0.8zM216.9 72.7h0.8v0.8h-0.8zM217.0 62.6h0.8v0.8h-0.8zM215.6 72.7h0.8v0.8h-0.8zM217.6 69.7h0.8v0.8h-0.8zM217.1 70.5h0.8v0.8h-0.8zM217.9 71.8h0.8v0.8h-0.8zM216.8 71.9h0.8v0.8h-0.8zM215.1 72.2h0.8v0.8h-0.8zM216.8 71.3h0.8v0.8h-0.8zM216.8 73.7h0.8v0.8h-0.8zM217.4 73.0h0.8v0.8h-0.8zM217.3 55.6h0.8v0.8h-0.8zM216.0 72.2h0.8v0.8h-0.8zM217.6 72.3h0.8v0.8h-0.8zM217.0 73.2h0.8v0.8h-0.8zM216.9 67.8h0.8v0.8h-0.8zM216.4 61.1h0.8v0.8h-0.8zM217.7 73.1h0.8v0.8h-0.8zM215.2 66.0h0.8v0.8h-0.8zM216.1 70.0h0.8v0.8h-0.8zM215.4 57.1h0.8v0.8h-0.8zM215.3 60.1h0.8v0.8h-0.8zM215.7 56.4h0.8v0.8h-0.8zM217.7 58.3h0.8v0.8h-0.8zM251.8 70.2h0.8v0.8h-0.8zM251.9 68.0h0.8v0.8h-0.8zM249.6 72.9h0.8v0.8h-0.8zM251.1 72.0h0.8v0.8h-0.8zM251.8 69.0h0.8v0.8h-0.8zM250.7 70.5h0.8v0.8h-0.8zM249.4 64.0h0.8v0.8h-0.8zM251.3 57.3h0.8v0.8h-0.8zM250.9 66.0h0.8v0.8h-0.8zM250.6 68.6h0.8v0.8h-0.8zM249.6 74.3h0.8v0.8h-0.8zM251.1 72.3h0.8v0.8h-0.8zM249.4 67.4h0.8v0.8h-0.8zM251.0 71.7h0.8v0.8h-0.8zM251.3 53.0h0.8v0.8h-0.8zM250.0 67.9h0.8v0.8h-0.8zM249.2 55.2h0.8v0.8h-0.8zM251.9 65.6h0.8v0.8h-0.8zM250.2 70.1h0.8v0.8h-0.8zM251.6 74.4h0.8v0.8h-0.8zM250.8 55.9h0.8v0.8h-0.8zM250.5 65.3h0.8v0.8h-0.8zM250.7 68.6h0.8v0.8h-0.8zM250.9 62.7h0.8v0.8h-0.8zM250.6 65.8h0.8v0.8h-0.8zM249.7 65.2h0.8v0.8h-0.8zM250.3 70.8h0.8v0.8h-0.8zM249.8 71.0h0.8v0.8h-0.8zM250.2 66.5h0.8v0.8h-0.8zM251.4 71.9h0.8v0.8h-0.8zM251.4 66.3h0.8v0.8h-0.8zM250.1 69.4h0.8v0.8h-0.8zM251.9 65.5h0.8v0.8h-0.8zM251.6 71.2h0.8v0.8h-0.8zM249.3 65.0h0.8v0.8h-0.8zM250.4 72.9h0.8v0.8h-0.8zM251.6 73.9h0.8v0.8h-0.8zM249.7 68.7h0.8v0.8h-0.8zM249.6 72.2h0.8v0.8h-0.8zM250.1 73.7h0.8v0.8h-0.8zM250.4 72.4h0.8v0.8h-0.8zM251.7 61.1h0.8v0.8h-0.8zM250.5 54.9h0.8v0.8h-0.8zM250.6 50.4h0.8v0.8h-0.8zM250.9 68.5h0.8v0.8h-0.8zM251.3 53.5h0.8v0.8h-0.8zM249.5 71.4h0.8v0.8h-0.8zM249.7 64.7h0.8v0.8h-0.8zM251.9 70.2h0.8v0.8h-0.8zM249.7 63.4h0.8v0.8h-0.8zM250.2 71.1h0.8v0.8h-0.8zM251.4 72.1h0.8v0.8h-0.8zM249.9 71.0h0.8v0.8h-0.8zM250.3 70.5h0.8v0.8h-0.8zM249.7 70.0h0.8v0.8h-0.8zM250.6 67.0h0.8v0.8h-0.8zM251.4 71.5h0.8v0.8h-0.8zM251.3 72.6h0.8v0.8h-0.8zM251.8 60.9h0.8v0.8h-0.8zM251.5 73.1h0.8v0.8h-0.8zM250.7 63.1h0.8v0.8h-0.8zM251.1 71.0h0.8v0.8h-0.8zM249.6 74.3h0.8v0.8h-0.8zM251.0 60.8h0.8v0.8h-0.8zM249.9 61.2h0.8v0.8h-0.8zM250.3 73.5h0.8v0.8h-0.8zM249.7 74.2h0.8v0.8h-0.8zM250.7 71.5h0.8v0.8h-0.8zM252.0 67.4h0.8v0.8h-0.8zM251.9 68.2h0.8v0.8h-0.8zM251.4 71.4h0.8v0.8h-0.8zM250.2 73.4h0.8v0.8h-0.8zM251.5 73.3h0.8v0.8h-0.8zM250.4 61.7h0.8v0.8h-0.8zM250.4 64.2h0.8v0.8h-0.8zM251.7 53.8h0.8v0.8h-0.8zM274.3 71.1h0.8v0.8h-0.8zM274.6 71.4h0.8v0.8h-0.8zM274.5 68.2h0.8v0.8h-0.8zM274.3 66.9h0.8v0.8h-0.8zM274.4 69.3h0.8v0.8h-0.8zM274.2 70.4h0.8v0.8h-0.8zM274.8 70.5h0.8v0.8h-0.8zM275.1 67.5h0.8v0.8h-0.8zM274.9 68.0h0.8v0.8h-0.8zM274.4 64.2h0.8v0.8h-0.8zM275.0 58.8h0.8v0.8h-0.8zM274.2 69.3h0.8v0.8h-0.8zM274.1 71.7h0.8v0.8h-0.8zM274.9 53.3h0.8v0.8h-0.8zM274.9 62.0h0.8v0.8h-0.8zM274.4 68.4h0.8v0.8h-0.8zM275.1 66.6h0.8v0.8h-0.8zM275.1 70.3h0.8v0.8h-0.8zM274.4 70.0h0.8v0.8h-0.8zM274.2 70.4h0.8v0.8h-0.8zM275.0 61.5h0.8v0.8h-0.8zM274.5 66.2h0.8v0.8h-0.8zM274.7 60.0h0.8v0.8h-0.8zM274.2 71.3h0.8v0.8h-0.8zM274.0 71.2h0.8v0.8h-0.8zM274.0 68.5h0.8v0.8h-0.8zM274.1 48.1h0.8v0.8h-0.8zM274.7 69.9h0.8v0.8h-0.8zM274.5 71.2h0.8v0.8h-0.8zM274.7 52.5h0.8v0.8h-0.8zM274.0 63.3h0.8v0.8h-0.8zM274.2 68.2h0.8v0.8h-0.8zM274.0 61.9h0.8v0.8h-0.8zM274.7 67.6h0.8v0.8h-0.8zM274.4 70.2h0.8v0.8h-0.8zM274.1 63.3h0.8v0.8h-0.8zM274.0 43.6h0.8v0.8h-0.8z"/>
<path fill="#a2a2a2" d="M190.6 51.8h0.8v0.8h-0.8zM186.9 69.7h0.8v0.8h-0.8zM188.2 56.8h0.8v0.8h-0.8zM188.6 65.5h0.8v0.8h-0.8zM189.2 69.0h0.8v0.8h-0.8zM189.6 70.8h0.8v0.8h-0.8zM189.2 63.1h0.8v0.8h-0.8zM189.8 60.8h0.8v0.8h-0.8zM188.4 60.4h0.8v0.8h-0.8zM189.9 49.3h0.8v0.8h-0.8zM190.3 49.2h0.8v0.8h-0.8zM189.2 73.3h0.8v0.8h-0.8zM186.8 72.1h0.8v0.8h-0.8zM190.0 73.0h0.8v0.8h-0.8zM187.5 63.4h0.8v0.8h-0.8zM188.3 73.3h0.8v0.8h-0.8zM190.9 50.9h0.8v0.8h-0.8zM186.6 54.1h0.8v0.8h-0.8zM190.7 73.6h0.8v0.8h-0.8zM188.7 65.8h0.8v0.8h-0.8zM191.1 72.8h0.8v0.8h-0.8zM186.8 57.7h0.8v0.8h-0.8zM188.7 60.6h0.8v0.8h-0.8zM189.3 68.7h0.8v0.8h-0.8zM189.9 68.6h0.8v0.8h-0.8zM191.0 73.6h0.8v0.8h-0.8zM189.4 71.3h0.8v0.8h-0.8zM189.4 68.5h0.8v0.8h-0.8zM187.7 59.0h0.8v0.8h-0.8zM188.9 71.6h0.8v0.8h-0.8zM190.6 63.3h0.8v0.8h-0.8zM190.6 68.1h0.8v0.8h-0.8zM189.1 71.8h0.8v0.8h-0.8zM189.6 50.0h0.8v0.8h-0.8zM190.2 72.9h0.8v0.8h-0.8zM186.9 69.9h0.8v0.8h-0.8zM188.7 73.1h0.8v0.8h-0.8zM186.9 56.4h0.8v0.8h-0.8zM190.9 72.4h0.8v0.8h-0.8zM191.0 72.2h0.8v0.8h-0.8zM188.3 44.5h0.8v0.8h-0.8zM188.4 52.5h0.8v0.8h-0.8zM189.1 64.3h0.8v0.8h-0.8zM190.2 62.2h0.8v0.8h-0.8zM187.1 65.8h0.8v0.8h-0.8zM190.8 64.6h0.8v0.8h-0.8zM187.2 44.5h0.8v0.8h-0.8zM189.5 66.7h0.8v0.8h-0.8zM189.4 72.1h0.8v0.8h-0.8zM190.7 70.6h0.8v0.8h-0.8zM190.4 71.2h0.8v0.8h-0.8zM188.2 71.2h0.8v0.8h-0.8zM190.7 70.5h0.8v0.8h-0.8zM187.2 35.3h0.8v0.8h-0.8zM187.4 35.1h0.8v0.8h-0.8zM189.4 57.0h0.8v0.8h-0.8zM189.9 50.2h0.8v0.8h-0.8zM188.4 65.1h0.8v0.8h-0.8zM190.5 69.9h0.8v0.8h-0.8zM189.9 59.8h0.8v0.8h-0.8zM189.2 70.3h0.8v0.8h-0.8zM187.2 54.5h0.8v0.8h-0.8zM189.5 73.2h0.8v0.8h-0.8zM189.0 71.3h0.8v0.8h-0.8zM188.6 65.8h0.8v0.8h-0.8zM186.7 67.3h0.8v0.8h-0.8zM188.4 71.9h0.8v0.8h-0.8zM187.0 46.5h0.8v0.8h-0.8zM188.4 69.6h0.8v0.8h-0.8zM190.0 74.1h0.8v0.8h-0.8zM190.9 72.2h0.8v0.8h-0.8zM186.8 61.3h0.8v0.8h-0.8zM190.4 70.1h0.8v0.8h-0.8zM186.7 61.8h0.8v0.8h-0.8zM187.2 73.9h0.8v0.8h-0.8zM189.7 42.3h0.8v0.8h-0.8zM187.0 71.3h0.8v0.8h-0.8zM189.8 72.5h0.8v0.8h-0.8zM189.0 71.5h0.8v0.8h-0.8zM186.9 68.0h0.8v0.8h-0.8zM188.0 73.3h0.8v0.8h-0.8zM189.4 65.4h0.8v0.8h-0.8zM187.0 72.1h0.8v0.8h-0.8zM186.7 49.0h0.8v0.8h-0.8zM188.7 48.0h0.8v0.8h-0.8zM190.6 71.1h0.8v0.8h-0.8zM187.2 70.1h0.8v0.8h-0.8zM190.2 70.1h0.8v0.8h-0.8zM189.3 58.6h0.8v0.8h-0.8zM189.6 62.2h0.8v0.8h-0.8zM189.5 64.5h0.8v0.8h-0.8zM187.4 60.2h0.8v0.8h-0.8zM187.4 72.3h0.8v0.8h-0.8zM190.4 66.0h0.8v0.8h-0.8zM186.7 72.6h0.8v0.8h-0.8zM188.0 73.1h0.8v0.8h-0.8zM190.9 70.5h0.8v0.8h-0.8zM187.1 43.0h0.8v0.8h-0.8zM189.5 72.2h0.8v0.8h-0.8zM186.6 59.1h0.8v0.8h-0.8zM190.9 71.1h0.8v0.8h-0.8zM190.3 73.6h0.8v0.8h-0.8zM190.7 72.5h0.8v0.8h-0.8zM188.3 73.4h0.8v0.8h-0.8zM187.8 73.9h0.8v0.8h-0.8zM190.9 73.2h0.8v0.8h-0.8zM191.1 73.0h0.8v0.8h-0.8zM187.6 73.5h0.8v0.8h-0.8zM190.9 66.0h0.8v0.8h-0.8zM189.8 62.9h0.8v0.8h-0.8zM189.8 71.9h0.8v0.8h-0.8zM190.3 71.2h0.8v0.8h-0.8zM190.5 73.2h0.8v0.8h-0.8zM186.8 73.1h0.8v0.8h-0.8zM187.4 61.9h0.8v0.8h-0.8zM187.8 73.9h0.8v0.8h-0.8zM189.1 64.8h0.8v0.8h-0.8zM187.6 64.6h0.8v0.8h-0.8zM188.4 74.1h0.8v0.8h-0.8zM188.1 61.9h0.8v0.8h-0.8zM187.8 69.7h0.8v0.8h-0.8zM188.7 61.7h0.8v0.8h-0.8zM187.4 56.2h0.8v0.8h-0.8zM186.9 63.4h0.8v0.8h-0.8zM187.0 66.0h0.8v0.8h-0.8zM187.8 67.9h0.8v0.8h-0.8zM190.4 61.8h0.8v0.8h-0.8zM190.3 71.6h0.8v0.8h-0.8zM188.6 70.8h0.8v0.8h-0.8zM188.5 52.8h0.8v0.8h-0.8zM187.3 67.1h0.8v0.8h-0.8zM186.8 57.2h0.8v0.8h-0.8zM187.6 56.3h0.8v0.8h-0.8zM189.4 59.0h0.8v0.8h-0.8zM187.5 62.8h0.8v0.8h-0.8zM189.3 72.4h0.8v0.8h-0.8zM188.9 65.0h0.8v0.8h-0.8zM190.3 72.7h0.8v0.8h-0.8zM189.3 68.4h0.8v0.8h-0.8zM190.1 68.9h0.8v0.8h-0.8zM187.3 51.5h0.8v0.8h-0.8zM190.9 70.1h0.8v0.8h-0.8zM190.3 68.0h0.8v0.8h-0.8zM187.0 68.5h0.8v0.8h-0.8zM189.9 63.7h0.8v0.8h-0.8zM190.6 70.4h0.8v0.8h-0.8zM188.9 69.5h0.8v0.8h-0.8zM190.2 69.7h0.8v0.8h-0.8zM187.0 59.4h0.8v0.8h-0.8zM188.8 71.4h0.8v0.8h-0.8zM190.2 64.2h0.8v0.8h-0.8zM191.0 59.8h0.8v0.8h-0.8zM190.6 73.5h0.8v0.8h-0.8zM186.8 62.3h0.8v0.8h-0.8zM188.5 62.2h0.8v0.8h-0.8zM188.5 68.1h0.8v0.8h-0.8zM186.8 72.9h0.8v0.8h-0.8zM189.0 58.8h0.8v0.8h-0.8zM188.0 67.2h0.8v0.8h-0.8zM186.9 63.8h0.8v0.8h-0.8zM190.7 66.8h0.8v0.8h-0.8zM187.8 71.8h0.8v0.8h-0.8zM189.7 61.2h0.8v0.8h-0.8zM188.3 48.4h0.8v0.8h-0.8zM190.2 61.8h0.8v0.8h-0.8zM186.8 45.1h0.8v0.8h-0.8zM188.0 56.4h0.8v0.8h-0.8zM187.3 53.3h0.8v0.8h-0.8zM187.1 53.6h0.8v0.8h-0.8zM190.6 56.9h0.8v0.8h-0.8zM220.5 69.7h0.8v0.8h-0.8zM219.6 73.0h0.8v0.8h-0.8zM219.0 67.5h0.8v0.8h-0.8zM220.1 59.6h0.8v0.8h-0.8zM220.4 71.8h0.8v0.8h-0.8zM220.3 65.3h0.8v0.8h-0.8zM219.5 73.1h0.8v0.8h-0.8zM219.5 69.8h0.8v0.8h-0.8zM219.8 64.3h0.8v0.8h-0.8zM218.8 62.1h0.8v0.8h-0.8zM218.8 64.5h0.8v0.8h-0.8zM219.0 66.5h0.8v0.8h-0.8zM219.4 71.9h0.8v0.8h-0.8zM219.6 71.8h0.8v0.8h-0.8zM220.0 68.6h0.8v0.8h-0.8zM220.3 66.6h0.8v0.8h-0.8zM218.7 59.3h0.8v0.8h-0.8zM219.1 53.9h0.8v0.8h-0.8zM220.3 68.7h0.8v0.8h-0.8zM220.5 66.3h0.8v0.8h-0.8zM219.8 72.9h0.8v0.8h-0.8zM220.3 68.0h0.8v0.8h-0.8zM218.6 67.5h0.8v0.8h-0.8zM218.7 66.8h0.8v0.8h-0.8zM220.0 72.7h0.8v0.8h-0.8zM220.1 65.1h0.8v0.8h-0.8zM219.8 72.2h0.8v0.8h-0.8zM220.4 66.8h0.8v0.8h-0.8zM220.0 68.8h0.8v0.8h-0.8zM219.6 72.1h0.8v0.8h-0.8zM218.5 68.4h0.8v0.8h-0.8zM220.5 58.0h0.8v0.8h-0.8zM218.5 72.2h0.8v0.8h-0.8zM218.8 50.1h0.8v0.8h-0.8zM218.9 71.3h0.8v0.8h-0.8zM219.9 55.6h0.8v0.8h-0.8zM219.8 67.5h0.8v0.8h-0.8zM219.6 58.6h0.8v0.8h-0.8zM219.0 62.8h0.8v0.8h-0.8zM218.6 66.4h0.8v0.8h-0.8zM218.9 71.8h0.8v0.8h-0.8zM218.7 68.6h0.8v0.8h-0.8zM218.8 72.5h0.8v0.8h-0.8zM220.2 62.2h0.8v0.8h-0.8zM220.2 70.1h0.8v0.8h-0.8zM218.9 56.6h0.8v0.8h-0.8zM220.2 71.8h0.8v0.8h-0.8zM220.4 70.0h0.8v0.8h-0.8zM220.0 66.8h0.8v0.8h-0.8zM219.7 54.2h0.8v0.8h-0.8zM219.8 66.4h0.8v0.8h-0.8zM219.4 69.2h0.8v0.8h-0.8zM219.2 71.6h0.8v0.8h-0.8zM218.6 64.5h0.8v0.8h-0.8zM219.5 70.0h0.8v0.8h-0.8zM219.8 69.9h0.8v0.8h-0.8zM220.0 67.6h0.8v0.8h-0.8zM219.2 71.6h0.8v0.8h-0.8zM218.9 59.6h0.8v0.8h-0.8zM219.8 56.1h0.8v0.8h-0.8zM218.7 58.2h0.8v0.8h-0.8zM219.2 71.3h0.8v0.8h-0.8zM218.6 54.0h0.8v0.8h-0.8zM219.4 59.0h0.8v0.8h-0.8zM256.3 43.7h0.8v0.8h-0.8zM254.0 65.8h0.8v0.8h-0.8zM255.2 70.4h0.8v0.8h-0.8zM256.2 74.2h0.8v0.8h-0.8zM254.2 54.0h0.8v0.8h-0.8zM256.6 46.1h0.8v0.8h-0.8zM257.1 58.0h0.8v0.8h-0.8zM253.2 69.5h0.8v0.8h-0.8zM254.8 72.1h0.8v0.8h-0.8zM255.2 69.9h0.8v0.8h-0.8zM255.2 68.1h0.8v0.8h-0.8zM253.2 73.0h0.8v0.8h-0.8zM255.0 44.4h0.8v0.8h-0.8zM254.1 61.5h0.8v0.8h-0.8zM257.0 49.7h0.8v0.8h-0.8zM253.8 52.6h0.8v0.8h-0.8zM255.6 57.9h0.8v0.8h-0.8zM253.5 70.3h0.8v0.8h-0.8zM253.5 73.5h0.8v0.8h-0.8zM254.9 57.5h0.8v0.8h-0.8zM257.4 72.8h0.8v0.8h-0.8zM255.0 66.2h0.8v0.8h-0.8zM256.0 63.7h0.8v0.8h-0.8zM255.2 53.7h0.8v0.8h-0.8zM255.4 69.7h0.8v0.8h-0.8zM254.3 61.2h0.8v0.8h-0.8zM257.0 57.1h0.8v0.8h-0.8zM253.5 60.5h0.8v0.8h-0.8zM255.4 67.0h0.8v0.8h-0.8zM255.7 72.1h0.8v0.8h-0.8zM257.2 73.3h0.8v0.8h-0.8zM255.1 70.6h0.8v0.8h-0.8zM256.4 53.7h0.8v0.8h-0.8zM255.5 62.4h0.8v0.8h-0.8zM257.0 58.3h0.8v0.8h-0.8zM253.2 73.4h0.8v0.8h-0.8zM255.7 55.1h0.8v0.8h-0.8zM255.9 55.7h0.8v0.8h-0.8zM255.0 47.9h0.8v0.8h-0.8zM253.4 70.1h0.8v0.8h-0.8zM254.7 71.6h0.8v0.8h-0.8zM254.1 61.1h0.8v0.8h-0.8zM254.0 62.7h0.8v0.8h-0.8zM253.8 58.9h0.8v0.8h-0.8zM257.0 60.8h0.8v0.8h-0.8zM254.5 39.6h0.8v0.8h-0.8zM254.5 68.5h0.8v0.8h-0.8zM254.2 72.0h0.8v0.8h-0.8zM253.6 71.0h0.8v0.8h-0.8zM254.3 32.4h0.8v0.8h-0.8zM257.1 62.3h0.8v0.8h-0.8zM254.9 69.2h0.8v0.8h-0.8zM254.0 68.6h0.8v0.8h-0.8zM253.8 57.5h0.8v0.8h-0.8zM253.8 71.3h0.8v0.8h-0.8zM257.2 29.3h0.8v0.8h-0.8zM253.8 59.9h0.8v0.8h-0.8zM253.4 72.5h0.8v0.8h-0.8zM253.3 73.0h0.8v0.8h-0.8zM256.5 67.9h0.8v0.8h-0.8zM254.9 66.1h0.8v0.8h-0.8zM253.6 71.6h0.8v0.8h-0.8zM254.8 66.6h0.8v0.8h-0.8zM256.3 72.3h0.8v0.8h-0.8zM256.6 40.3h0.8v0.8h-0.8zM255.3 48.7h0.8v0.8h-0.8zM256.4 68.2h0.8v0.8h-0.8zM256.7 52.0h0.8v0.8h-0.8zM253.1 64.9h0.8v0.8h-0.8zM253.4 68.7h0.8v0.8h-0.8zM254.0 64.9h0.8v0.8h-0.8zM255.2 67.8h0.8v0.8h-0.8zM254.5 67.8h0.8v0.8h-0.8zM253.6 71.3h0.8v0.8h-0.8zM257.4 70.4h0.8v0.8h-0.8zM254.7 38.0h0.8v0.8h-0.8zM253.9 66.5h0.8v0.8h-0.8zM254.3 60.5h0.8v0.8h-0.8zM256.4 70.8h0.8v0.8h-0.8zM253.8 73.1h0.8v0.8h-0.8zM257.3 67.6h0.8v0.8h-0.8zM256.7 72.9h0.8v0.8h-0.8zM256.0 64.9h0.8v0.8h-0.8zM254.9 65.4h0.8v0.8h-0.8zM255.3 48.4h0.8v0.8h-0.8zM254.3 71.7h0.8v0.8h-0.8zM257.4 69.0h0.8v0.8h-0.8zM253.3 50.7h0.8v0.8h-0.8zM257.3 70.9h0.8v0.8h-0.8zM256.7 29.4h0.8v0.8h-0.8zM256.2 47.5h0.8v0.8h-0.8zM253.9 65.2h0.8v0.8h-0.8zM253.4 56.4h0.8v0.8h-0.8zM254.0 60.1h0.8v0.8h-0.8zM254.7 74.2h0.8v0.8h-0.8zM257.2 45.8h0.8v0.8h-0.8zM253.9 74.1h0.8v0.8h-0.8zM256.5 72.6h0.8v0.8h-0.8zM253.2 66.9h0.8v0.8h-0.8zM256.2 66.9h0.8v0.8h-0.8zM253.4 55.5h0.8v0.8h-0.8zM254.3 47.5h0.8v0.8h-0.8zM253.1 70.9h0.8v0.8h-0.8zM255.9 52.0h0.8v0.8h-0.8zM255.8 66.5h0.8v0.8h-0.8zM256.7 60.6h0.8v0.8h-0.8zM254.4 52.0h0.8v0.8h-0.8zM255.9 74.3h0.8v0.8h-0.8zM255.0 43.9h0.8v0.8h-0.8zM256.5 71.9h0.8v0.8h-0.8zM254.8 67.4h0.8v0.8h-0.8zM254.1 69.0h0.8v0.8h-0.8zM254.5 51.7h0.8v0.8h-0.8zM257.1 73.6h0.8v0.8h-0.8zM256.3 69.0h0.8v0.8h-0.8zM254.9 58.4h0.8v0.8h-0.8zM254.3 61.7h0.8v0.8h-0.8zM253.2 72.3h0.8v0.8h-0.8zM255.2 63.5h0.8v0.8h-0.8zM254.7 56.3h0.8v0.8h-0.8zM254.3 68.3h0.8v0.8h-0.8zM255.3 70.8h0.8v0.8h-0.8zM257.3 67.8h0.8v0.8h-0.8zM253.6 50.7h0.8v0.8h-0.8zM256.3 67.4h0.8v0.8h-0.8zM253.4 71.5h0.8v0.8h-0.8zM255.4 74.0h0.8v0.8h-0.8zM255.8 61.3h0.8v0.8h-0.8zM256.9 31.0h0.8v0.8h-0.8zM253.3 71.5h0.8v0.8h-0.8zM254.8 49.2h0.8v0.8h-0.8zM256.4 57.1h0.8v0.8h-0.8zM253.9 69.2h0.8v0.8h-0.8zM254.5 68.0h0.8v0.8h-0.8zM257.2 63.3h0.8v0.8h-0.8zM255.1 69.9h0.8v0.8h-0.8zM254.0 73.5h0.8v0.8h-0.8zM254.2 67.2h0.8v0.8h-0.8zM254.0 72.5h0.8v0.8h-0.8zM256.0 68.0h0.8v0.8h-0.8zM254.7 74.2h0.8v0.8h-0.8zM257.3 55.2h0.8v0.8h-0.8zM256.9 71.0h0.8v0.8h-0.8zM256.7 51.8h0.8v0.8h-0.8zM253.7 64.2h0.8v0.8h-0.8zM255.5 73.8h0.8v0.8h-0.8zM255.7 70.6h0.8v0.8h-0.8zM253.8 74.0h0.8v0.8h-0.8zM255.9 53.5h0.8v0.8h-0.8zM255.9 44.1h0.8v0.8h-0.8zM254.8 71.9h0.8v0.8h-0.8zM255.4 70.0h0.8v0.8h-0.8zM255.9 74.0h0.8v0.8h-0.8zM255.8 49.5h0.8v0.8h-0.8zM257.1 72.0h0.8v0.8h-0.8zM253.4 69.5h0.8v0.8h-0.8zM254.7 60.3h0.8v0.8h-0.8zM254.5 66.3h0.8v0.8h-0.8zM255.8 49.6h0.8v0.8h-0.8zM255.2 65.5h0.8v0.8h-0.8zM256.2 60.1h0.8v0.8h-0.8zM256.5 66.7h0.8v0.8h-0.8zM255.2 49.5h0.8v0.8h-0.8zM253.5 72.9h0.8v0.8h-0.8zM254.1 62.1h0.8v0.8h-0.8zM256.3 69.7h0.8v0.8h-0.8zM254.4 55.3h0.8v0.8h-0.8zM253.5 70.8h0.8v0.8h-0.8zM254.4 68.9h0.8v0.8h-0.8zM253.7 68.0h0.8v0.8h-0.8zM257.2 57.4h0.8v0.8h-0.8zM256.9 70.5h0.8v0.8h-0.8zM256.9 51.3h0.8v0.8h-0.8zM256.5 32.8h0.8v0.8h-0.8zM253.1 57.7h0.8v0.8h-0.8zM254.8 64.4h0.8v0.8h-0.8zM254.1 53.6h0.8v0.8h-0.8zM257.1 66.8h0.8v0.8h-0.8zM257.1 70.3h0.8v0.8h-0.8zM256.9 64.3h0.8v0.8h-0.8zM255.5 72.2h0.8v0.8h-0.8zM253.1 72.6h0.8v0.8h-0.8zM256.8 72.3h0.8v0.8h-0.8zM253.4 55.1h0.8v0.8h-0.8zM253.5 57.4h0.8v0.8h-0.8zM254.9 70.1h0.8v0.8h-0.8zM253.6 69.2h0.8v0.8h-0.8zM253.6 71.8h0.8v0.8h-0.8zM256.2 70.4h0.8v0.8h-0.8zM253.1 70.4h0.8v0.8h-0.8zM256.8 71.0h0.8v0.8h-0.8zM253.4 62.5h0.8v0.8h-0.8zM257.4 47.1h0.8v0.8h-0.8zM253.6 62.8h0.8v0.8h-0.8zM256.5 61.4h0.8v0.8h-0.8zM255.2 61.0h0.8v0.8h-0.8zM253.7 61.5h0.8v0.8h-0.8zM257.4 52.5h0.8v0.8h-0.8zM256.5 55.4h0.8v0.8h-0.8zM256.1 64.4h0.8v0.8h-0.8zM255.8 10.0h0.8v0.8h-0.8zM190.6 26.1h0.8v0.8h-0.8z"/>
<path fill="#151515" d="M193.8 74.4h0.8v0.8h-0.8zM192.9 58.1h0.8v0.8h-0.8zM192.8 69.2h0.8v0.8h-0.8zM193.9 68.6h0.8v0.8h-0.8zM194.4 70.7h0.8v0.8h-0.8zM192.3 75.7h0.8v0.8h-0.8zM194.1 64.9h0.8v0.8h-0.8zM194.0 74.5h0.8v0.8h-0.8zM193.0 42.7h0.8v0.8h-0.8zM193.8 64.7h0.8v0.8h-0.8zM194.0 31.8h0.8v0.8h-0.8zM194.5 58.8h0.8v0.8h-0.8zM192.8 71.2h0.8v0.8h-0.8zM193.1 72.1h0.8v0.8h-0.8zM193.9 68.2h0.8v0.8h-0.8zM192.1 51.1h0.8v0.8h-0.8zM192.2 69.6h0.8v0.8h-0.8zM192.7 38.7h0.8v0.8h-0.8zM193.5 63.5h0.8v0.8h-0.8zM193.9 67.3h0.8v0.8h-0.8zM193.4 73.1h0.8v0.8h-0.8zM193.5 68.7h0.8v0.8h-0.8zM193.0 75.8h0.8v0.8h-0.8zM193.1 68.7h0.8v0.8h-0.8zM193.4 70.8h0.8v0.8h-0.8zM194.5 66.1h0.8v0.8h-0.8zM192.1 27.9h0.8v0.8h-0.8zM192.2 75.7h0.8v0.8h-0.8zM194.1 75.8h0.8v0.8h-0.8zM193.8 72.9h0.8v0.8h-0.8zM192.7 72.8h0.8v0.8h-0.8zM192.5 74.9h0.8v0.8h-0.8zM193.0 70.9h0.8v0.8h-0.8zM192.4 75.0h0.8v0.8h-0.8zM192.4 67.7h0.8v0.8h-0.8zM194.4 66.5h0.8v0.8h-0.8zM192.5 69.2h0.8v0.8h-0.8zM194.5 71.6h0.8v0.8h-0.8zM194.3 74.4h0.8v0.8h-0.8zM193.2 63.0h0.8v0.8h-0.8zM193.9 56.9h0.8v0.8h-0.8zM193.3 66.8h0.8v0.8h-0.8zM194.3 57.0h0.8v0.8h-0.8zM192.9 75.1h0.8v0.8h-0.8zM194.0 73.6h0.8v0.8h-0.8zM193.3 65.9h0.8v0.8h-0.8zM192.1 66.9h0.8v0.8h-0.8zM194.4 53.7h0.8v0.8h-0.8zM194.5 68.7h0.8v0.8h-0.8zM192.9 74.3h0.8v0.8h-0.8zM193.6 66.1h0.8v0.8h-0.8zM194.3 54.2h0.8v0.8h-0.8zM192.6 74.8h0.8v0.8h-0.8zM193.8 57.7h0.8v0.8h-0.8zM194.2 62.7h0.8v0.8h-0.8zM194.3 68.0h0.8v0.8h-0.8zM194.0 59.2h0.8v0.8h-0.8zM194.0 69.0h0.8v0.8h-0.8zM193.5 74.6h0.8v0.8h-0.8zM193.0 74.7h0.8v0.8h-0.8zM192.3 39.3h0.8v0.8h-0.8zM193.7 74.1h0.8v0.8h-0.8zM192.8 63.5h0.8v0.8h-0.8zM192.9 66.9h0.8v0.8h-0.8zM193.2 70.7h0.8v0.8h-0.8zM192.5 72.6h0.8v0.8h-0.8zM194.0 56.7h0.8v0.8h-0.8zM194.4 66.6h0.8v0.8h-0.8zM194.3 56.5h0.8v0.8h-0.8zM194.4 74.0h0.8v0.8h-0.8zM194.1 71.2h0.8v0.8h-0.8zM193.1 71.0h0.8v0.8h-0.8zM193.2 58.7h0.8v0.8h-0.8zM194.0 68.4h0.8v0.8h-0.8zM192.5 57.4h0.8v0.8h-0.8zM193.0 74.4h0.8v0.8h-0.8zM194.3 66.4h0.8v0.8h-0.8zM192.1 62.6h0.8v0.8h-0.8zM192.7 65.1h0.8v0.8h-0.8zM194.6 69.0h0.8v0.8h-0.8zM192.3 74.6h0.8v0.8h-0.8zM193.3 74.9h0.8v0.8h-0.8zM192.2 71.5h0.8v0.8h-0.8zM192.1 58.5h0.8v0.8h-0.8zM192.1 36.6h0.8v0.8h-0.8zM194.0 72.4h0.8v0.8h-0.8zM192.6 67.5h0.8v0.8h-0.8zM192.2 72.9h0.8v0.8h-0.8zM193.9 49.1h0.8v0.8h-0.8zM193.1 72.7h0.8v0.8h-0.8zM192.3 74.9h0.8v0.8h-0.8zM192.6 59.3h0.8v0.8h-0.8zM194.6 54.9h0.8v0.8h-0.8zM194.3 36.5h0.8v0.8h-0.8zM192.5 58.8h0.8v0.8h-0.8zM194.1 60.8h0.8v0.8h-0.8zM224.5 73.0h0.8v0.8h-0.8zM222.8 71.2h0.8v0.8h-0.8zM222.3 70.0h0.8v0.8h-0.8zM224.3 49.7h0.8v0.8h-0.8zM224.3 61.1h0.8v0.8h-0.8zM222.4 73.6h0.8v0.8h-0.8zM223.9 69.2h0.8v0.8h-0.8zM224.1 70.4h0.8v0.8h-0.8zM224.6 71.8h0.8v0.8h-0.8zM222.1 65.2h0.8v0.8h-0.8zM223.7 54.2h0.8v0.8h-0.8zM224.4 60.8h0.8v0.8h-0.8zM223.5 67.8h0.8v0.8h-0.8zM223.6 62.6h0.8v0.8h-0.8zM221.5 71.4h0.8v0.8h-0.8zM224.0 74.9h0.8v0.8h-0.8zM222.0 58.3h0.8v0.8h-0.8zM222.1 73.2h0.8v0.8h-0.8zM222.5 70.6h0.8v0.8h-0.8zM221.6 68.5h0.8v0.8h-0.8zM223.5 51.8h0.8v0.8h-0.8zM221.6 67.9h0.8v0.8h-0.8zM221.5 74.3h0.8v0.8h-0.8zM221.5 59.5h0.8v0.8h-0.8zM224.1 71.4h0.8v0.8h-0.8zM223.7 74.1h0.8v0.8h-0.8zM222.1 71.4h0.8v0.8h-0.8zM222.4 56.4h0.8v0.8h-0.8zM224.2 73.8h0.8v0.8h-0.8zM224.1 66.9h0.8v0.8h-0.8zM224.6 70.2h0.8v0.8h-0.8zM224.3 50.6h0.8v0.8h-0.8zM222.0 69.7h0.8v0.8h-0.8zM223.6 70.0h0.8v0.8h-0.8zM224.7 74.9h0.8v0.8h-0.8zM222.8 68.8h0.8v0.8h-0.8zM222.6 67.4h0.8v0.8h-0.8zM221.3 72.1h0.8v0.8h-0.8zM221.6 70.3h0.8v0.8h-0.8zM221.8 61.9h0.8v0.8h-0.8zM221.9 71.8h0.8v0.8h-0.8zM223.1 65.7h0.8v0.8h-0.8zM223.8 68.8h0.8v0.8h-0.8zM221.4 71.0h0.8v0.8h-0.8zM222.5 72.3h0.8v0.8h-0.8zM223.3 68.0h0.8v0.8h-0.8zM224.1 49.9h0.8v0.8h-0.8zM223.1 52.8h0.8v0.8h-0.8zM222.4 69.2h0.8v0.8h-0.8zM224.0 72.1h0.8v0.8h-0.8zM224.3 71.3h0.8v0.8h-0.8zM224.0 72.9h0.8v0.8h-0.8zM223.5 70.0h0.8v0.8h-0.8zM224.0 74.3h0.8v0.8h-0.8zM224.3 70.8h0.8v0.8h-0.8zM222.8 62.2h0.8v0.8h-0.8zM222.2 68.7h0.8v0.8h-0.8zM221.4 72.5h0.8v0.8h-0.8zM223.4 73.3h0.8v0.8h-0.8zM223.1 58.4h0.8v0.8h-0.8zM222.3 74.3h0.8v0.8h-0.8zM222.3 69.9h0.8v0.8h-0.8zM222.8 71.4h0.8v0.8h-0.8zM223.8 53.5h0.8v0.8h-0.8zM222.3 46.5h0.8v0.8h-0.8zM223.0 41.9h0.8v0.8h-0.8zM222.2 62.6h0.8v0.8h-0.8zM222.3 60.5h0.8v0.8h-0.8zM224.4 72.1h0.8v0.8h-0.8zM223.4 74.7h0.8v0.8h-0.8zM224.0 73.8h0.8v0.8h-0.8zM221.6 55.7h0.8v0.8h-0.8zM223.8 70.2h0.8v0.8h-0.8zM224.2 74.1h0.8v0.8h-0.8zM222.6 73.5h0.8v0.8h-0.8zM223.2 35.7h0.8v0.8h-0.8zM224.0 73.4h0.8v0.8h-0.8zM221.5 69.8h0.8v0.8h-0.8zM223.7 69.2h0.8v0.8h-0.8zM222.2 71.5h0.8v0.8h-0.8zM223.2 70.9h0.8v0.8h-0.8zM224.6 70.1h0.8v0.8h-0.8zM221.7 55.6h0.8v0.8h-0.8zM222.6 73.9h0.8v0.8h-0.8zM222.8 61.3h0.8v0.8h-0.8zM224.1 63.4h0.8v0.8h-0.8zM222.2 74.7h0.8v0.8h-0.8zM221.7 69.8h0.8v0.8h-0.8zM222.6 60.1h0.8v0.8h-0.8zM222.8 72.8h0.8v0.8h-0.8zM224.7 71.1h0.8v0.8h-0.8zM224.1 71.9h0.8v0.8h-0.8zM223.2 66.6h0.8v0.8h-0.8zM224.7 74.2h0.8v0.8h-0.8zM223.3 70.1h0.8v0.8h-0.8zM222.3 73.0h0.8v0.8h-0.8zM222.1 74.1h0.8v0.8h-0.8zM222.4 62.2h0.8v0.8h-0.8zM222.1 64.0h0.8v0.8h-0.8zM222.0 61.8h0.8v0.8h-0.8zM224.6 57.1h0.8v0.8h-0.8zM224.5 73.7h0.8v0.8h-0.8zM222.4 68.3h0.8v0.8h-0.8zM224.2 74.4h0.8v0.8h-0.8zM222.3 65.6h0.8v0.8h-0.8zM222.6 72.0h0.8v0.8h-0.8zM222.4 71.9h0.8v0.8h-0.8zM223.7 57.7h0.8v0.8h-0.8zM222.6 60.5h0.8v0.8h-0.8zM223.0 47.9h0.8v0.8h-0.8zM222.4 69.8h0.8v0.8h-0.8zM224.1 69.6h0.8v0.8h-0.8zM222.4 74.2h0.8v0.8h-0.8zM224.4 65.1h0.8v0.8h-0.8zM223.2 74.1h0.8v0.8h-0.8zM221.8 36.2h0.8v0.8h-0.8zM222.8 69.4h0.8v0.8h-0.8zM223.1 62.7h0.8v0.8h-0.8zM223.0 46.3h0.8v0.8h-0.8zM223.8 64.5h0.8v0.8h-0.8zM224.0 61.2h0.8v0.8h-0.8zM221.4 60.1h0.8v0.8h-0.8zM223.3 40.2h0.8v0.8h-0.8zM221.4 56.1h0.8v0.8h-0.8zM259.0 72.8h0.8v0.8h-0.8zM258.0 54.0h0.8v0.8h-0.8zM258.2 68.0h0.8v0.8h-0.8zM258.0 73.1h0.8v0.8h-0.8zM258.8 60.4h0.8v0.8h-0.8zM258.8 53.0h0.8v0.8h-0.8zM258.4 69.1h0.8v0.8h-0.8zM259.2 70.5h0.8v0.8h-0.8zM258.5 66.7h0.8v0.8h-0.8zM258.4 68.7h0.8v0.8h-0.8zM258.4 60.6h0.8v0.8h-0.8zM258.9 65.4h0.8v0.8h-0.8zM258.7 72.6h0.8v0.8h-0.8zM258.8 68.0h0.8v0.8h-0.8zM258.4 62.5h0.8v0.8h-0.8zM259.0 50.5h0.8v0.8h-0.8zM258.1 62.9h0.8v0.8h-0.8zM259.1 67.3h0.8v0.8h-0.8zM258.3 70.2h0.8v0.8h-0.8zM258.1 71.7h0.8v0.8h-0.8zM259.1 72.3h0.8v0.8h-0.8zM258.2 69.2h0.8v0.8h-0.8zM259.3 60.9h0.8v0.8h-0.8zM258.8 62.8h0.8v0.8h-0.8zM259.4 72.6h0.8v0.8h-0.8zM258.5 67.7h0.8v0.8h-0.8zM259.2 56.7h0.8v0.8h-0.8zM258.7 70.9h0.8v0.8h-0.8zM259.3 70.9h0.8v0.8h-0.8zM258.3 68.4h0.8v0.8h-0.8zM259.1 49.4h0.8v0.8h-0.8zM259.1 68.5h0.8v0.8h-0.8zM258.5 64.2h0.8v0.8h-0.8zM258.5 72.2h0.8v0.8h-0.8zM258.5 54.2h0.8v0.8h-0.8zM259.1 71.4h0.8v0.8h-0.8zM258.2 70.0h0.8v0.8h-0.8zM259.1 72.4h0.8v0.8h-0.8zM259.0 70.6h0.8v0.8h-0.8zM258.3 55.7h0.8v0.8h-0.8zM258.1 57.0h0.8v0.8h-0.8zM258.9 73.0h0.8v0.8h-0.8zM258.0 70.4h0.8v0.8h-0.8zM259.0 56.4h0.8v0.8h-0.8zM258.5 64.6h0.8v0.8h-0.8zM258.2 63.0h0.8v0.8h-0.8zM259.0 60.1h0.8v0.8h-0.8zM259.4 67.6h0.8v0.8h-0.8zM258.4 51.3h0.8v0.8h-0.8zM258.8 58.4h0.8v0.8h-0.8zM276.8 87.1h0.8v0.8h-0.8zM276.5 80.5h0.8v0.8h-0.8zM276.2 85.1h0.8v0.8h-0.8zM276.9 86.0h0.8v0.8h-0.8zM275.8 87.6h0.8v0.8h-0.8zM276.0 88.6h0.8v0.8h-0.8zM276.5 90.7h0.8v0.8h-0.8zM276.9 89.4h0.8v0.8h-0.8zM277.1 91.0h0.8v0.8h-0.8zM276.0 87.8h0.8v0.8h-0.8zM276.5 91.0h0.8v0.8h-0.8zM276.5 83.2h0.8v0.8h-0.8zM276.5 90.6h0.8v0.8h-0.8zM276.1 89.9h0.8v0.8h-0.8zM276.1 90.6h0.8v0.8h-0.8zM276.8 89.8h0.8v0.8h-0.8zM276.8 89.3h0.8v0.8h-0.8zM276.4 88.0h0.8v0.8h-0.8zM276.0 89.2h0.8v0.8h-0.8zM276.4 90.6h0.8v0.8h-0.8zM277.1 89.3h0.8v0.8h-0.8zM276.4 85.3h0.8v0.8h-0.8zM276.6 86.7h0.8v0.8h-0.8zM275.9 90.9h0.8v0.8h-0.8zM276.1 81.5h0.8v0.8h-0.8zM277.1 36.9h0.8v0.8h-0.8z"/>
<path fill="#d27a6c" d="M196.1 72.1h0.8v0.8h-0.8zM195.8 72.0h0.8v0.8h-0.8zM196.5 63.8h0.8v0.8h-0.8zM196.1 68.0h0.8v0.8h-0.8zM196.0 62.8h0.8v0.8h-0.8zM195.6 71.2h0.8v0.8h-0.8zM197.2 68.6h0.8v0.8h-0.8zM195.9 64.1h0.8v0.8h-0.8zM196.7 61.7h0.8v0.8h-0.8zM197.1 68.8h0.8v0.8h-0.8zM196.9 72.8h0.8v0.8h-0.8zM197.2 57.0h0.8v0.8h-0.8zM197.1 72.3h0.8v0.8h-0.8zM195.7 72.6h0.8v0.8h-0.8zM195.8 65.5h0.8v0.8h-0.8zM196.2 59.9h0.8v0.8h-0.8zM195.9 72.8h0.8v0.8h-0.8zM195.3 69.0h0.8v0.8h-0.8zM196.4 66.8h0.8v0.8h-0.8zM195.6 64.4h0.8v0.8h-0.8zM196.8 61.4h0.8v0.8h-0.8zM196.6 63.1h0.8v0.8h-0.8zM195.6 72.3h0.8v0.8h-0.8zM197.0 66.2h0.8v0.8h-0.8zM196.8 64.5h0.8v0.8h-0.8zM195.4 71.5h0.8v0.8h-0.8zM197.3 63.9h0.8v0.8h-0.8zM197.1 69.7h0.8v0.8h-0.8zM196.5 71.2h0.8v0.8h-0.8zM195.3 60.5h0.8v0.8h-0.8zM196.8 62.4h0.8v0.8h-0.8zM196.7 62.5h0.8v0.8h-0.8zM195.4 72.6h0.8v0.8h-0.8zM197.0 71.6h0.8v0.8h-0.8zM195.9 50.4h0.8v0.8h-0.8zM197.1 64.1h0.8v0.8h-0.8zM195.3 69.5h0.8v0.8h-0.8zM195.5 72.0h0.8v0.8h-0.8zM196.0 59.4h0.8v0.8h-0.8zM196.8 62.8h0.8v0.8h-0.8zM195.8 65.0h0.8v0.8h-0.8zM195.9 72.5h0.8v0.8h-0.8zM196.7 72.5h0.8v0.8h-0.8zM195.2 72.9h0.8v0.8h-0.8zM195.9 68.6h0.8v0.8h-0.8zM197.3 58.9h0.8v0.8h-0.8zM195.5 63.1h0.8v0.8h-0.8zM195.2 68.6h0.8v0.8h-0.8zM197.3 69.0h0.8v0.8h-0.8zM196.6 60.3h0.8v0.8h-0.8zM195.2 68.6h0.8v0.8h-0.8zM196.1 52.1h0.8v0.8h-0.8zM196.3 59.5h0.8v0.8h-0.8z"/>
<path fill="#8a48b0" d="M272.5 72.7h0.8v0.8h-0.8zM272.1 65.2h0.8v0.8h-0.8zM272.8 71.6h0.8v0.8h-0.8zM271.9 58.9h0.8v0.8h-0.8zM272.1 68.0h0.8v0.8h-0.8zM271.2 68.3h0.8v0.8h-0.8zM271.7 74.5h0.8v0.8h-0.8zM271.1 69.8h0.8v0.8h-0.8zM273.0 47.5h0.8v0.8h-0.8zM272.2 74.4h0.8v0.8h-0.8zM273.1 71.6h0.8v0.8h-0.8zM273.0 44.0h0.8v0.8h-0.8zM272.5 69.7h0.8v0.8h-0.8zM273.1 72.4h0.8v0.8h-0.8zM272.5 73.7h0.8v0.8h-0.8zM272.1 72.9h0.8v0.8h-0.8zM271.4 60.9h0.8v0.8h-0.8zM271.9 69.3h0.8v0.8h-0.8zM270.9 70.5h0.8v0.8h-0.8zM272.5 73.2h0.8v0.8h-0.8zM271.9 71.3h0.8v0.8h-0.8zM271.9 74.5h0.8v0.8h-0.8zM272.7 72.5h0.8v0.8h-0.8zM273.0 73.1h0.8v0.8h-0.8zM273.1 74.8h0.8v0.8h-0.8zM272.3 57.8h0.8v0.8h-0.8zM271.6 54.3h0.8v0.8h-0.8zM272.5 65.1h0.8v0.8h-0.8zM272.6 74.5h0.8v0.8h-0.8zM272.4 72.3h0.8v0.8h-0.8zM271.5 72.9h0.8v0.8h-0.8zM273.1 61.5h0.8v0.8h-0.8zM272.5 60.6h0.8v0.8h-0.8zM273.1 74.7h0.8v0.8h-0.8zM273.0 71.9h0.8v0.8h-0.8zM271.7 74.4h0.8v0.8h-0.8zM272.3 70.3h0.8v0.8h-0.8zM272.6 64.0h0.8v0.8h-0.8zM273.1 73.3h0.8v0.8h-0.8zM271.2 73.1h0.8v0.8h-0.8zM272.5 46.3h0.8v0.8h-0.8zM272.3 73.7h0.8v0.8h-0.8zM272.1 64.9h0.8v0.8h-0.8zM271.6 73.0h0.8v0.8h-0.8zM272.8 67.5h0.8v0.8h-0.8zM271.5 74.4h0.8v0.8h-0.8zM271.0 66.7h0.8v0.8h-0.8zM271.0 61.1h0.8v0.8h-0.8zM272.7 56.1h0.8v0.8h-0.8zM272.6 74.5h0.8v0.8h-0.8zM272.9 70.9h0.8v0.8h-0.8zM271.7 61.5h0.8v0.8h-0.8zM272.2 67.9h0.8v0.8h-0.8zM271.5 73.2h0.8v0.8h-0.8zM273.1 72.1h0.8v0.8h-0.8zM273.0 67.3h0.8v0.8h-0.8zM272.2 70.4h0.8v0.8h-0.8zM272.3 68.3h0.8v0.8h-0.8zM272.6 59.1h0.8v0.8h-0.8zM271.9 73.9h0.8v0.8h-0.8zM271.1 72.6h0.8v0.8h-0.8zM271.4 53.8h0.8v0.8h-0.8zM272.7 71.3h0.8v0.8h-0.8zM272.8 67.8h0.8v0.8h-0.8zM272.5 70.8h0.8v0.8h-0.8zM272.4 71.7h0.8v0.8h-0.8zM271.9 59.3h0.8v0.8h-0.8zM272.9 68.8h0.8v0.8h-0.8zM273.1 71.0h0.8v0.8h-0.8zM272.8 65.2h0.8v0.8h-0.8zM271.4 61.6h0.8v0.8h-0.8zM272.1 50.7h0.8v0.8h-0.8z"/>
<line x1="150.0" y1="73.0" x2="282.0" y2="73.0" stroke="#e07070" stroke-width="0.5"/>
<line x1="132.4" y1="108.6" x2="152.4" y2="128.6" stroke="#000" stroke-width="1.6"/>
<polyline points="146.4,128.6 152.4,128.6 152.4,122.6" fill="none" stroke="#000" stroke-width="1.6" stroke-linecap="square"/>
<line x1="258.2" y1="107.2" x2="258.2" y2="132.8" stroke="#000" stroke-width="1.6"/>
<polyline points="254.4,129.0 258.2,132.8 262.0,129.0" fill="none" stroke="#000" stroke-width="1.6" stroke-linecap="square"/>
<line x1="133.4" y1="236.5" x2="162.0" y2="236.5" stroke="#000" stroke-width="1.6"/>
<polyline points="157.8,232.3 162.0,236.5 157.8,240.7" fill="none" stroke="#000" stroke-width="1.6" stroke-linecap="square"/>
<text x="70" y="128.6" font-size="4.6" fill="#111" text-anchor="middle" font-family="'Liberation Sans', Arial, sans-serif" textLength="62.0" lengthAdjust="spacingAndGlyphs" font-weight="bold">Module-trait relationships</text>
<rect x="6.3" y="130.40" width="5.0" height="5.83" fill="#a8c850"/>
<rect x="12.0" y="130.40" width="38.70" height="5.83" fill="#eee8f4"/>
<rect x="50.7" y="130.40" width="38.60" height="5.83" fill="#fcfcfa"/>
<rect x="89.3" y="130.40" width="38.70" height="5.83" fill="#f8f8de"/>
<rect x="6.3" y="136.23" width="5.0" height="5.83" fill="#2a4c9c"/>
<rect x="12.0" y="136.23" width="38.70" height="5.83" fill="#d0c0e2"/>
<rect x="50.7" y="136.23" width="38.60" height="5.83" fill="#fbfbef"/>
<rect x="89.3" y="136.23" width="38.70" height="5.83" fill="#f6f6d6"/>
<rect x="6.3" y="142.06" width="5.0" height="5.83" fill="#cc2230"/>
<rect x="12.0" y="142.06" width="38.70" height="5.83" fill="#d4c4e5"/>
<rect x="50.7" y="142.06" width="38.60" height="5.83" fill="#f9f9e7"/>
<rect x="89.3" y="142.06" width="38.70" height="5.83" fill="#f4f4d2"/>
<rect x="6.3" y="147.89" width="5.0" height="5.83" fill="#dcb48c"/>
<rect x="12.0" y="147.89" width="38.70" height="5.83" fill="#d7c8e7"/>
<rect x="50.7" y="147.89" width="38.60" height="5.83" fill="#ded2eb"/>
<rect x="89.3" y="147.89" width="38.70" height="5.83" fill="#f6f6d6"/>
<rect x="6.3" y="153.72" width="5.0" height="5.83" fill="#e8f4f4"/>
<rect x="12.0" y="153.72" width="38.70" height="5.83" fill="#e6dcf0"/>
<rect x="50.7" y="153.72" width="38.60" height="5.83" fill="#d2c3e7"/>
<rect x="89.3" y="153.72" width="38.70" height="5.83" fill="#efefae"/>
<rect x="6.3" y="159.55" width="5.0" height="5.83" fill="#f2bccc"/>
<rect x="12.0" y="159.55" width="38.70" height="5.83" fill="#ad92ce"/>
<rect x="50.7" y="159.55" width="38.60" height="5.83" fill="#ede6f2"/>
<rect x="89.3" y="159.55" width="38.70" height="5.83" fill="#ecea95"/>
<rect x="6.3" y="165.38" width="5.0" height="5.83" fill="#72c4d6"/>
<rect x="12.0" y="165.38" width="38.70" height="5.83" fill="#b79dd4"/>
<rect x="50.7" y="165.38" width="38.60" height="5.83" fill="#f7f5f9"/>
<rect x="89.3" y="165.38" width="38.70" height="5.83" fill="#eeeca6"/>
<rect x="6.3" y="171.21" width="5.0" height="5.83" fill="#a4509e"/>
<rect x="12.0" y="171.21" width="38.70" height="5.83" fill="#b094d0"/>
<rect x="50.7" y="171.21" width="38.60" height="5.83" fill="#f6f4f8"/>
<rect x="89.3" y="171.21" width="38.70" height="5.83" fill="#f2f0c3"/>
<rect x="6.3" y="177.04" width="5.0" height="5.83" fill="#a42234"/>
<rect x="12.0" y="177.04" width="38.70" height="5.83" fill="#f4eff7"/>
<rect x="50.7" y="177.04" width="38.60" height="5.83" fill="#e0d4ed"/>
<rect x="89.3" y="177.04" width="38.70" height="5.83" fill="#f7f7d8"/>
<rect x="6.3" y="182.87" width="5.0" height="5.83" fill="#b8b0a8"/>
<rect x="12.0" y="182.87" width="38.70" height="5.83" fill="#f8f6f9"/>
<rect x="50.7" y="182.87" width="38.60" height="5.83" fill="#e2d9ee"/>
<rect x="89.3" y="182.87" width="38.70" height="5.83" fill="#f4f0f3"/>
<rect x="6.3" y="188.70" width="5.0" height="5.83" fill="#1c2a5c"/>
<rect x="12.0" y="188.70" width="38.70" height="5.83" fill="#f0eeb0"/>
<rect x="50.7" y="188.70" width="38.60" height="5.83" fill="#e8dff0"/>
<rect x="89.3" y="188.70" width="38.70" height="5.83" fill="#d4c4e5"/>
<rect x="6.3" y="194.53" width="5.0" height="5.83" fill="#4aa848"/>
<rect x="12.0" y="194.53" width="38.70" height="5.83" fill="#f0eeb4"/>
<rect x="50.7" y="194.53" width="38.60" height="5.83" fill="#fbfafb"/>
<rect x="89.3" y="194.53" width="38.70" height="5.83" fill="#cebde2"/>
<rect x="6.3" y="200.36" width="5.0" height="5.83" fill="#4cc8c0"/>
<rect x="12.0" y="200.36" width="38.70" height="5.83" fill="#f4f2c9"/>
<rect x="50.7" y="200.36" width="38.60" height="5.83" fill="#fbfbfb"/>
<rect x="89.3" y="200.36" width="38.70" height="5.83" fill="#ded0eb"/>
<rect x="6.3" y="206.19" width="5.0" height="5.83" fill="#f8f8f8"/>
<rect x="12.0" y="206.19" width="38.70" height="5.83" fill="#f6f3f3"/>
<rect x="50.7" y="206.19" width="38.60" height="5.83" fill="#fafafa"/>
<rect x="89.3" y="206.19" width="38.70" height="5.83" fill="#e2d7ee"/>
<rect x="6.3" y="212.02" width="5.0" height="5.83" fill="#000000"/>
<rect x="12.0" y="212.02" width="38.70" height="5.83" fill="#f8f6f8"/>
<rect x="50.7" y="212.02" width="38.60" height="5.83" fill="#ede6f2"/>
<rect x="89.3" y="212.02" width="38.70" height="5.83" fill="#e7def0"/>
<rect x="6.3" y="217.85" width="5.0" height="5.83" fill="#f2e21c"/>
<rect x="12.0" y="217.85" width="38.70" height="5.83" fill="#f4f2d6"/>
<rect x="50.7" y="217.85" width="38.60" height="5.83" fill="#f1edf5"/>
<rect x="89.3" y="217.85" width="38.70" height="5.83" fill="#eae3f2"/>
<rect x="6.3" y="223.68" width="5.0" height="5.83" fill="#5a2c8c"/>
<rect x="12.0" y="223.68" width="38.70" height="5.83" fill="#f2f0c1"/>
<rect x="50.7" y="223.68" width="38.60" height="5.83" fill="#fafae3"/>
<rect x="89.3" y="223.68" width="38.70" height="5.83" fill="#d4c7e6"/>
<rect x="6.3" y="229.51" width="5.0" height="5.83" fill="#a8d4a0"/>
<rect x="12.0" y="229.51" width="38.70" height="5.83" fill="#ecea97"/>
<rect x="50.7" y="229.51" width="38.60" height="5.83" fill="#e8e1f0"/>
<rect x="89.3" y="229.51" width="38.70" height="5.83" fill="#8b6db9"/>
<rect x="6.3" y="235.34" width="5.0" height="5.83" fill="#ec7c74"/>
<rect x="12.0" y="235.34" width="38.70" height="5.83" fill="#eeeca4"/>
<rect x="50.7" y="235.34" width="38.60" height="5.83" fill="#e3daee"/>
<rect x="89.3" y="235.34" width="38.70" height="5.83" fill="#b9a4d7"/>
<rect x="6.3" y="241.17" width="5.0" height="5.83" fill="#c0c0c0"/>
<rect x="12.0" y="241.17" width="38.70" height="5.83" fill="#eeeca8"/>
<rect x="50.7" y="241.17" width="38.60" height="5.83" fill="#dfd3eb"/>
<rect x="89.3" y="241.17" width="38.70" height="5.83" fill="#d4c8e8"/>
<line x1="12.0" y1="130.40" x2="128.0" y2="130.40" stroke="#555" stroke-width="0.3"/>
<line x1="12.0" y1="136.23" x2="128.0" y2="136.23" stroke="#555" stroke-width="0.3"/>
<line x1="12.0" y1="142.06" x2="128.0" y2="142.06" stroke="#555" stroke-width="0.3"/>
<line x1="12.0" y1="147.89" x2="128.0" y2="147.89" stroke="#555" stroke-width="0.3"/>
<line x1="12.0" y1="153.72" x2="128.0" y2="153.72" stroke="#555" stroke-width="0.3"/>
<line x1="12.0" y1="159.55" x2="128.0" y2="159.55" stroke="#555" stroke-width="0.3"/>
<line x1="12.0" y1="165.38" x2="128.0" y2="165.38" stroke="#555" stroke-width="0.3"/>
<line x1="12.0" y1="171.21" x2="128.0" y2="171.21" stroke="#555" stroke-width="0.3"/>
<line x1="12.0" y1="177.04" x2="128.0" y2="177.04" stroke="#555" stroke-width="0.3"/>
<line x1="12.0" y1="182.87" x2="128.0" y2="182.87" stroke="#555" stroke-width="0.3"/>
<line x1="12.0" y1="188.70" x2="128.0" y2="188.70" stroke="#555" stroke-width="0.3"/>
<line x1="12.0" y1="194.53" x2="128.0" y2="194.53" stroke="#555" stroke-width="0.3"/>
<line x1="12.0" y1="200.36" x2="128.0" y2="200.36" stroke="#555" stroke-width="0.3"/>
<line x1="12.0" y1="206.19" x2="128.0" y2="206.19" stroke="#555" stroke-width="0.3"/>
<line x1="12.0" y1="212.02" x2="128.0" y2="212.02" stroke="#555" stroke-width="0.3"/>
<line x1="12.0" y1="217.85" x2="128.0" y2="217.85" stroke="#555" stroke-width="0.3"/>
<line x1="12.0" y1="223.68" x2="128.0" y2="223.68" stroke="#555" stroke-width="0.3"/>
<line x1="12.0" y1="229.51" x2="128.0" y2="229.51" stroke="#555" stroke-width="0.3"/>
<line x1="12.0" y1="235.34" x2="128.0" y2="235.34" stroke="#555" stroke-width="0.3"/>
<line x1="12.0" y1="241.17" x2="128.0" y2="241.17" stroke="#555" stroke-width="0.3"/>
<line x1="12.0" y1="247.00" x2="128.0" y2="247.00" stroke="#555" stroke-width="0.3"/>
<line x1="12.0" y1="130.4" x2="12.0" y2="247.00" stroke="#333" stroke-width="0.4"/>
<line x1="50.7" y1="130.4" x2="50.7" y2="247.00" stroke="#333" stroke-width="0.4"/>
<line x1="89.3" y1="130.4" x2="89.3" y2="247.00" stroke="#333" stroke-width="0.4"/>
<line x1="128.0" y1="130.4" x2="128.0" y2="247.00" stroke="#333" stroke-width="0.4"/>
<g font-size="3.2" fill="#111" text-anchor="middle" font-family="'Liberation Sans', Arial, sans-serif"><text x="31.4" y="133.10">-0.19</text><text x="31.4" y="136.00">(0.88)</text><text x="70.0" y="133.10">0.079</text><text x="70.0" y="136.00">(0.44)</text><text x="108.7" y="133.10">0.22</text><text x="108.7" y="136.00">(0.73)</text><text x="31.4" y="138.93">-0.41</text><text x="31.4" y="141.83">(0.0022)</text><text x="70.0" y="138.93">0.15</text><text x="70.0" y="141.83">(0.13)</text><text x="108.7" y="138.93">0.28</text><text x="108.7" y="141.83">(0.75)</text><text x="31.4" y="144.76">-0.4</text><text x="31.4" y="147.66">(0.0013)</text><text x="70.0" y="144.76">0.19</text><text x="70.0" y="147.66">(0.084)</text><text x="108.7" y="144.76">0.33</text><text x="108.7" y="147.66">(0.0057)</text><text x="31.4" y="150.59">-0.35</text><text x="31.4" y="153.49">(0.0041)</text><text x="70.0" y="150.59">-0.29</text><text x="70.0" y="153.49">(0.77)</text><text x="108.7" y="150.59">0.29</text><text x="108.7" y="153.49">(0.75)</text><text x="31.4" y="156.42">-0.25</text><text x="31.4" y="159.32">(0.94)</text><text x="70.0" y="156.42">-0.4</text><text x="70.0" y="159.32">(0.0028)</text><text x="108.7" y="156.42">0.53</text><text x="108.7" y="159.32">(0.00018)</text><text x="31.4" y="162.25">-0.7</text><text x="31.4" y="165.15">(8.8e-06)</text><text x="70.0" y="162.25">-0.18</text><text x="70.0" y="165.15">(0.56)</text><text x="108.7" y="162.25">0.69</text><text x="108.7" y="165.15">(2.8e-05)</text><text x="31.4" y="168.08">-0.64</text><text x="31.4" y="170.98">(5.0e-05)</text><text x="70.0" y="168.08">-0.077</text><text x="70.0" y="170.98">(0.29)</text><text x="108.7" y="168.08">0.57</text><text x="108.7" y="170.98">(0.00011)</text><text x="31.4" y="173.91">-0.71</text><text x="31.4" y="176.81">(1.0e-05)</text><text x="70.0" y="173.91">-0.1</text><text x="70.0" y="176.81">(0.093)</text><text x="108.7" y="173.91">0.39</text><text x="108.7" y="176.81">(0.0035)</text><text x="31.4" y="179.74">-0.14</text><text x="31.4" y="182.64">(0.34)</text><text x="70.0" y="179.74">-0.31</text><text x="70.0" y="182.64">(0.0095)</text><text x="108.7" y="179.74">0.29</text><text x="108.7" y="182.64">(0.48)</text><text x="31.4" y="185.57">-0.087</text><text x="31.4" y="188.47">(0.11)</text><text x="70.0" y="185.57">-0.25</text><text x="70.0" y="188.47">(0.72)</text><text x="108.7" y="185.57">0.13</text><text x="108.7" y="188.47">(0.13)</text><text x="31.4" y="191.40">0.5</text><text x="31.4" y="194.30">(0.00035)</text><text x="70.0" y="191.40">-0.22</text><text x="70.0" y="194.30">(0.65)</text><text x="108.7" y="191.40">-0.37</text><text x="108.7" y="194.30">(0.0017)</text><text x="31.4" y="197.23">0.48</text><text x="31.4" y="200.13">(0.00042)</text><text x="70.0" y="197.23">-0.066</text><text x="70.0" y="200.13">(0.85)</text><text x="108.7" y="197.23">-0.42</text><text x="108.7" y="200.13">(0.00058)</text><text x="31.4" y="203.06">0.39</text><text x="31.4" y="205.96">(0.001)</text><text x="70.0" y="203.06">-0.061</text><text x="70.0" y="205.96">(0.095)</text><text x="108.7" y="203.06">-0.33</text><text x="108.7" y="205.96">(0.0067)</text><text x="31.4" y="208.89">0.11</text><text x="31.4" y="211.79">(0.45)</text><text x="70.0" y="208.89">-0.061</text><text x="70.0" y="211.79">(0.094)</text><text x="108.7" y="208.89">-0.28</text><text x="108.7" y="211.79">(0.92)</text><text x="31.4" y="214.72">-0.081</text><text x="31.4" y="217.62">(0.36)</text><text x="70.0" y="214.72">-0.18</text><text x="70.0" y="217.62">(0.13)</text><text x="108.7" y="214.72">-0.22</text><text x="108.7" y="217.62">(0.55)</text><text x="31.4" y="220.55">0.29</text><text x="31.4" y="223.45">(0.36)</text><text x="70.0" y="220.55">-0.15</text><text x="70.0" y="223.45">(0.65)</text><text x="108.7" y="220.55">-0.2</text><text x="108.7" y="223.45">(0.29)</text><text x="31.4" y="226.38">0.4</text><text x="31.4" y="229.28">(0.00097)</text><text x="70.0" y="226.38">0.18</text><text x="70.0" y="229.28">(0.29)</text><text x="108.7" y="226.38">-0.4</text><text x="108.7" y="229.28">(0.002)</text><text x="31.4" y="232.21">0.68</text><text x="31.4" y="235.11">(1.7e-05)</text><text x="70.0" y="232.21">-0.19</text><text x="70.0" y="235.11">(0.062)</text><text x="108.7" y="232.21">-0.93</text><text x="108.7" y="235.11">(2.9e-07)</text><text x="31.4" y="238.04">0.59</text><text x="31.4" y="240.94">(0.00011)</text><text x="70.0" y="238.04">-0.28</text><text x="70.0" y="240.94">(0.44)</text><text x="108.7" y="238.04">-0.59</text><text x="108.7" y="240.94">(0.00012)</text><text x="31.4" y="243.87">0.57</text><text x="31.4" y="246.77">(7.3e-05)</text><text x="70.0" y="243.87">-0.28</text><text x="70.0" y="246.77">(0.11)</text><text x="108.7" y="243.87">-0.38</text><text x="108.7" y="246.77">(0.0031)</text></g>
<defs><linearGradient id="cb" x1="0" y1="0" x2="0" y2="1"><stop offset="0" stop-color="#ebe56a"/><stop offset="0.5" stop-color="#ffffff"/><stop offset="1" stop-color="#563892"/></linearGradient></defs>
<rect x="129.6" y="155.3" width="3.4" height="65.7" fill="url(#cb)"/>
<line x1="133" y1="156" x2="134.2" y2="156" stroke="#666" stroke-width="0.3"/>
<text x="135.4" y="157.0" font-size="3.0" fill="#444" font-family="'Liberation Sans', Arial, sans-serif">1</text>
<line x1="133" y1="172.4" x2="134.2" y2="172.4" stroke="#666" stroke-width="0.3"/>
<text x="135.4" y="173.4" font-size="3.0" fill="#444" font-family="'Liberation Sans', Arial, sans-serif">0.5</text>
<line x1="133" y1="188.2" x2="134.2" y2="188.2" stroke="#666" stroke-width="0.3"/>
<text x="135.4" y="189.2" font-size="3.0" fill="#444" font-family="'Liberation Sans', Arial, sans-serif">0</text>
<line x1="133" y1="204.6" x2="134.2" y2="204.6" stroke="#666" stroke-width="0.3"/>
<text x="135.4" y="205.6" font-size="3.0" fill="#444" font-family="'Liberation Sans', Arial, sans-serif">-0.5</text>
<line x1="133" y1="221" x2="134.2" y2="221" stroke="#666" stroke-width="0.3"/>
<text x="135.4" y="222.0" font-size="3.0" fill="#444" font-family="'Liberation Sans', Arial, sans-serif">-1</text>
<text x="29.8" y="253.6" font-size="6.0" fill="#7a7a7a" text-anchor="middle" font-family="'Liberation Serif', 'Times New Roman', serif" textLength="28.0" lengthAdjust="spacingAndGlyphs">Nulliparous</text>
<text x="69.7" y="253.6" font-size="6.0" fill="#7a7a7a" text-anchor="middle" font-family="'Liberation Serif', 'Times New Roman', serif" textLength="28.0" lengthAdjust="spacingAndGlyphs">Primiparous</text>
<text x="110.7" y="253.6" font-size="6.0" fill="#7a7a7a" text-anchor="middle" font-family="'Liberation Serif', 'Times New Roman', serif" textLength="28.0" lengthAdjust="spacingAndGlyphs">Multiparous</text>
<text x="162" y="135.5" font-size="9" fill="#f2f2f2" text-anchor="middle" font-family="'Liberation Serif', 'Times New Roman', serif">DEGs</text>
<text x="249" y="135.5" font-size="9" fill="#f2f2f2" text-anchor="middle" font-family="'Liberation Serif', 'Times New Roman', serif">EWSS</text>
<text x="208" y="248" font-size="9" fill="#f2f2f2" text-anchor="middle" font-family="'Liberation Serif', 'Times New Roman', serif">WGCNA</text>
<defs><clipPath id="vb0"><ellipse cx="189" cy="173.1" rx="38.6" ry="37.2"/></clipPath><clipPath id="vr0"><ellipse cx="226.4" cy="173.1" rx="38.6" ry="37.2"/></clipPath></defs>
<ellipse cx="189" cy="173.1" rx="38.6" ry="37.2" fill="#adc0e2"/>
<ellipse cx="226.4" cy="173.1" rx="38.6" ry="37.2" fill="#ebb3b8"/>
<ellipse cx="208" cy="205.0" rx="38.6" ry="37.2" fill="#bedb96"/>
<ellipse cx="226.4" cy="173.1" rx="38.6" ry="37.2" fill="#c79bbb" clip-path="url(#vb0)"/>
<ellipse cx="208" cy="205.0" rx="38.6" ry="37.2" fill="#9dc38c" clip-path="url(#vb0)"/>
<ellipse cx="208" cy="205.0" rx="38.6" ry="37.2" fill="#bfbb74" clip-path="url(#vr0)"/>
<g clip-path="url(#vb0)"><ellipse cx="208" cy="205.0" rx="38.6" ry="37.2" fill="#b0b478" clip-path="url(#vr0)"/></g>
<text x="177.8" y="161.3" font-size="8.8" fill="#000" text-anchor="middle" font-family="'Liberation Sans', Arial, sans-serif" textLength="21.8" lengthAdjust="spacingAndGlyphs" font-weight="bold" fill-opacity="0.85">DEGs</text>
<text x="239.7" y="161.3" font-size="8.8" fill="#000" text-anchor="middle" font-family="'Liberation Sans', Arial, sans-serif" textLength="24.2" lengthAdjust="spacingAndGlyphs" font-weight="bold" fill-opacity="0.85">EWSS</text>
<text x="208.4" y="184.1" font-size="8.8" fill="#000" text-anchor="middle" font-family="'Liberation Sans', Arial, sans-serif" textLength="40.2" lengthAdjust="spacingAndGlyphs" font-weight="bold" fill-opacity="0.85">Candidate</text>
<text x="208.7" y="195.1" font-size="8.8" fill="#000" text-anchor="middle" font-family="'Liberation Sans', Arial, sans-serif" textLength="25.3" lengthAdjust="spacingAndGlyphs" font-weight="bold" fill-opacity="0.85">Genes</text>
<text x="208.4" y="229.7" font-size="8.8" fill="#000" text-anchor="middle" font-family="'Liberation Sans', Arial, sans-serif" textLength="33.2" lengthAdjust="spacingAndGlyphs" font-weight="bold" fill-opacity="0.85">WGCNA</text>
<path d="M306,34.4 C299,34.8 294.2,35.5 294.2,39.5 L294.2,174.5 C294.2,178 291,179.2 281.5,179.2 C291,179.2 294.2,180.5 294.2,184 L294.2,220 C294.2,224 297,225 305.8,225" fill="none" stroke="#000" stroke-width="2.6"/>
<defs><clipPath id="vb1"><ellipse cx="350.8" cy="70.9" rx="31.0" ry="27.6"/></clipPath><clipPath id="vr1"><ellipse cx="381.9" cy="70.9" rx="31.0" ry="27.6"/></clipPath></defs>
<ellipse cx="350.8" cy="70.9" rx="31.0" ry="27.6" fill="#adc0e2"/>
<ellipse cx="381.9" cy="70.9" rx="31.0" ry="27.6" fill="#ebb3b8"/>
<ellipse cx="366.6" cy="96.2" rx="31.0" ry="27.6" fill="#bedb96"/>
<ellipse cx="381.9" cy="70.9" rx="31.0" ry="27.6" fill="#c79bbb" clip-path="url(#vb1)"/>
<ellipse cx="366.6" cy="96.2" rx="31.0" ry="27.6" fill="#9dc38c" clip-path="url(#vb1)"/>
<ellipse cx="366.6" cy="96.2" rx="31.0" ry="27.6" fill="#bfbb74" clip-path="url(#vr1)"/>
<g clip-path="url(#vb1)"><ellipse cx="366.6" cy="96.2" rx="31.0" ry="27.6" fill="#b0b478" clip-path="url(#vr1)"/></g>
<text x="367.4" y="24.200000000000003" font-size="13.5" fill="#111" text-anchor="middle" font-family="'Liberation Sans', Arial, sans-serif" stroke="#111" stroke-width="0.15">A</text>
<text x="337.2" y="66.3" font-size="7.2" fill="#222" text-anchor="middle" font-family="'Liberation Serif', 'Times New Roman', serif" stroke="#222" stroke-width="0.15">924</text>
<text x="366.5" y="58.8" font-size="7.2" fill="#222" text-anchor="middle" font-family="'Liberation Serif', 'Times New Roman', serif" stroke="#222" stroke-width="0.15">25</text>
<text x="366.5" y="81.5" font-size="7.2" fill="#222" text-anchor="middle" font-family="'Liberation Serif', 'Times New Roman', serif" stroke="#222" stroke-width="0.15">1</text>
<text x="345.2" y="93.8" font-size="7.2" fill="#222" text-anchor="middle" font-family="'Liberation Serif', 'Times New Roman', serif" stroke="#222" stroke-width="0.15">60</text>
<text x="395.8" y="66.5" font-size="7.2" fill="#222" text-anchor="middle" font-family="'Liberation Serif', 'Times New Roman', serif" stroke="#222" stroke-width="0.15">695</text>
<text x="387.6" y="94.4" font-size="7.2" fill="#222" text-anchor="middle" font-family="'Liberation Serif', 'Times New Roman', serif" stroke="#222" stroke-width="0.15">2</text>
<text x="366.3" y="114.4" font-size="7.2" fill="#222" text-anchor="middle" font-family="'Liberation Serif', 'Times New Roman', serif" stroke="#222" stroke-width="0.15">85</text>
<text x="331.2" y="44.9" font-size="10.0" fill="#111" text-anchor="middle" font-family="'Liberation Serif', 'Times New Roman', serif" textLength="24.4" lengthAdjust="spacingAndGlyphs" stroke="#111" stroke-width="0.3">DEGs</text>
<text x="402.0" y="44.099999999999994" font-size="10.0" fill="#111" text-anchor="middle" font-family="'Liberation Serif', 'Times New Roman', serif" textLength="25.1" lengthAdjust="spacingAndGlyphs" stroke="#111" stroke-width="0.3">EWSS</text>
<text x="366.3" y="131.0" font-size="10.0" fill="#111" text-anchor="middle" font-family="'Liberation Serif', 'Times New Roman', serif" textLength="35.4" lengthAdjust="spacingAndGlyphs" stroke="#111" stroke-width="0.3">WGCNA</text>
<defs><clipPath id="vb2"><ellipse cx="476.20000000000005" cy="70.9" rx="31.0" ry="27.6"/></clipPath><clipPath id="vr2"><ellipse cx="507.29999999999995" cy="70.9" rx="31.0" ry="27.6"/></clipPath></defs>
<ellipse cx="476.20000000000005" cy="70.9" rx="31.0" ry="27.6" fill="#adc0e2"/>
<ellipse cx="507.29999999999995" cy="70.9" rx="31.0" ry="27.6" fill="#ebb3b8"/>
<ellipse cx="492.0" cy="96.2" rx="31.0" ry="27.6" fill="#bedb96"/>
<ellipse cx="507.29999999999995" cy="70.9" rx="31.0" ry="27.6" fill="#c79bbb" clip-path="url(#vb2)"/>
<ellipse cx="492.0" cy="96.2" rx="31.0" ry="27.6" fill="#9dc38c" clip-path="url(#vb2)"/>
<ellipse cx="492.0" cy="96.2" rx="31.0" ry="27.6" fill="#bfbb74" clip-path="url(#vr2)"/>
<g clip-path="url(#vb2)"><ellipse cx="492.0" cy="96.2" rx="31.0" ry="27.6" fill="#b0b478" clip-path="url(#vr2)"/></g>
<text x="490.6" y="24.8" font-size="13.5" fill="#111" text-anchor="middle" font-family="'Liberation Sans', Arial, sans-serif" stroke="#111" stroke-width="0.15">B</text>
<text x="462.2" y="67.0" font-size="7.2" fill="#222" text-anchor="middle" font-family="'Liberation Serif', 'Times New Roman', serif" stroke="#222" stroke-width="0.15">935</text>
<text x="491.2" y="59.2" font-size="7.2" fill="#222" text-anchor="middle" font-family="'Liberation Serif', 'Times New Roman', serif" stroke="#222" stroke-width="0.15">45</text>
<text x="491.0" y="82.6" font-size="7.2" fill="#222" text-anchor="middle" font-family="'Liberation Serif', 'Times New Roman', serif" stroke="#222" stroke-width="0.15">4</text>
<text x="469.6" y="94.4" font-size="7.2" fill="#222" text-anchor="middle" font-family="'Liberation Serif', 'Times New Roman', serif" stroke="#222" stroke-width="0.15">76</text>
<text x="520.0" y="66.8" font-size="7.2" fill="#222" text-anchor="middle" font-family="'Liberation Serif', 'Times New Roman', serif" stroke="#222" stroke-width="0.15">894</text>
<text x="512.8" y="94.4" font-size="7.2" fill="#222" text-anchor="middle" font-family="'Liberation Serif', 'Times New Roman', serif" stroke="#222" stroke-width="0.15">2</text>
<text x="491.3" y="114.2" font-size="7.2" fill="#222" text-anchor="middle" font-family="'Liberation Serif', 'Times New Roman', serif" stroke="#222" stroke-width="0.15">72</text>
<text x="455.2" y="44.8" font-size="10.0" fill="#111" text-anchor="middle" font-family="'Liberation Serif', 'Times New Roman', serif" textLength="24.0" lengthAdjust="spacingAndGlyphs" stroke="#111" stroke-width="0.3">DEGs</text>
<text x="526.8" y="44.699999999999996" font-size="10.0" fill="#111" text-anchor="middle" font-family="'Liberation Serif', 'Times New Roman', serif" textLength="24.8" lengthAdjust="spacingAndGlyphs" stroke="#111" stroke-width="0.3">EWSS</text>
<text x="491.3" y="131.0" font-size="10.0" fill="#111" text-anchor="middle" font-family="'Liberation Serif', 'Times New Roman', serif" textLength="36.7" lengthAdjust="spacingAndGlyphs" stroke="#111" stroke-width="0.3">WGCNA</text>
<defs><clipPath id="vb3"><ellipse cx="412.0" cy="192.0" rx="31.0" ry="28.4"/></clipPath><clipPath id="vr3"><ellipse cx="443.09999999999997" cy="192.0" rx="31.0" ry="28.4"/></clipPath></defs>
<ellipse cx="412.0" cy="192.0" rx="31.0" ry="28.4" fill="#adc0e2"/>
<ellipse cx="443.09999999999997" cy="192.0" rx="31.0" ry="28.4" fill="#ebb3b8"/>
<ellipse cx="427.8" cy="216.9" rx="31.0" ry="28.4" fill="#bedb96"/>
<ellipse cx="443.09999999999997" cy="192.0" rx="31.0" ry="28.4" fill="#c79bbb" clip-path="url(#vb3)"/>
<ellipse cx="427.8" cy="216.9" rx="31.0" ry="28.4" fill="#9dc38c" clip-path="url(#vb3)"/>
<ellipse cx="427.8" cy="216.9" rx="31.0" ry="28.4" fill="#bfbb74" clip-path="url(#vr3)"/>
<g clip-path="url(#vb3)"><ellipse cx="427.8" cy="216.9" rx="31.0" ry="28.4" fill="#b0b478" clip-path="url(#vr3)"/></g>
<text x="428.0" y="146.79999999999998" font-size="13.5" fill="#111" text-anchor="middle" font-family="'Liberation Sans', Arial, sans-serif" stroke="#111" stroke-width="0.15">C</text>
<text x="399.2" y="189.2" font-size="6.9" fill="#222" text-anchor="middle" font-family="'Liberation Sans', Arial, sans-serif" stroke="#222" stroke-width="0.15">1960</text>
<text x="428.5" y="181.8" font-size="6.9" fill="#222" text-anchor="middle" font-family="'Liberation Sans', Arial, sans-serif" stroke="#222" stroke-width="0.15">68</text>
<text x="457.2" y="186.6" font-size="6.9" fill="#222" text-anchor="middle" font-family="'Liberation Sans', Arial, sans-serif" stroke="#222" stroke-width="0.15">648</text>
<text x="427.4" y="201.8" font-size="6.9" fill="#222" text-anchor="middle" font-family="'Liberation Sans', Arial, sans-serif" stroke="#222" stroke-width="0.15">6</text>
<text x="409.0" y="213.6" font-size="6.9" fill="#222" text-anchor="middle" font-family="'Liberation Sans', Arial, sans-serif" stroke="#222" stroke-width="0.15">211</text>
<text x="446.1" y="213.6" font-size="6.9" fill="#222" text-anchor="middle" font-family="'Liberation Sans', Arial, sans-serif" stroke="#222" stroke-width="0.15">1</text>
<text x="428.4" y="232.0" font-size="6.9" fill="#222" text-anchor="middle" font-family="'Liberation Sans', Arial, sans-serif" stroke="#222" stroke-width="0.15">30</text>
<text x="392.0" y="165.3" font-size="10.0" fill="#111" text-anchor="middle" font-family="'Liberation Serif', 'Times New Roman', serif" textLength="23.9" lengthAdjust="spacingAndGlyphs" stroke="#111" stroke-width="0.3">DEGs</text>
<text x="463.4" y="165.4" font-size="10.0" fill="#111" text-anchor="middle" font-family="'Liberation Serif', 'Times New Roman', serif" textLength="26.2" lengthAdjust="spacingAndGlyphs" stroke="#111" stroke-width="0.3">EWSS</text>
<text x="427.8" y="251.8" font-size="10.0" fill="#111" text-anchor="middle" font-family="'Liberation Serif', 'Times New Roman', serif" textLength="36.3" lengthAdjust="spacingAndGlyphs" stroke="#111" stroke-width="0.3">WGCNA</text>
</svg></body></html>
